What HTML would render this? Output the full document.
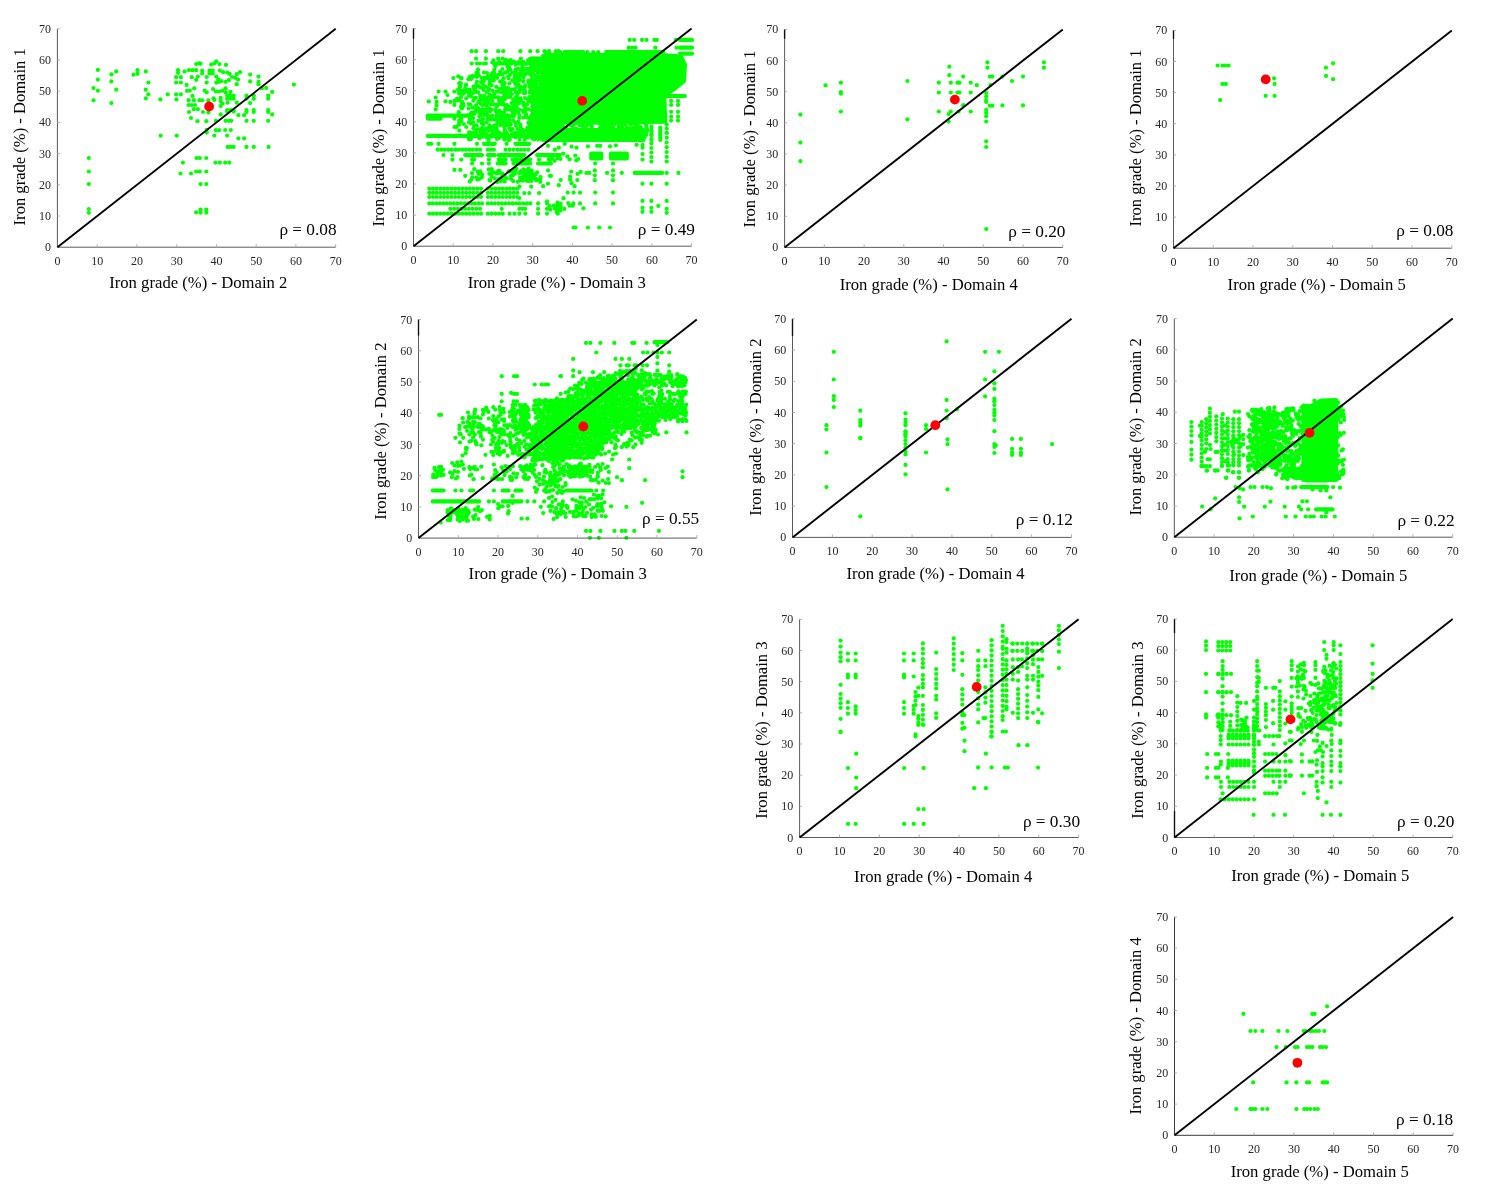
<!DOCTYPE html><html><head><meta charset="utf-8"><style>html,body{margin:0;padding:0;background:#fff;}svg{display:block;}text{font-family:"Liberation Serif","Times New Roman",serif;}</style></head><body>
<svg width="1492" height="1196" viewBox="0 0 1492 1196">
<rect width="1492" height="1196" fill="#fff"/>
<g fill="#00ff00"><circle cx="97.9" cy="69.9" r="2.1"/><circle cx="97.9" cy="79.6" r="2.1"/><circle cx="93.5" cy="88.1" r="2.1"/><circle cx="97.9" cy="90.7" r="2.1"/><circle cx="93.5" cy="100.3" r="2.1"/><circle cx="111.4" cy="74.4" r="2.1"/><circle cx="116.2" cy="71.4" r="2.1"/><circle cx="111.4" cy="81.4" r="2.1"/><circle cx="116.2" cy="89.7" r="2.1"/><circle cx="111.4" cy="103.1" r="2.1"/><circle cx="133.5" cy="74.7" r="2.1"/><circle cx="137.5" cy="70.2" r="2.1"/><circle cx="137.5" cy="73.8" r="2.1"/><circle cx="145.8" cy="71.4" r="2.1"/><circle cx="148.4" cy="82.5" r="2.1"/><circle cx="145.8" cy="89.7" r="2.1"/><circle cx="148.4" cy="94.3" r="2.1"/><circle cx="145.8" cy="98.3" r="2.1"/><circle cx="160.4" cy="99.4" r="2.1"/><circle cx="167.7" cy="94.3" r="2.1"/><circle cx="178" cy="70.2" r="2.1"/><circle cx="178" cy="73" r="2.1"/><circle cx="176.1" cy="77.2" r="2.1"/><circle cx="180.9" cy="77.2" r="2.1"/><circle cx="176.1" cy="82.5" r="2.1"/><circle cx="180.9" cy="82.5" r="2.1"/><circle cx="176.1" cy="94.3" r="2.1"/><circle cx="180.9" cy="94.3" r="2.1"/><circle cx="176.5" cy="99.4" r="2.1"/><circle cx="184.6" cy="71.4" r="2.1"/><circle cx="189" cy="70.2" r="2.1"/><circle cx="192.6" cy="70.2" r="2.1"/><circle cx="196.2" cy="70.2" r="2.1"/><circle cx="196.2" cy="64.1" r="2.1"/><circle cx="199" cy="63.3" r="2.1"/><circle cx="191.8" cy="77.2" r="2.1"/><circle cx="196.2" cy="79.8" r="2.1"/><circle cx="197.8" cy="76.6" r="2.1"/><circle cx="186.6" cy="84.9" r="2.1"/><circle cx="194.2" cy="88.3" r="2.1"/><circle cx="187" cy="90.8" r="2.1"/><circle cx="189.8" cy="90.7" r="2.1"/><circle cx="192.6" cy="95.9" r="2.1"/><circle cx="188.6" cy="100.2" r="2.1"/><circle cx="193.8" cy="100.2" r="2.1"/><circle cx="199.4" cy="100.2" r="2.1"/><circle cx="188.6" cy="105" r="2.1"/><circle cx="191.8" cy="105" r="2.1"/><circle cx="195" cy="105" r="2.1"/><circle cx="193.8" cy="109.2" r="2.1"/><circle cx="197.8" cy="109.2" r="2.1"/><circle cx="189" cy="112" r="2.1"/><circle cx="191" cy="118" r="2.1"/><circle cx="197.4" cy="121.2" r="2.1"/><circle cx="216.3" cy="61.3" r="2.1"/><circle cx="214.3" cy="63.3" r="2.1"/><circle cx="211.1" cy="64.5" r="2.1"/><circle cx="219.5" cy="64.1" r="2.1"/><circle cx="226" cy="64.9" r="2.1"/><circle cx="200.6" cy="63.7" r="2.1"/><circle cx="209.5" cy="70.6" r="2.1"/><circle cx="212.7" cy="70.6" r="2.1"/><circle cx="209.5" cy="73.4" r="2.1"/><circle cx="212.7" cy="73.4" r="2.1"/><circle cx="202.2" cy="70.6" r="2.1"/><circle cx="202.2" cy="73.4" r="2.1"/><circle cx="219.9" cy="70.6" r="2.1"/><circle cx="223.2" cy="72.2" r="2.1"/><circle cx="227.2" cy="72.6" r="2.1"/><circle cx="229.6" cy="73.8" r="2.1"/><circle cx="236.8" cy="74.2" r="2.1"/><circle cx="240" cy="72.2" r="2.1"/><circle cx="206.7" cy="77" r="2.1"/><circle cx="216.3" cy="76.6" r="2.1"/><circle cx="218.3" cy="79.4" r="2.1"/><circle cx="221.5" cy="81" r="2.1"/><circle cx="216.3" cy="82.6" r="2.1"/><circle cx="219.1" cy="81.8" r="2.1"/><circle cx="225.6" cy="81.8" r="2.1"/><circle cx="228.8" cy="80.2" r="2.1"/><circle cx="232" cy="77" r="2.1"/><circle cx="235.2" cy="77.8" r="2.1"/><circle cx="238" cy="79.4" r="2.1"/><circle cx="236.8" cy="84.2" r="2.1"/><circle cx="206.7" cy="82.6" r="2.1"/><circle cx="250.1" cy="74.6" r="2.1"/><circle cx="250.1" cy="81.4" r="2.1"/><circle cx="258.5" cy="76.6" r="2.1"/><circle cx="258.5" cy="81.8" r="2.1"/><circle cx="258.5" cy="84.2" r="2.1"/><circle cx="204.7" cy="90.7" r="2.1"/><circle cx="206.7" cy="92.3" r="2.1"/><circle cx="213.1" cy="89.1" r="2.1"/><circle cx="215.9" cy="91.5" r="2.1"/><circle cx="219.1" cy="91.5" r="2.1"/><circle cx="222.3" cy="90.7" r="2.1"/><circle cx="225.6" cy="88.3" r="2.1"/><circle cx="225.6" cy="92.3" r="2.1"/><circle cx="230.4" cy="91.9" r="2.1"/><circle cx="261.8" cy="88.3" r="2.1"/><circle cx="266.2" cy="87.9" r="2.1"/><circle cx="272.2" cy="91.9" r="2.1"/><circle cx="227.2" cy="95.5" r="2.1"/><circle cx="230.4" cy="95.5" r="2.1"/><circle cx="233.6" cy="95.5" r="2.1"/><circle cx="227.2" cy="98.7" r="2.1"/><circle cx="230.4" cy="98.7" r="2.1"/><circle cx="233.6" cy="98.7" r="2.1"/><circle cx="220.7" cy="97.9" r="2.1"/><circle cx="220.7" cy="101.1" r="2.1"/><circle cx="222.3" cy="103.5" r="2.1"/><circle cx="227.6" cy="102.7" r="2.1"/><circle cx="236.8" cy="102.7" r="2.1"/><circle cx="213.5" cy="98.3" r="2.1"/><circle cx="214.3" cy="99.9" r="2.1"/><circle cx="202.2" cy="100.3" r="2.1"/><circle cx="208.3" cy="100.3" r="2.1"/><circle cx="246.5" cy="95.5" r="2.1"/><circle cx="246.5" cy="98.7" r="2.1"/><circle cx="253.7" cy="95.5" r="2.1"/><circle cx="253.7" cy="98.7" r="2.1"/><circle cx="250.1" cy="103.1" r="2.1"/><circle cx="268.2" cy="95.5" r="2.1"/><circle cx="268.2" cy="98.7" r="2.1"/><circle cx="220.7" cy="106" r="2.1"/><circle cx="203" cy="112" r="2.1"/><circle cx="208.3" cy="112.4" r="2.1"/><circle cx="227.2" cy="110" r="2.1"/><circle cx="230.4" cy="110" r="2.1"/><circle cx="233.6" cy="110" r="2.1"/><circle cx="227.2" cy="111.6" r="2.1"/><circle cx="233.6" cy="111.6" r="2.1"/><circle cx="220.7" cy="114.4" r="2.1"/><circle cx="238.4" cy="115.2" r="2.1"/><circle cx="244.1" cy="115.2" r="2.1"/><circle cx="246.5" cy="110" r="2.1"/><circle cx="246.5" cy="112" r="2.1"/><circle cx="253.7" cy="110" r="2.1"/><circle cx="253.7" cy="112" r="2.1"/><circle cx="268.2" cy="110" r="2.1"/><circle cx="268.2" cy="112" r="2.1"/><circle cx="272.2" cy="114.4" r="2.1"/><circle cx="206.3" cy="121.2" r="2.1"/><circle cx="215.9" cy="120.8" r="2.1"/><circle cx="225.6" cy="120.8" r="2.1"/><circle cx="228.8" cy="120.8" r="2.1"/><circle cx="231.2" cy="120.8" r="2.1"/><circle cx="246.5" cy="120.8" r="2.1"/><circle cx="253.7" cy="120.8" r="2.1"/><circle cx="268.2" cy="120.8" r="2.1"/><circle cx="293.9" cy="84.6" r="2.1"/><circle cx="160.7" cy="135.6" r="2.1"/><circle cx="176.8" cy="135.6" r="2.1"/><circle cx="88.8" cy="158" r="2.1"/><circle cx="88.8" cy="171.5" r="2.1"/><circle cx="88.8" cy="184.1" r="2.1"/><circle cx="88.8" cy="209" r="2.1"/><circle cx="88.8" cy="212.8" r="2.1"/><circle cx="182.9" cy="162.6" r="2.1"/><circle cx="180.5" cy="173.5" r="2.1"/><circle cx="191" cy="173.5" r="2.1"/><circle cx="206.7" cy="129.8" r="2.1"/><circle cx="215.9" cy="130.2" r="2.1"/><circle cx="219.1" cy="130.2" r="2.1"/><circle cx="225.2" cy="130" r="2.1"/><circle cx="230.8" cy="130" r="2.1"/><circle cx="206.7" cy="132.6" r="2.1"/><circle cx="214.3" cy="135.5" r="2.1"/><circle cx="227.2" cy="135.5" r="2.1"/><circle cx="238.4" cy="138.3" r="2.1"/><circle cx="244.1" cy="138.3" r="2.1"/><circle cx="227.6" cy="146.9" r="2.1"/><circle cx="230.4" cy="146.9" r="2.1"/><circle cx="233.6" cy="146.9" r="2.1"/><circle cx="246.5" cy="146.9" r="2.1"/><circle cx="253.7" cy="146.9" r="2.1"/><circle cx="268.6" cy="146.9" r="2.1"/><circle cx="196.6" cy="158" r="2.1"/><circle cx="199.8" cy="158" r="2.1"/><circle cx="206.3" cy="158" r="2.1"/><circle cx="215.5" cy="162.6" r="2.1"/><circle cx="219.9" cy="162.6" r="2.1"/><circle cx="225.2" cy="162.6" r="2.1"/><circle cx="229.2" cy="162.6" r="2.1"/><circle cx="196.2" cy="171.5" r="2.1"/><circle cx="199.8" cy="171.5" r="2.1"/><circle cx="206.3" cy="171.5" r="2.1"/><circle cx="200.6" cy="184.1" r="2.1"/><circle cx="206.3" cy="184.1" r="2.1"/><circle cx="200.6" cy="209.5" r="2.1"/><circle cx="206.3" cy="209.5" r="2.1"/><circle cx="200.6" cy="212.7" r="2.1"/><circle cx="206.3" cy="212.7" r="2.1"/><circle cx="196.2" cy="212.3" r="2.1"/></g>
<path d="M57.4 28.8V247.2H335.7" fill="none" stroke="#5a5a5a" stroke-width="1"/>
<path d="M57.4 216h2.5M97.2 247.2v-3M57.4 184.8h2.5M136.9 247.2v-3M57.4 153.6h2.5M176.7 247.2v-3M57.4 122.4h2.5M216.4 247.2v-3M57.4 91.2h2.5M256.2 247.2v-3M57.4 60h2.5M295.9 247.2v-3M57.4 28.8h2.5M335.7 247.2v-3" stroke="#b0b0b0" stroke-width="1"/>
<line x1="57.4" y1="247.2" x2="335.7" y2="28.8" stroke="#000" stroke-width="1.9"/>
<circle cx="209.1" cy="106.5" r="4.9" fill="#ff0000"/>
<g font-size="12" fill="#262626"><text x="57.4" y="264.7" text-anchor="middle">0</text><text x="51.1" y="251.2" text-anchor="end">0</text><text x="97.2" y="264.7" text-anchor="middle">10</text><text x="51.1" y="220" text-anchor="end">10</text><text x="136.9" y="264.7" text-anchor="middle">20</text><text x="51.1" y="188.8" text-anchor="end">20</text><text x="176.7" y="264.7" text-anchor="middle">30</text><text x="51.1" y="157.6" text-anchor="end">30</text><text x="216.4" y="264.7" text-anchor="middle">40</text><text x="51.1" y="126.4" text-anchor="end">40</text><text x="256.2" y="264.7" text-anchor="middle">50</text><text x="51.1" y="95.2" text-anchor="end">50</text><text x="295.9" y="264.7" text-anchor="middle">60</text><text x="51.1" y="64" text-anchor="end">60</text><text x="335.7" y="264.7" text-anchor="middle">70</text><text x="51.1" y="32.8" text-anchor="end">70</text></g>
<text x="109.2" y="287.9" font-size="17" textLength="178.2" lengthAdjust="spacingAndGlyphs">Iron grade (%) - Domain 2</text>
<text transform="translate(24.7 225.4) rotate(-90)" font-size="17" textLength="177.2" lengthAdjust="spacingAndGlyphs">Iron grade (%) - Domain 1</text>
<text x="336.6" y="234.9" font-size="17" text-anchor="end" textLength="57.2" lengthAdjust="spacingAndGlyphs">ρ = 0.08</text>
<g fill="#00ff00"><circle cx="474.3" cy="169.2" r="2.1"/><circle cx="477.7" cy="171.5" r="2.1"/><circle cx="480.4" cy="171.3" r="2.1"/><circle cx="472" cy="173.2" r="2.1"/><circle cx="478.7" cy="173.8" r="2.1"/><circle cx="482.1" cy="174.6" r="2.1"/><circle cx="472.4" cy="177.3" r="2.1"/><circle cx="476.4" cy="177.3" r="2.1"/><circle cx="481.9" cy="177.3" r="2.1"/><circle cx="471.3" cy="179.8" r="2.1"/><circle cx="477.4" cy="179.6" r="2.1"/><circle cx="479.6" cy="178.8" r="2.1"/><circle cx="469.8" cy="181.6" r="2.1"/><circle cx="488.7" cy="169.4" r="2.1"/><circle cx="491.7" cy="169" r="2.1"/><circle cx="491.7" cy="170.8" r="2.1"/><circle cx="493.9" cy="172.3" r="2.1"/><circle cx="498" cy="171.2" r="2.1"/><circle cx="499.4" cy="170.9" r="2.1"/><circle cx="508.6" cy="171.4" r="2.1"/><circle cx="489.3" cy="173.8" r="2.1"/><circle cx="491.4" cy="173.8" r="2.1"/><circle cx="495.6" cy="173" r="2.1"/><circle cx="496.9" cy="173.3" r="2.1"/><circle cx="499.3" cy="172.9" r="2.1"/><circle cx="502.4" cy="173.6" r="2.1"/><circle cx="491.7" cy="176.7" r="2.1"/><circle cx="502" cy="176.6" r="2.1"/><circle cx="504.5" cy="175.6" r="2.1"/><circle cx="489.5" cy="179.8" r="2.1"/><circle cx="494.9" cy="178.4" r="2.1"/><circle cx="499" cy="178.8" r="2.1"/><circle cx="502.9" cy="179.4" r="2.1"/><circle cx="504.3" cy="177.9" r="2.1"/><circle cx="506.8" cy="178.2" r="2.1"/><circle cx="490.2" cy="180.7" r="2.1"/><circle cx="497.3" cy="182.1" r="2.1"/><circle cx="500.8" cy="181.3" r="2.1"/><circle cx="504.7" cy="181.4" r="2.1"/><circle cx="516.4" cy="168.5" r="2.1"/><circle cx="523.5" cy="169.3" r="2.1"/><circle cx="528.5" cy="168.6" r="2.1"/><circle cx="511.3" cy="171.2" r="2.1"/><circle cx="512.8" cy="170.3" r="2.1"/><circle cx="515.5" cy="170.5" r="2.1"/><circle cx="520.8" cy="171.2" r="2.1"/><circle cx="523.2" cy="171.4" r="2.1"/><circle cx="527.1" cy="170" r="2.1"/><circle cx="528.3" cy="171" r="2.1"/><circle cx="531.7" cy="170.5" r="2.1"/><circle cx="513.2" cy="172.8" r="2.1"/><circle cx="514.8" cy="173.7" r="2.1"/><circle cx="519.1" cy="173.4" r="2.1"/><circle cx="523.4" cy="173.9" r="2.1"/><circle cx="525.4" cy="173.6" r="2.1"/><circle cx="528.3" cy="174.1" r="2.1"/><circle cx="530.7" cy="173.8" r="2.1"/><circle cx="533.1" cy="173.7" r="2.1"/><circle cx="510.9" cy="175.9" r="2.1"/><circle cx="513.1" cy="175.2" r="2.1"/><circle cx="523.5" cy="175.6" r="2.1"/><circle cx="526.5" cy="176.9" r="2.1"/><circle cx="528.1" cy="176.9" r="2.1"/><circle cx="531.4" cy="175.9" r="2.1"/><circle cx="534.1" cy="175.2" r="2.1"/><circle cx="510.9" cy="178.8" r="2.1"/><circle cx="520.2" cy="177.5" r="2.1"/><circle cx="523.2" cy="178.4" r="2.1"/><circle cx="528.3" cy="178.2" r="2.1"/><circle cx="531.1" cy="179.4" r="2.1"/><circle cx="533.8" cy="177.7" r="2.1"/><circle cx="513.3" cy="181.2" r="2.1"/><circle cx="517.7" cy="181.8" r="2.1"/><circle cx="520.2" cy="180.2" r="2.1"/><circle cx="522.8" cy="180.7" r="2.1"/><circle cx="526.7" cy="180.7" r="2.1"/><circle cx="528.3" cy="181.1" r="2.1"/><circle cx="531.4" cy="180.9" r="2.1"/><circle cx="537.1" cy="172.3" r="2.1"/><circle cx="535.6" cy="174.3" r="2.1"/><circle cx="540.6" cy="177.1" r="2.1"/><circle cx="535.4" cy="178.5" r="2.1"/><circle cx="538.1" cy="179.6" r="2.1"/><circle cx="540.4" cy="179.1" r="2.1"/><circle cx="536.1" cy="180.5" r="2.1"/><circle cx="540.1" cy="181.8" r="2.1"/><circle cx="543" cy="56.8" r="2.1"/><circle cx="532.3" cy="58.4" r="2.1"/><circle cx="534.5" cy="58.3" r="2.1"/><circle cx="536.4" cy="59.2" r="2.1"/><circle cx="542.5" cy="59.5" r="2.1"/><circle cx="529.9" cy="60.5" r="2.1"/><circle cx="531.8" cy="61.9" r="2.1"/><circle cx="533.5" cy="61.5" r="2.1"/><circle cx="537.4" cy="61.6" r="2.1"/><circle cx="539.4" cy="62.1" r="2.1"/><circle cx="542.7" cy="62" r="2.1"/><circle cx="532.7" cy="63.5" r="2.1"/><circle cx="534.6" cy="64.4" r="2.1"/><circle cx="537.9" cy="62.8" r="2.1"/><circle cx="539.9" cy="62.7" r="2.1"/><circle cx="542" cy="63.6" r="2.1"/><circle cx="531.4" cy="66.1" r="2.1"/><circle cx="534.2" cy="66.4" r="2.1"/><circle cx="537.4" cy="65.5" r="2.1"/><circle cx="539.2" cy="65.4" r="2.1"/><circle cx="542.5" cy="65.9" r="2.1"/><circle cx="529.8" cy="68.8" r="2.1"/><circle cx="531.4" cy="69.6" r="2.1"/><circle cx="534.5" cy="68.1" r="2.1"/><circle cx="537.2" cy="69.3" r="2.1"/><circle cx="539" cy="67.8" r="2.1"/><circle cx="542.3" cy="68.6" r="2.1"/><circle cx="529.5" cy="71.5" r="2.1"/><circle cx="532.1" cy="70.5" r="2.1"/><circle cx="535" cy="70.5" r="2.1"/><circle cx="538" cy="71.3" r="2.1"/><circle cx="539.6" cy="71.9" r="2.1"/><circle cx="541.8" cy="71.1" r="2.1"/><circle cx="529.9" cy="74.2" r="2.1"/><circle cx="532.7" cy="73" r="2.1"/><circle cx="533.6" cy="74.4" r="2.1"/><circle cx="537.6" cy="72.9" r="2.1"/><circle cx="539.1" cy="72.6" r="2.1"/><circle cx="542.6" cy="73.1" r="2.1"/><circle cx="531.6" cy="75.2" r="2.1"/><circle cx="534.7" cy="75.6" r="2.1"/><circle cx="537.5" cy="76.9" r="2.1"/><circle cx="539.8" cy="76.9" r="2.1"/><circle cx="542.4" cy="76.1" r="2.1"/><circle cx="531.6" cy="78.9" r="2.1"/><circle cx="535.3" cy="79.4" r="2.1"/><circle cx="536.5" cy="78.4" r="2.1"/><circle cx="539.4" cy="78" r="2.1"/><circle cx="541.9" cy="78.1" r="2.1"/><circle cx="529.5" cy="81.9" r="2.1"/><circle cx="531.3" cy="80.2" r="2.1"/><circle cx="535.3" cy="80.6" r="2.1"/><circle cx="536.8" cy="80.9" r="2.1"/><circle cx="539.8" cy="80.8" r="2.1"/><circle cx="541.8" cy="80.9" r="2.1"/><circle cx="529.3" cy="83.2" r="2.1"/><circle cx="531.1" cy="83.1" r="2.1"/><circle cx="533.5" cy="83.3" r="2.1"/><circle cx="536.6" cy="84" r="2.1"/><circle cx="540.3" cy="83.4" r="2.1"/><circle cx="542.2" cy="83.5" r="2.1"/><circle cx="529.4" cy="86.7" r="2.1"/><circle cx="531.7" cy="86.7" r="2.1"/><circle cx="534.6" cy="86.2" r="2.1"/><circle cx="536.7" cy="86.7" r="2.1"/><circle cx="540.6" cy="86.3" r="2.1"/><circle cx="541.8" cy="85.5" r="2.1"/><circle cx="531.2" cy="88.1" r="2.1"/><circle cx="533.9" cy="88" r="2.1"/><circle cx="537.8" cy="88.3" r="2.1"/><circle cx="539.3" cy="87.8" r="2.1"/><circle cx="542.5" cy="89.4" r="2.1"/><circle cx="530.1" cy="91.1" r="2.1"/><circle cx="532.1" cy="91.7" r="2.1"/><circle cx="534.3" cy="91.5" r="2.1"/><circle cx="536.7" cy="90.3" r="2.1"/><circle cx="540.1" cy="90.9" r="2.1"/><circle cx="541.6" cy="91" r="2.1"/><circle cx="529.9" cy="92.7" r="2.1"/><circle cx="532.8" cy="93.5" r="2.1"/><circle cx="535.2" cy="92.6" r="2.1"/><circle cx="537" cy="93" r="2.1"/><circle cx="540.4" cy="93.5" r="2.1"/><circle cx="542.7" cy="93.8" r="2.1"/><circle cx="529.4" cy="97" r="2.1"/><circle cx="532.8" cy="95.5" r="2.1"/><circle cx="534.1" cy="97" r="2.1"/><circle cx="536.9" cy="95.9" r="2.1"/><circle cx="539.3" cy="96.9" r="2.1"/><circle cx="542.8" cy="96.1" r="2.1"/><circle cx="529.7" cy="98.3" r="2.1"/><circle cx="531.9" cy="98.2" r="2.1"/><circle cx="533.6" cy="98.6" r="2.1"/><circle cx="537" cy="98.4" r="2.1"/><circle cx="539.1" cy="98.6" r="2.1"/><circle cx="542.7" cy="99.3" r="2.1"/><circle cx="531" cy="101.7" r="2.1"/><circle cx="534.7" cy="101.5" r="2.1"/><circle cx="537.2" cy="100.3" r="2.1"/><circle cx="540.6" cy="101.7" r="2.1"/><circle cx="532.6" cy="103.8" r="2.1"/><circle cx="533.8" cy="103.3" r="2.1"/><circle cx="536.9" cy="103.6" r="2.1"/><circle cx="539.9" cy="103" r="2.1"/><circle cx="542.9" cy="104.6" r="2.1"/><circle cx="532.4" cy="106.3" r="2.1"/><circle cx="534" cy="106.9" r="2.1"/><circle cx="537.7" cy="106.6" r="2.1"/><circle cx="540.2" cy="106.7" r="2.1"/><circle cx="541.3" cy="106.2" r="2.1"/><circle cx="532.6" cy="108.3" r="2.1"/><circle cx="534.7" cy="107.9" r="2.1"/><circle cx="537.3" cy="109.1" r="2.1"/><circle cx="539.6" cy="107.9" r="2.1"/><circle cx="542.9" cy="108.6" r="2.1"/><circle cx="531.4" cy="110.3" r="2.1"/><circle cx="533.5" cy="111.2" r="2.1"/><circle cx="537.5" cy="111.1" r="2.1"/><circle cx="539.1" cy="111.5" r="2.1"/><circle cx="542" cy="111.7" r="2.1"/><circle cx="532.4" cy="113.6" r="2.1"/><circle cx="535.1" cy="112.8" r="2.1"/><circle cx="537.5" cy="113.9" r="2.1"/><circle cx="540.2" cy="113.8" r="2.1"/><circle cx="542.4" cy="112.8" r="2.1"/><circle cx="530.2" cy="116.8" r="2.1"/><circle cx="531.2" cy="116.2" r="2.1"/><circle cx="534.4" cy="115.5" r="2.1"/><circle cx="536.8" cy="115.9" r="2.1"/><circle cx="540" cy="116.4" r="2.1"/><circle cx="541.8" cy="116.2" r="2.1"/><circle cx="529.9" cy="118.4" r="2.1"/><circle cx="531.3" cy="118.6" r="2.1"/><circle cx="535.2" cy="118.3" r="2.1"/><circle cx="537.1" cy="119.6" r="2.1"/><circle cx="540.6" cy="119.4" r="2.1"/><circle cx="542.7" cy="118.9" r="2.1"/><circle cx="529.9" cy="121.8" r="2.1"/><circle cx="532.7" cy="120.6" r="2.1"/><circle cx="534" cy="121.2" r="2.1"/><circle cx="536.4" cy="121.6" r="2.1"/><circle cx="540.2" cy="120.5" r="2.1"/><circle cx="529.4" cy="124" r="2.1"/><circle cx="531.9" cy="124.2" r="2.1"/><circle cx="534" cy="124.6" r="2.1"/><circle cx="537.5" cy="123.9" r="2.1"/><circle cx="538.9" cy="122.6" r="2.1"/><circle cx="541.6" cy="123.1" r="2.1"/><circle cx="529.9" cy="125.9" r="2.1"/><circle cx="531.7" cy="125.8" r="2.1"/><circle cx="534.9" cy="126.4" r="2.1"/><circle cx="537.1" cy="125.6" r="2.1"/><circle cx="539.3" cy="125.7" r="2.1"/><circle cx="542.1" cy="127" r="2.1"/><circle cx="530.2" cy="128.6" r="2.1"/><circle cx="532" cy="129.2" r="2.1"/><circle cx="533.5" cy="129.2" r="2.1"/><circle cx="537.6" cy="128.4" r="2.1"/><circle cx="539.6" cy="127.7" r="2.1"/><circle cx="542.7" cy="128.5" r="2.1"/><circle cx="530.1" cy="131.6" r="2.1"/><circle cx="532.2" cy="131.1" r="2.1"/><circle cx="533.8" cy="131.1" r="2.1"/><circle cx="536.6" cy="130.2" r="2.1"/><circle cx="538.8" cy="131.1" r="2.1"/><circle cx="541.4" cy="130.7" r="2.1"/><circle cx="529.3" cy="134.1" r="2.1"/><circle cx="532.5" cy="132.9" r="2.1"/><circle cx="534.2" cy="132.9" r="2.1"/><circle cx="536.5" cy="133.5" r="2.1"/><circle cx="538.8" cy="133.4" r="2.1"/><circle cx="541.9" cy="133.7" r="2.1"/><circle cx="529.9" cy="135.5" r="2.1"/><circle cx="530.9" cy="136.8" r="2.1"/><circle cx="533.6" cy="136.2" r="2.1"/><circle cx="537.7" cy="135.9" r="2.1"/><circle cx="539.1" cy="136" r="2.1"/><circle cx="542.2" cy="136.7" r="2.1"/><circle cx="532" cy="138.1" r="2.1"/><circle cx="534.2" cy="139.5" r="2.1"/><circle cx="537.9" cy="139.3" r="2.1"/><circle cx="540.3" cy="138.1" r="2.1"/><circle cx="541.7" cy="139.2" r="2.1"/><polygon points="543.1,56.1 560,55.6 560,140 543.1,140" stroke="#00ff00" stroke-width="4.2" stroke-linejoin="round"/><circle cx="510.2" cy="69.5" r="2.1"/><circle cx="515.6" cy="69.4" r="2.1"/><circle cx="517.1" cy="69.2" r="2.1"/><circle cx="522.8" cy="69.7" r="2.1"/><circle cx="526" cy="69" r="2.1"/><circle cx="476.4" cy="72.8" r="2.1"/><circle cx="477.8" cy="72.5" r="2.1"/><circle cx="487" cy="73.1" r="2.1"/><circle cx="492.4" cy="73" r="2.1"/><circle cx="494" cy="72.5" r="2.1"/><circle cx="500.1" cy="71.9" r="2.1"/><circle cx="504.9" cy="72.7" r="2.1"/><circle cx="507" cy="72.1" r="2.1"/><circle cx="512.3" cy="72.5" r="2.1"/><circle cx="515.5" cy="72.6" r="2.1"/><circle cx="520.9" cy="72.4" r="2.1"/><circle cx="522.3" cy="72.5" r="2.1"/><circle cx="525.8" cy="73.3" r="2.1"/><circle cx="527.9" cy="73.3" r="2.1"/><circle cx="472.6" cy="75.9" r="2.1"/><circle cx="476.2" cy="75.5" r="2.1"/><circle cx="478.9" cy="75.5" r="2.1"/><circle cx="491.1" cy="74.4" r="2.1"/><circle cx="494.7" cy="75.9" r="2.1"/><circle cx="497.1" cy="75.2" r="2.1"/><circle cx="499.9" cy="74.4" r="2.1"/><circle cx="502.3" cy="74.4" r="2.1"/><circle cx="509.9" cy="74.8" r="2.1"/><circle cx="514.8" cy="75.9" r="2.1"/><circle cx="518.1" cy="74.2" r="2.1"/><circle cx="519.5" cy="75.5" r="2.1"/><circle cx="522" cy="75.2" r="2.1"/><circle cx="524.8" cy="75" r="2.1"/><circle cx="469.8" cy="76.9" r="2.1"/><circle cx="473.5" cy="76.6" r="2.1"/><circle cx="476.9" cy="77" r="2.1"/><circle cx="481.8" cy="78" r="2.1"/><circle cx="484.3" cy="77.6" r="2.1"/><circle cx="487.3" cy="78.4" r="2.1"/><circle cx="488" cy="76.6" r="2.1"/><circle cx="492.2" cy="77.3" r="2.1"/><circle cx="494.6" cy="77.4" r="2.1"/><circle cx="497.1" cy="78" r="2.1"/><circle cx="503.7" cy="78.2" r="2.1"/><circle cx="508.1" cy="76.5" r="2.1"/><circle cx="508.8" cy="78.4" r="2.1"/><circle cx="514.6" cy="78.2" r="2.1"/><circle cx="517.7" cy="76.5" r="2.1"/><circle cx="519.3" cy="78.3" r="2.1"/><circle cx="523.6" cy="78" r="2.1"/><circle cx="468.4" cy="79.2" r="2.1"/><circle cx="471.1" cy="79.1" r="2.1"/><circle cx="483.9" cy="80.9" r="2.1"/><circle cx="489.6" cy="79.9" r="2.1"/><circle cx="491.3" cy="79.9" r="2.1"/><circle cx="493.8" cy="80.7" r="2.1"/><circle cx="502.6" cy="80.6" r="2.1"/><circle cx="512.6" cy="80.5" r="2.1"/><circle cx="517.8" cy="80.3" r="2.1"/><circle cx="520" cy="80" r="2.1"/><circle cx="528.4" cy="80.7" r="2.1"/><circle cx="476.9" cy="81.9" r="2.1"/><circle cx="481.1" cy="82.2" r="2.1"/><circle cx="489.7" cy="82.4" r="2.1"/><circle cx="500" cy="81.5" r="2.1"/><circle cx="504.7" cy="83.1" r="2.1"/><circle cx="509.5" cy="83.3" r="2.1"/><circle cx="514.8" cy="82.2" r="2.1"/><circle cx="523.2" cy="81.5" r="2.1"/><circle cx="528.6" cy="82.5" r="2.1"/><circle cx="476.1" cy="85" r="2.1"/><circle cx="478.1" cy="85.8" r="2.1"/><circle cx="483" cy="84.5" r="2.1"/><circle cx="489.5" cy="84.5" r="2.1"/><circle cx="491.6" cy="85.3" r="2.1"/><circle cx="502.2" cy="84.1" r="2.1"/><circle cx="503.7" cy="84.4" r="2.1"/><circle cx="515.4" cy="84.1" r="2.1"/><circle cx="518.5" cy="84" r="2.1"/><circle cx="525.2" cy="85.4" r="2.1"/><circle cx="473.5" cy="86.6" r="2.1"/><circle cx="475.2" cy="88.1" r="2.1"/><circle cx="479.3" cy="87" r="2.1"/><circle cx="482.1" cy="87.9" r="2.1"/><circle cx="485.8" cy="86.6" r="2.1"/><circle cx="488.6" cy="88.3" r="2.1"/><circle cx="496.2" cy="86.8" r="2.1"/><circle cx="502.6" cy="87.3" r="2.1"/><circle cx="504.4" cy="87.5" r="2.1"/><circle cx="507.9" cy="87.9" r="2.1"/><circle cx="517.3" cy="87" r="2.1"/><circle cx="520.1" cy="86.6" r="2.1"/><circle cx="522.6" cy="87.8" r="2.1"/><circle cx="524.5" cy="87.3" r="2.1"/><circle cx="468.6" cy="90.8" r="2.1"/><circle cx="469.9" cy="89.9" r="2.1"/><circle cx="474.1" cy="89.1" r="2.1"/><circle cx="475.2" cy="89.9" r="2.1"/><circle cx="483.5" cy="89.9" r="2.1"/><circle cx="489" cy="89.9" r="2.1"/><circle cx="492.5" cy="90.8" r="2.1"/><circle cx="499.2" cy="88.9" r="2.1"/><circle cx="502.8" cy="89" r="2.1"/><circle cx="505.1" cy="89.4" r="2.1"/><circle cx="510.2" cy="90" r="2.1"/><circle cx="511.7" cy="89.4" r="2.1"/><circle cx="514.5" cy="89.2" r="2.1"/><circle cx="520" cy="89.7" r="2.1"/><circle cx="522.1" cy="89.4" r="2.1"/><circle cx="524.9" cy="90.6" r="2.1"/><circle cx="468.8" cy="92.2" r="2.1"/><circle cx="471.3" cy="92.9" r="2.1"/><circle cx="473.2" cy="93" r="2.1"/><circle cx="476.2" cy="92" r="2.1"/><circle cx="478.2" cy="92.3" r="2.1"/><circle cx="486.4" cy="92.1" r="2.1"/><circle cx="496.5" cy="91.7" r="2.1"/><circle cx="499.9" cy="92" r="2.1"/><circle cx="502.8" cy="92.6" r="2.1"/><circle cx="505.3" cy="91.8" r="2.1"/><circle cx="507.1" cy="92.1" r="2.1"/><circle cx="510.3" cy="92.8" r="2.1"/><circle cx="515.9" cy="92.2" r="2.1"/><circle cx="517" cy="92.6" r="2.1"/><circle cx="519.7" cy="91.9" r="2.1"/><circle cx="523.7" cy="93" r="2.1"/><circle cx="525.3" cy="93.1" r="2.1"/><circle cx="468.8" cy="95.8" r="2.1"/><circle cx="470.1" cy="94.5" r="2.1"/><circle cx="480.3" cy="95.7" r="2.1"/><circle cx="484.1" cy="95.7" r="2.1"/><circle cx="489.4" cy="94.6" r="2.1"/><circle cx="492" cy="95.9" r="2.1"/><circle cx="494.1" cy="94.2" r="2.1"/><circle cx="504.5" cy="94" r="2.1"/><circle cx="506.9" cy="95.2" r="2.1"/><circle cx="511.7" cy="94.1" r="2.1"/><circle cx="517.3" cy="94.3" r="2.1"/><circle cx="471" cy="96.5" r="2.1"/><circle cx="474.4" cy="98.1" r="2.1"/><circle cx="475.9" cy="97.8" r="2.1"/><circle cx="480.5" cy="98.1" r="2.1"/><circle cx="483.8" cy="98.1" r="2.1"/><circle cx="486.9" cy="98" r="2.1"/><circle cx="488.6" cy="97.4" r="2.1"/><circle cx="491.5" cy="98" r="2.1"/><circle cx="494.7" cy="97.2" r="2.1"/><circle cx="497.6" cy="97.3" r="2.1"/><circle cx="498.6" cy="97.4" r="2.1"/><circle cx="502.1" cy="97.9" r="2.1"/><circle cx="504" cy="97" r="2.1"/><circle cx="508.2" cy="96.9" r="2.1"/><circle cx="510.3" cy="96.9" r="2.1"/><circle cx="515.7" cy="97.4" r="2.1"/><circle cx="517.6" cy="97.7" r="2.1"/><circle cx="520.4" cy="98.4" r="2.1"/><circle cx="525" cy="98" r="2.1"/><circle cx="473.4" cy="100.7" r="2.1"/><circle cx="479.4" cy="100.5" r="2.1"/><circle cx="481.8" cy="99.9" r="2.1"/><circle cx="483.3" cy="100.1" r="2.1"/><circle cx="485.6" cy="100.1" r="2.1"/><circle cx="488" cy="100.6" r="2.1"/><circle cx="492.2" cy="100.9" r="2.1"/><circle cx="499.1" cy="100.5" r="2.1"/><circle cx="502.7" cy="100.3" r="2.1"/><circle cx="505.1" cy="99.1" r="2.1"/><circle cx="513.2" cy="99.3" r="2.1"/><circle cx="515" cy="100.8" r="2.1"/><circle cx="517.7" cy="100.6" r="2.1"/><circle cx="520.9" cy="100.2" r="2.1"/><circle cx="528" cy="99.8" r="2.1"/><circle cx="478.6" cy="102.2" r="2.1"/><circle cx="484.5" cy="103.3" r="2.1"/><circle cx="485.5" cy="103.3" r="2.1"/><circle cx="488" cy="102.7" r="2.1"/><circle cx="499.5" cy="101.8" r="2.1"/><circle cx="502.8" cy="103" r="2.1"/><circle cx="511.7" cy="103.2" r="2.1"/><circle cx="514" cy="102.1" r="2.1"/><circle cx="517.2" cy="103.2" r="2.1"/><circle cx="519.7" cy="102.9" r="2.1"/><circle cx="523.7" cy="102.8" r="2.1"/><circle cx="528.5" cy="101.6" r="2.1"/><circle cx="468.7" cy="104.1" r="2.1"/><circle cx="470.3" cy="104.5" r="2.1"/><circle cx="476.1" cy="105" r="2.1"/><circle cx="481.3" cy="104.3" r="2.1"/><circle cx="482.8" cy="105.4" r="2.1"/><circle cx="486.4" cy="105.3" r="2.1"/><circle cx="490.9" cy="104.2" r="2.1"/><circle cx="494.2" cy="104.4" r="2.1"/><circle cx="496.8" cy="104.5" r="2.1"/><circle cx="499.4" cy="104.2" r="2.1"/><circle cx="502.8" cy="104.3" r="2.1"/><circle cx="504.1" cy="104.6" r="2.1"/><circle cx="507" cy="105.2" r="2.1"/><circle cx="514.2" cy="105.6" r="2.1"/><circle cx="523.4" cy="105.1" r="2.1"/><circle cx="526" cy="104.6" r="2.1"/><circle cx="527" cy="104.5" r="2.1"/><circle cx="468.7" cy="108.3" r="2.1"/><circle cx="472.7" cy="107.4" r="2.1"/><circle cx="476.6" cy="107.8" r="2.1"/><circle cx="478.4" cy="108.3" r="2.1"/><circle cx="489.4" cy="108.1" r="2.1"/><circle cx="496.7" cy="106.5" r="2.1"/><circle cx="505.4" cy="107.9" r="2.1"/><circle cx="507.3" cy="106.9" r="2.1"/><circle cx="509" cy="106.8" r="2.1"/><circle cx="512.7" cy="107.1" r="2.1"/><circle cx="514.7" cy="107.9" r="2.1"/><circle cx="516.8" cy="106.8" r="2.1"/><circle cx="525.2" cy="107.6" r="2.1"/><circle cx="476.1" cy="109.6" r="2.1"/><circle cx="478.3" cy="110.1" r="2.1"/><circle cx="480.6" cy="109.7" r="2.1"/><circle cx="483.6" cy="109.7" r="2.1"/><circle cx="486.3" cy="109" r="2.1"/><circle cx="491.2" cy="109.7" r="2.1"/><circle cx="495.1" cy="109.6" r="2.1"/><circle cx="495.8" cy="110.6" r="2.1"/><circle cx="499.5" cy="110.6" r="2.1"/><circle cx="505.1" cy="110.1" r="2.1"/><circle cx="507.9" cy="109.5" r="2.1"/><circle cx="509.5" cy="109.3" r="2.1"/><circle cx="512.5" cy="110.1" r="2.1"/><circle cx="514.8" cy="110.3" r="2.1"/><circle cx="519.3" cy="109.5" r="2.1"/><circle cx="522.6" cy="110.5" r="2.1"/><circle cx="525.3" cy="110.7" r="2.1"/><circle cx="528.1" cy="109.1" r="2.1"/><circle cx="471.1" cy="112.9" r="2.1"/><circle cx="472.5" cy="112.7" r="2.1"/><circle cx="475.2" cy="112" r="2.1"/><circle cx="479.2" cy="113.1" r="2.1"/><circle cx="482.1" cy="112.3" r="2.1"/><circle cx="484.5" cy="113" r="2.1"/><circle cx="486.6" cy="112.7" r="2.1"/><circle cx="490" cy="111.5" r="2.1"/><circle cx="496.6" cy="112.2" r="2.1"/><circle cx="499.7" cy="111.9" r="2.1"/><circle cx="502.2" cy="112.8" r="2.1"/><circle cx="504" cy="112.4" r="2.1"/><circle cx="512.5" cy="111.6" r="2.1"/><circle cx="515.9" cy="112.5" r="2.1"/><circle cx="518.1" cy="112.3" r="2.1"/><circle cx="523.4" cy="111.9" r="2.1"/><circle cx="525.5" cy="113.3" r="2.1"/><circle cx="468.8" cy="115.4" r="2.1"/><circle cx="471.5" cy="115.9" r="2.1"/><circle cx="474" cy="113.9" r="2.1"/><circle cx="480.7" cy="115.8" r="2.1"/><circle cx="484.2" cy="115.2" r="2.1"/><circle cx="487.2" cy="115.5" r="2.1"/><circle cx="488.3" cy="115.8" r="2.1"/><circle cx="492.2" cy="115.6" r="2.1"/><circle cx="496.5" cy="115.6" r="2.1"/><circle cx="499.7" cy="115.9" r="2.1"/><circle cx="502.7" cy="114.5" r="2.1"/><circle cx="503.8" cy="115.6" r="2.1"/><circle cx="507.1" cy="115.1" r="2.1"/><circle cx="510.8" cy="115.7" r="2.1"/><circle cx="513.3" cy="114.3" r="2.1"/><circle cx="514.1" cy="115.2" r="2.1"/><circle cx="519.4" cy="115" r="2.1"/><circle cx="526.1" cy="114.9" r="2.1"/><circle cx="469.9" cy="118.3" r="2.1"/><circle cx="473.1" cy="118" r="2.1"/><circle cx="479.4" cy="116.5" r="2.1"/><circle cx="488.1" cy="118.3" r="2.1"/><circle cx="492" cy="116.6" r="2.1"/><circle cx="496.2" cy="118.3" r="2.1"/><circle cx="500.3" cy="116.8" r="2.1"/><circle cx="501.4" cy="118.1" r="2.1"/><circle cx="505.2" cy="118.4" r="2.1"/><circle cx="507.3" cy="118.4" r="2.1"/><circle cx="509.5" cy="118.1" r="2.1"/><circle cx="513.4" cy="117" r="2.1"/><circle cx="519.2" cy="117.9" r="2.1"/><circle cx="523.4" cy="117.6" r="2.1"/><circle cx="525.8" cy="116.5" r="2.1"/><circle cx="527" cy="117.5" r="2.1"/><circle cx="470" cy="119.3" r="2.1"/><circle cx="478.4" cy="120.9" r="2.1"/><circle cx="480.3" cy="120.3" r="2.1"/><circle cx="483" cy="119" r="2.1"/><circle cx="487.3" cy="119" r="2.1"/><circle cx="489" cy="119" r="2.1"/><circle cx="491.1" cy="119.7" r="2.1"/><circle cx="493.9" cy="119.6" r="2.1"/><circle cx="496.7" cy="119.8" r="2.1"/><circle cx="500.1" cy="119.1" r="2.1"/><circle cx="503.7" cy="120.6" r="2.1"/><circle cx="509.5" cy="119.8" r="2.1"/><circle cx="513.3" cy="120.9" r="2.1"/><circle cx="468.9" cy="122.3" r="2.1"/><circle cx="470.6" cy="123.3" r="2.1"/><circle cx="473.3" cy="122" r="2.1"/><circle cx="481.9" cy="123.4" r="2.1"/><circle cx="483" cy="122.7" r="2.1"/><circle cx="486.9" cy="122.5" r="2.1"/><circle cx="497.7" cy="122.4" r="2.1"/><circle cx="500" cy="122.2" r="2.1"/><circle cx="504.3" cy="123.3" r="2.1"/><circle cx="506.2" cy="122.4" r="2.1"/><circle cx="509.8" cy="123.2" r="2.1"/><circle cx="515.8" cy="122.9" r="2.1"/><circle cx="518.3" cy="121.8" r="2.1"/><circle cx="528.3" cy="122.8" r="2.1"/><circle cx="474" cy="125.4" r="2.1"/><circle cx="476.7" cy="125.3" r="2.1"/><circle cx="483.5" cy="124.7" r="2.1"/><circle cx="489.5" cy="125.4" r="2.1"/><circle cx="493.7" cy="125.8" r="2.1"/><circle cx="496.3" cy="124.6" r="2.1"/><circle cx="500.3" cy="125.1" r="2.1"/><circle cx="502" cy="124.5" r="2.1"/><circle cx="505.4" cy="125.3" r="2.1"/><circle cx="507.9" cy="125.5" r="2.1"/><circle cx="510.8" cy="124.5" r="2.1"/><circle cx="516" cy="125.8" r="2.1"/><circle cx="520.1" cy="124.4" r="2.1"/><circle cx="473.4" cy="128.3" r="2.1"/><circle cx="482.1" cy="127.5" r="2.1"/><circle cx="486.4" cy="128.3" r="2.1"/><circle cx="489" cy="128.2" r="2.1"/><circle cx="491.5" cy="127.9" r="2.1"/><circle cx="494.1" cy="126.5" r="2.1"/><circle cx="496.5" cy="127.4" r="2.1"/><circle cx="504.3" cy="127.1" r="2.1"/><circle cx="509.6" cy="128.2" r="2.1"/><circle cx="520.6" cy="126.5" r="2.1"/><circle cx="527.6" cy="127.6" r="2.1"/><circle cx="476.2" cy="130.1" r="2.1"/><circle cx="478.1" cy="129" r="2.1"/><circle cx="481.4" cy="129.4" r="2.1"/><circle cx="484.3" cy="129.3" r="2.1"/><circle cx="488.4" cy="130.8" r="2.1"/><circle cx="491.4" cy="129.8" r="2.1"/><circle cx="494.9" cy="129.7" r="2.1"/><circle cx="496.9" cy="129.9" r="2.1"/><circle cx="504.9" cy="129.9" r="2.1"/><circle cx="510.5" cy="130.3" r="2.1"/><circle cx="512.4" cy="129.2" r="2.1"/><circle cx="517.7" cy="129" r="2.1"/><circle cx="519.7" cy="130.8" r="2.1"/><circle cx="522.4" cy="129.5" r="2.1"/><circle cx="525.3" cy="130.4" r="2.1"/><circle cx="528.8" cy="130.6" r="2.1"/><circle cx="469.1" cy="132.3" r="2.1"/><circle cx="470.2" cy="132.7" r="2.1"/><circle cx="473.9" cy="132.7" r="2.1"/><circle cx="476.4" cy="133" r="2.1"/><circle cx="480.4" cy="132" r="2.1"/><circle cx="484" cy="132.6" r="2.1"/><circle cx="485.8" cy="133.4" r="2.1"/><circle cx="492.3" cy="132.8" r="2.1"/><circle cx="493.8" cy="133" r="2.1"/><circle cx="496.9" cy="131.8" r="2.1"/><circle cx="499.5" cy="132.5" r="2.1"/><circle cx="504.4" cy="132.5" r="2.1"/><circle cx="506.8" cy="132.9" r="2.1"/><circle cx="512.4" cy="133.4" r="2.1"/><circle cx="515.1" cy="132.9" r="2.1"/><circle cx="517" cy="133.4" r="2.1"/><circle cx="519.4" cy="132.2" r="2.1"/><circle cx="523.5" cy="132.2" r="2.1"/><circle cx="525.4" cy="131.6" r="2.1"/><circle cx="528.3" cy="132.4" r="2.1"/><circle cx="468.8" cy="135.1" r="2.1"/><circle cx="471.2" cy="134.1" r="2.1"/><circle cx="473.3" cy="134.6" r="2.1"/><circle cx="481.2" cy="134" r="2.1"/><circle cx="488.5" cy="135.5" r="2.1"/><circle cx="492.3" cy="134.4" r="2.1"/><circle cx="495.1" cy="134.4" r="2.1"/><circle cx="496.9" cy="135.4" r="2.1"/><circle cx="501.8" cy="134.7" r="2.1"/><circle cx="504.5" cy="135.4" r="2.1"/><circle cx="507.7" cy="135.4" r="2.1"/><circle cx="511.9" cy="135.4" r="2.1"/><circle cx="515.2" cy="134.4" r="2.1"/><circle cx="517.8" cy="134.4" r="2.1"/><circle cx="522.3" cy="134.7" r="2.1"/><circle cx="472.6" cy="136.5" r="2.1"/><circle cx="479.4" cy="138.3" r="2.1"/><circle cx="480.5" cy="136.9" r="2.1"/><circle cx="483.1" cy="136.7" r="2.1"/><circle cx="486.7" cy="137.5" r="2.1"/><circle cx="489.7" cy="137.4" r="2.1"/><circle cx="492.4" cy="136.6" r="2.1"/><circle cx="499.1" cy="137.9" r="2.1"/><circle cx="504.3" cy="137.8" r="2.1"/><circle cx="508" cy="137.2" r="2.1"/><circle cx="515.3" cy="137.3" r="2.1"/><circle cx="527.7" cy="137.6" r="2.1"/><circle cx="468.8" cy="139.1" r="2.1"/><circle cx="470.7" cy="139.2" r="2.1"/><circle cx="488.6" cy="139.9" r="2.1"/><circle cx="496.9" cy="139" r="2.1"/><circle cx="504.4" cy="139.5" r="2.1"/><circle cx="508.1" cy="139.8" r="2.1"/><circle cx="509.7" cy="139.7" r="2.1"/><circle cx="519.6" cy="139.6" r="2.1"/><circle cx="524.7" cy="139.6" r="2.1"/><circle cx="493.5" cy="60.4" r="2.1"/><circle cx="505.8" cy="59.9" r="2.1"/><circle cx="510.6" cy="60" r="2.1"/><circle cx="528.2" cy="60.2" r="2.1"/><circle cx="492.4" cy="62.3" r="2.1"/><circle cx="499.3" cy="61.9" r="2.1"/><circle cx="505.5" cy="61.3" r="2.1"/><circle cx="508.2" cy="61.1" r="2.1"/><circle cx="509.8" cy="61.1" r="2.1"/><circle cx="513.1" cy="61.7" r="2.1"/><circle cx="514.6" cy="62.2" r="2.1"/><circle cx="518.6" cy="62" r="2.1"/><circle cx="520.1" cy="62.9" r="2.1"/><circle cx="523.2" cy="61.9" r="2.1"/><circle cx="527.6" cy="62.7" r="2.1"/><circle cx="497.7" cy="63.7" r="2.1"/><circle cx="515.6" cy="64.7" r="2.1"/><circle cx="526.2" cy="64" r="2.1"/><circle cx="495.3" cy="66.2" r="2.1"/><circle cx="507.6" cy="66.4" r="2.1"/><circle cx="509.1" cy="66.9" r="2.1"/><circle cx="522.6" cy="66.8" r="2.1"/><circle cx="494.4" cy="69.5" r="2.1"/><circle cx="502.4" cy="69" r="2.1"/><circle cx="508.2" cy="69.9" r="2.1"/><circle cx="515.9" cy="70.1" r="2.1"/><circle cx="518.1" cy="68.8" r="2.1"/><circle cx="520.6" cy="69.3" r="2.1"/><circle cx="523.9" cy="70.4" r="2.1"/><circle cx="526.6" cy="68.9" r="2.1"/><circle cx="529.1" cy="68.7" r="2.1"/><circle cx="461.2" cy="77.9" r="2.1"/><circle cx="460.9" cy="83.3" r="2.1"/><circle cx="466" cy="84.5" r="2.1"/><circle cx="459.7" cy="86.9" r="2.1"/><circle cx="465.9" cy="85.6" r="2.1"/><circle cx="458.1" cy="89.6" r="2.1"/><circle cx="465.1" cy="88.5" r="2.1"/><circle cx="467.2" cy="89.7" r="2.1"/><circle cx="459.9" cy="92.3" r="2.1"/><circle cx="461.2" cy="90.5" r="2.1"/><circle cx="464.9" cy="90.6" r="2.1"/><circle cx="466.8" cy="91.4" r="2.1"/><circle cx="458.9" cy="93.3" r="2.1"/><circle cx="461.2" cy="93.1" r="2.1"/><circle cx="463.8" cy="93.4" r="2.1"/><circle cx="461" cy="97.2" r="2.1"/><circle cx="456.9" cy="98.9" r="2.1"/><circle cx="466.2" cy="98.4" r="2.1"/><circle cx="457.1" cy="100.4" r="2.1"/><circle cx="459.2" cy="100.5" r="2.1"/><circle cx="462.3" cy="102.2" r="2.1"/><circle cx="461.9" cy="104.6" r="2.1"/><circle cx="463.2" cy="104.2" r="2.1"/><circle cx="461" cy="106.8" r="2.1"/><circle cx="463.4" cy="105.7" r="2.1"/><circle cx="461.8" cy="108.3" r="2.1"/><circle cx="458.8" cy="112.2" r="2.1"/><circle cx="461.1" cy="118.3" r="2.1"/><circle cx="459.7" cy="121.2" r="2.1"/><circle cx="461.4" cy="120.8" r="2.1"/><circle cx="458.7" cy="124.2" r="2.1"/><circle cx="463.7" cy="124" r="2.1"/><circle cx="456.6" cy="126.9" r="2.1"/><circle cx="466.2" cy="127" r="2.1"/><polygon points="545,55.1 663.2,55.1 681,56.6 684.9,64.5 683.9,81.2 674.1,89.1 664.2,95 665.2,121.6 604.1,122.6 545,122.6" stroke="#00ff00" stroke-width="4.2" stroke-linejoin="round"/><circle cx="549.9" cy="123.5" r="2.1"/><circle cx="558.3" cy="122.7" r="2.1"/><circle cx="560" cy="122.8" r="2.1"/><circle cx="574.5" cy="123" r="2.1"/><circle cx="576.2" cy="123.1" r="2.1"/><circle cx="580.6" cy="122.7" r="2.1"/><circle cx="583.6" cy="122.8" r="2.1"/><circle cx="589.2" cy="123" r="2.1"/><circle cx="599.5" cy="123.5" r="2.1"/><circle cx="605.6" cy="123.2" r="2.1"/><circle cx="610.9" cy="123.5" r="2.1"/><circle cx="618.5" cy="123.5" r="2.1"/><circle cx="633" cy="123.4" r="2.1"/><circle cx="635" cy="122.8" r="2.1"/><circle cx="644.2" cy="122.9" r="2.1"/><circle cx="645.5" cy="123.2" r="2.1"/><circle cx="545.1" cy="126.1" r="2.1"/><circle cx="546.8" cy="124.8" r="2.1"/><circle cx="550.3" cy="125.7" r="2.1"/><circle cx="552.5" cy="124.9" r="2.1"/><circle cx="555.3" cy="125.2" r="2.1"/><circle cx="557.1" cy="124.6" r="2.1"/><circle cx="561.3" cy="125.9" r="2.1"/><circle cx="570.2" cy="124.9" r="2.1"/><circle cx="573.4" cy="124.9" r="2.1"/><circle cx="579.7" cy="125.4" r="2.1"/><circle cx="581.6" cy="125" r="2.1"/><circle cx="587.4" cy="124.9" r="2.1"/><circle cx="590.1" cy="124.5" r="2.1"/><circle cx="591.7" cy="126.1" r="2.1"/><circle cx="602.3" cy="125.5" r="2.1"/><circle cx="604.3" cy="126" r="2.1"/><circle cx="606.9" cy="124.5" r="2.1"/><circle cx="610.8" cy="124.5" r="2.1"/><circle cx="614.6" cy="124.3" r="2.1"/><circle cx="618.7" cy="126" r="2.1"/><circle cx="622.7" cy="124.5" r="2.1"/><circle cx="624.9" cy="124.2" r="2.1"/><circle cx="630.3" cy="124.6" r="2.1"/><circle cx="636.2" cy="125.3" r="2.1"/><circle cx="638.5" cy="126" r="2.1"/><circle cx="646.4" cy="125.8" r="2.1"/><circle cx="548" cy="128" r="2.1"/><circle cx="550.4" cy="128.4" r="2.1"/><circle cx="552.5" cy="128.4" r="2.1"/><circle cx="561.1" cy="128.1" r="2.1"/><circle cx="563.7" cy="127.1" r="2.1"/><circle cx="566" cy="127.9" r="2.1"/><circle cx="572.8" cy="126.8" r="2.1"/><circle cx="576.2" cy="128.6" r="2.1"/><circle cx="583.4" cy="126.7" r="2.1"/><circle cx="585.8" cy="127.7" r="2.1"/><circle cx="591.7" cy="127.9" r="2.1"/><circle cx="600" cy="127.7" r="2.1"/><circle cx="601.4" cy="127.4" r="2.1"/><circle cx="603.9" cy="126.7" r="2.1"/><circle cx="607" cy="128.2" r="2.1"/><circle cx="610.2" cy="126.7" r="2.1"/><circle cx="613.3" cy="127.1" r="2.1"/><circle cx="619.5" cy="127.8" r="2.1"/><circle cx="622.3" cy="126.7" r="2.1"/><circle cx="626.5" cy="127" r="2.1"/><circle cx="629.8" cy="128.5" r="2.1"/><circle cx="633.1" cy="127.6" r="2.1"/><circle cx="636.3" cy="128.5" r="2.1"/><circle cx="638.2" cy="127.5" r="2.1"/><circle cx="640.9" cy="127.1" r="2.1"/><circle cx="646.3" cy="127" r="2.1"/><circle cx="546" cy="130.6" r="2.1"/><circle cx="547.3" cy="129.7" r="2.1"/><circle cx="551.2" cy="129.7" r="2.1"/><circle cx="553.4" cy="129.5" r="2.1"/><circle cx="554.9" cy="130.1" r="2.1"/><circle cx="559.6" cy="129.2" r="2.1"/><circle cx="566.4" cy="130.1" r="2.1"/><circle cx="568.1" cy="130.8" r="2.1"/><circle cx="578" cy="130.1" r="2.1"/><circle cx="582.3" cy="129.9" r="2.1"/><circle cx="584.2" cy="130" r="2.1"/><circle cx="588.7" cy="130" r="2.1"/><circle cx="591.8" cy="129.3" r="2.1"/><circle cx="600.1" cy="129.7" r="2.1"/><circle cx="602.2" cy="129.7" r="2.1"/><circle cx="605.3" cy="129.6" r="2.1"/><circle cx="613.4" cy="131" r="2.1"/><circle cx="614.7" cy="130" r="2.1"/><circle cx="618.4" cy="129.4" r="2.1"/><circle cx="619.4" cy="130.5" r="2.1"/><circle cx="626.1" cy="130" r="2.1"/><circle cx="627.8" cy="129.7" r="2.1"/><circle cx="633" cy="129.5" r="2.1"/><circle cx="635.3" cy="129.7" r="2.1"/><circle cx="647" cy="129.6" r="2.1"/><circle cx="547.6" cy="132.3" r="2.1"/><circle cx="558.3" cy="132.2" r="2.1"/><circle cx="560.5" cy="132.5" r="2.1"/><circle cx="562.8" cy="133" r="2.1"/><circle cx="569" cy="132" r="2.1"/><circle cx="573.5" cy="132.8" r="2.1"/><circle cx="576.6" cy="132.3" r="2.1"/><circle cx="579.3" cy="133" r="2.1"/><circle cx="580.4" cy="131.9" r="2.1"/><circle cx="584.4" cy="132.4" r="2.1"/><circle cx="589.9" cy="133.4" r="2.1"/><circle cx="596" cy="132.4" r="2.1"/><circle cx="603.1" cy="132.7" r="2.1"/><circle cx="603.8" cy="133.5" r="2.1"/><circle cx="606.4" cy="133.3" r="2.1"/><circle cx="618.3" cy="133.5" r="2.1"/><circle cx="619.6" cy="132.6" r="2.1"/><circle cx="623.9" cy="132.7" r="2.1"/><circle cx="629.8" cy="133.1" r="2.1"/><circle cx="639.5" cy="133.6" r="2.1"/><circle cx="640.2" cy="131.9" r="2.1"/><circle cx="646.8" cy="131.6" r="2.1"/><circle cx="547.9" cy="134.8" r="2.1"/><circle cx="549.9" cy="135.9" r="2.1"/><circle cx="555.3" cy="135.8" r="2.1"/><circle cx="565.2" cy="134.9" r="2.1"/><circle cx="571.3" cy="135.9" r="2.1"/><circle cx="573.9" cy="134.3" r="2.1"/><circle cx="576.8" cy="135.2" r="2.1"/><circle cx="578.9" cy="134.3" r="2.1"/><circle cx="581.5" cy="135.9" r="2.1"/><circle cx="584.9" cy="135.9" r="2.1"/><circle cx="586.7" cy="135.5" r="2.1"/><circle cx="588.8" cy="134.2" r="2.1"/><circle cx="592.7" cy="135" r="2.1"/><circle cx="597.8" cy="134.9" r="2.1"/><circle cx="602.8" cy="134.4" r="2.1"/><circle cx="608.3" cy="135.5" r="2.1"/><circle cx="610" cy="134.9" r="2.1"/><circle cx="612.8" cy="135.5" r="2.1"/><circle cx="615.5" cy="135.7" r="2.1"/><circle cx="617.7" cy="134.2" r="2.1"/><circle cx="620" cy="134.3" r="2.1"/><circle cx="622.4" cy="135.9" r="2.1"/><circle cx="625" cy="135.7" r="2.1"/><circle cx="628.4" cy="134.6" r="2.1"/><circle cx="630.1" cy="134.7" r="2.1"/><circle cx="633.7" cy="134.9" r="2.1"/><circle cx="635.2" cy="135.9" r="2.1"/><circle cx="639" cy="134.1" r="2.1"/><circle cx="644.3" cy="135.2" r="2.1"/><circle cx="646.2" cy="134.9" r="2.1"/><circle cx="547.8" cy="137.1" r="2.1"/><circle cx="553.2" cy="137.8" r="2.1"/><circle cx="555.3" cy="136.9" r="2.1"/><circle cx="560.3" cy="137.4" r="2.1"/><circle cx="563.1" cy="138.1" r="2.1"/><circle cx="566.6" cy="138.5" r="2.1"/><circle cx="568.9" cy="137.4" r="2.1"/><circle cx="571.4" cy="138.2" r="2.1"/><circle cx="580.8" cy="137.5" r="2.1"/><circle cx="583.3" cy="137.4" r="2.1"/><circle cx="588.7" cy="137.9" r="2.1"/><circle cx="594" cy="138.6" r="2.1"/><circle cx="596.5" cy="137.2" r="2.1"/><circle cx="599.9" cy="138.6" r="2.1"/><circle cx="601.3" cy="137.6" r="2.1"/><circle cx="604.6" cy="136.7" r="2.1"/><circle cx="608.3" cy="136.7" r="2.1"/><circle cx="612.5" cy="138.1" r="2.1"/><circle cx="614.6" cy="137.3" r="2.1"/><circle cx="617.8" cy="137" r="2.1"/><circle cx="620.3" cy="138.4" r="2.1"/><circle cx="628.7" cy="137.8" r="2.1"/><circle cx="631.2" cy="138.3" r="2.1"/><circle cx="633.4" cy="138.6" r="2.1"/><circle cx="636.2" cy="138" r="2.1"/><circle cx="640.9" cy="137" r="2.1"/><circle cx="644.4" cy="137.8" r="2.1"/><polygon points="545,130 643.5,130 643.5,139.9 545,139.9" stroke="#00ff00" stroke-width="4.2" stroke-linejoin="round"/><circle cx="563.2" cy="153.6" r="2.1"/><circle cx="550.3" cy="155.8" r="2.1"/><circle cx="567.4" cy="156.4" r="2.1"/><circle cx="575.3" cy="155.6" r="2.1"/><circle cx="549.1" cy="158.8" r="2.1"/><circle cx="552.3" cy="158.5" r="2.1"/><circle cx="557.5" cy="158.5" r="2.1"/><circle cx="560.5" cy="159" r="2.1"/><circle cx="569.6" cy="159.3" r="2.1"/><circle cx="578.2" cy="159.1" r="2.1"/><circle cx="550" cy="160.4" r="2.1"/><circle cx="554.6" cy="160.8" r="2.1"/><circle cx="576.3" cy="160.3" r="2.1"/><circle cx="571.2" cy="171.6" r="2.1"/><circle cx="580.7" cy="171.9" r="2.1"/><circle cx="577.6" cy="173.9" r="2.1"/><circle cx="570.1" cy="176.7" r="2.1"/><circle cx="560.7" cy="180" r="2.1"/><circle cx="570.1" cy="179.6" r="2.1"/><circle cx="577.3" cy="180.1" r="2.1"/><circle cx="563.5" cy="198.2" r="2.1"/><circle cx="547" cy="201.4" r="2.1"/><circle cx="557.5" cy="202.7" r="2.1"/><circle cx="560.6" cy="203.7" r="2.1"/><circle cx="568.2" cy="203.1" r="2.1"/><circle cx="573.3" cy="203.4" r="2.1"/><circle cx="549.8" cy="206.2" r="2.1"/><circle cx="553.8" cy="205.7" r="2.1"/><circle cx="557.3" cy="205.8" r="2.1"/><circle cx="569.7" cy="205.7" r="2.1"/><circle cx="572.8" cy="205.7" r="2.1"/><circle cx="556.7" cy="207.2" r="2.1"/><circle cx="560.7" cy="207.1" r="2.1"/><circle cx="564.4" cy="208.9" r="2.1"/><circle cx="550.2" cy="209.7" r="2.1"/><circle cx="557.1" cy="210.5" r="2.1"/><circle cx="560.5" cy="210.4" r="2.1"/><circle cx="556.7" cy="212.6" r="2.1"/><rect x="589.2" y="151.5" width="14.1" height="9.1" rx="2.1"/><rect x="608.9" y="151.5" width="20" height="9.1" rx="2.1"/><path d="M427.8 135.9H442.6M444.5 135.9H451.4M454.4 135.9H559.8M483.9 143.8H494.8M515.5 143.8H529.3M465.2 155.1H482M487.9 155.1H494.8M498.7 155.1H511.5M513.5 155.1H524.3M537.1 155.1H559.8M472.1 159.6H474.1M498.7 159.6H505.6M512.5 159.6H530.2M497.7 163.5H505.6M513.5 163.5H530.2M538.1 163.5H550.9M536.2 58.6H559.8M493.8 63.5H511.5M515.5 63.5H525.3M529.3 63.5H559.8M427.8 115.7H468.2M427.8 118.7H440.6M680 39.9H692M680 47.7H692M680 53.6H692M564.7 52.2H583.4M606.1 52.2H663.2M656.3 96H684.9M634.7 172.9H662.2" stroke="#00ff00" stroke-width="4.2" stroke-linecap="round" fill="none"/><circle cx="428.3" cy="143.8" r="2.1"/><circle cx="431.2" cy="143.8" r="2.1"/><circle cx="438.6" cy="143.8" r="2.1"/><circle cx="454.4" cy="143.8" r="2.1"/><circle cx="477" cy="143.8" r="2.1"/><circle cx="506.6" cy="143.8" r="2.1"/><circle cx="443.5" cy="155.1" r="2.1"/><circle cx="452.4" cy="155.1" r="2.1"/><circle cx="452.4" cy="159.6" r="2.1"/><circle cx="461.3" cy="159.6" r="2.1"/><circle cx="488.9" cy="159.6" r="2.1"/><circle cx="539.1" cy="159.6" r="2.1"/><circle cx="549" cy="159.6" r="2.1"/><circle cx="472.1" cy="163.5" r="2.1"/><circle cx="482" cy="163.5" r="2.1"/><circle cx="488.9" cy="163.5" r="2.1"/><circle cx="429.3" cy="203.4" r="2.1"/><circle cx="432.8" cy="203.4" r="2.1"/><circle cx="436.3" cy="203.4" r="2.1"/><circle cx="439.8" cy="203.4" r="2.1"/><circle cx="443.3" cy="203.4" r="2.1"/><circle cx="446.8" cy="203.4" r="2.1"/><circle cx="450.3" cy="203.4" r="2.1"/><circle cx="453.9" cy="203.4" r="2.1"/><circle cx="457.4" cy="203.4" r="2.1"/><circle cx="460.9" cy="203.4" r="2.1"/><circle cx="464.4" cy="203.4" r="2.1"/><circle cx="467.9" cy="203.4" r="2.1"/><circle cx="471.4" cy="203.4" r="2.1"/><circle cx="474.9" cy="203.4" r="2.1"/><circle cx="478.5" cy="203.4" r="2.1"/><circle cx="482" cy="203.4" r="2.1"/><circle cx="487.9" cy="203.4" r="2.1"/><circle cx="491.4" cy="203.4" r="2.1"/><circle cx="494.9" cy="203.4" r="2.1"/><circle cx="498.5" cy="203.4" r="2.1"/><circle cx="502" cy="203.4" r="2.1"/><circle cx="505.5" cy="203.4" r="2.1"/><circle cx="509.1" cy="203.4" r="2.1"/><circle cx="512.6" cy="203.4" r="2.1"/><circle cx="516.1" cy="203.4" r="2.1"/><circle cx="519.7" cy="203.4" r="2.1"/><circle cx="523.2" cy="203.4" r="2.1"/><circle cx="526.7" cy="203.4" r="2.1"/><circle cx="530.2" cy="203.4" r="2.1"/><circle cx="538.1" cy="203.4" r="2.1"/><circle cx="547" cy="203.4" r="2.1"/><circle cx="557.8" cy="203.4" r="2.1"/><circle cx="450.4" cy="208.8" r="2.1"/><circle cx="454.1" cy="208.8" r="2.1"/><circle cx="457.8" cy="208.8" r="2.1"/><circle cx="461.5" cy="208.8" r="2.1"/><circle cx="465.2" cy="208.8" r="2.1"/><circle cx="468.9" cy="208.8" r="2.1"/><circle cx="472.6" cy="208.8" r="2.1"/><circle cx="476.3" cy="208.8" r="2.1"/><circle cx="480" cy="208.8" r="2.1"/><circle cx="501.7" cy="208.8" r="2.1"/><circle cx="519.4" cy="208.8" r="2.1"/><circle cx="522.4" cy="208.8" r="2.1"/><circle cx="525.3" cy="208.8" r="2.1"/><circle cx="538.1" cy="208.8" r="2.1"/><circle cx="547" cy="208.8" r="2.1"/><circle cx="554.9" cy="208.8" r="2.1"/><circle cx="559.8" cy="208.8" r="2.1"/><circle cx="429.3" cy="213.7" r="2.1"/><circle cx="433" cy="213.7" r="2.1"/><circle cx="436.6" cy="213.7" r="2.1"/><circle cx="440.3" cy="213.7" r="2.1"/><circle cx="444" cy="213.7" r="2.1"/><circle cx="447.7" cy="213.7" r="2.1"/><circle cx="451.4" cy="213.7" r="2.1"/><circle cx="455.1" cy="213.7" r="2.1"/><circle cx="458.8" cy="213.7" r="2.1"/><circle cx="462.5" cy="213.7" r="2.1"/><circle cx="466.2" cy="213.7" r="2.1"/><circle cx="469.9" cy="213.7" r="2.1"/><circle cx="473.6" cy="213.7" r="2.1"/><circle cx="477.3" cy="213.7" r="2.1"/><circle cx="481" cy="213.7" r="2.1"/><circle cx="487.9" cy="213.7" r="2.1"/><circle cx="491.6" cy="213.7" r="2.1"/><circle cx="495.3" cy="213.7" r="2.1"/><circle cx="499" cy="213.7" r="2.1"/><circle cx="502.7" cy="213.7" r="2.1"/><circle cx="509.6" cy="213.7" r="2.1"/><circle cx="514.5" cy="213.7" r="2.1"/><circle cx="519.4" cy="213.7" r="2.1"/><circle cx="525.3" cy="213.7" r="2.1"/><circle cx="538.1" cy="213.7" r="2.1"/><circle cx="547" cy="213.7" r="2.1"/><circle cx="557.8" cy="213.7" r="2.1"/><circle cx="437.6" cy="149.7" r="2.1"/><circle cx="441.2" cy="149.7" r="2.1"/><circle cx="444.7" cy="149.7" r="2.1"/><circle cx="448.2" cy="149.7" r="2.1"/><circle cx="451.8" cy="149.7" r="2.1"/><circle cx="455.3" cy="149.7" r="2.1"/><circle cx="458.8" cy="149.7" r="2.1"/><circle cx="462.3" cy="149.7" r="2.1"/><circle cx="465.9" cy="149.7" r="2.1"/><circle cx="469.4" cy="149.7" r="2.1"/><circle cx="472.9" cy="149.7" r="2.1"/><circle cx="476.5" cy="149.7" r="2.1"/><circle cx="480" cy="149.7" r="2.1"/><circle cx="487.9" cy="149.7" r="2.1"/><circle cx="490.8" cy="149.7" r="2.1"/><circle cx="493.8" cy="149.7" r="2.1"/><circle cx="505.6" cy="149.7" r="2.1"/><circle cx="509.6" cy="149.7" r="2.1"/><circle cx="513.5" cy="149.7" r="2.1"/><circle cx="517.4" cy="149.7" r="2.1"/><circle cx="521" cy="149.7" r="2.1"/><circle cx="524.7" cy="149.7" r="2.1"/><circle cx="528.3" cy="149.7" r="2.1"/><circle cx="429.3" cy="188.6" r="2.1"/><circle cx="433" cy="188.6" r="2.1"/><circle cx="436.6" cy="188.6" r="2.1"/><circle cx="440.3" cy="188.6" r="2.1"/><circle cx="444" cy="188.6" r="2.1"/><circle cx="447.7" cy="188.6" r="2.1"/><circle cx="451.4" cy="188.6" r="2.1"/><circle cx="455.1" cy="188.6" r="2.1"/><circle cx="458.8" cy="188.6" r="2.1"/><circle cx="462.5" cy="188.6" r="2.1"/><circle cx="466.2" cy="188.6" r="2.1"/><circle cx="469.9" cy="188.6" r="2.1"/><circle cx="473.6" cy="188.6" r="2.1"/><circle cx="477.3" cy="188.6" r="2.1"/><circle cx="481" cy="188.6" r="2.1"/><circle cx="487.9" cy="188.6" r="2.1"/><circle cx="491.6" cy="188.6" r="2.1"/><circle cx="495.3" cy="188.6" r="2.1"/><circle cx="499" cy="188.6" r="2.1"/><circle cx="502.7" cy="188.6" r="2.1"/><circle cx="506.4" cy="188.6" r="2.1"/><circle cx="510" cy="188.6" r="2.1"/><circle cx="513.7" cy="188.6" r="2.1"/><circle cx="517.4" cy="188.6" r="2.1"/><circle cx="429.3" cy="192.8" r="2.1"/><circle cx="433" cy="192.8" r="2.1"/><circle cx="436.6" cy="192.8" r="2.1"/><circle cx="440.3" cy="192.8" r="2.1"/><circle cx="444" cy="192.8" r="2.1"/><circle cx="447.7" cy="192.8" r="2.1"/><circle cx="451.4" cy="192.8" r="2.1"/><circle cx="455.1" cy="192.8" r="2.1"/><circle cx="458.8" cy="192.8" r="2.1"/><circle cx="462.5" cy="192.8" r="2.1"/><circle cx="466.2" cy="192.8" r="2.1"/><circle cx="469.9" cy="192.8" r="2.1"/><circle cx="473.6" cy="192.8" r="2.1"/><circle cx="477.3" cy="192.8" r="2.1"/><circle cx="481" cy="192.8" r="2.1"/><circle cx="487.9" cy="192.8" r="2.1"/><circle cx="491.6" cy="192.8" r="2.1"/><circle cx="495.3" cy="192.8" r="2.1"/><circle cx="499" cy="192.8" r="2.1"/><circle cx="502.7" cy="192.8" r="2.1"/><circle cx="506.4" cy="192.8" r="2.1"/><circle cx="510" cy="192.8" r="2.1"/><circle cx="513.7" cy="192.8" r="2.1"/><circle cx="517.4" cy="192.8" r="2.1"/><circle cx="429.3" cy="197" r="2.1"/><circle cx="433" cy="197" r="2.1"/><circle cx="436.6" cy="197" r="2.1"/><circle cx="440.3" cy="197" r="2.1"/><circle cx="444" cy="197" r="2.1"/><circle cx="447.7" cy="197" r="2.1"/><circle cx="451.4" cy="197" r="2.1"/><circle cx="455.1" cy="197" r="2.1"/><circle cx="458.8" cy="197" r="2.1"/><circle cx="462.5" cy="197" r="2.1"/><circle cx="466.2" cy="197" r="2.1"/><circle cx="469.9" cy="197" r="2.1"/><circle cx="473.6" cy="197" r="2.1"/><circle cx="477.3" cy="197" r="2.1"/><circle cx="481" cy="197" r="2.1"/><circle cx="487.9" cy="197" r="2.1"/><circle cx="491.6" cy="197" r="2.1"/><circle cx="495.3" cy="197" r="2.1"/><circle cx="499" cy="197" r="2.1"/><circle cx="502.7" cy="197" r="2.1"/><circle cx="506.4" cy="197" r="2.1"/><circle cx="510" cy="197" r="2.1"/><circle cx="513.7" cy="197" r="2.1"/><circle cx="517.4" cy="197" r="2.1"/><circle cx="454.4" cy="169.9" r="2.1"/><circle cx="460.3" cy="169.9" r="2.1"/><circle cx="465.2" cy="175.8" r="2.1"/><circle cx="550.9" cy="175.8" r="2.1"/><circle cx="519.4" cy="186.7" r="2.1"/><circle cx="524.3" cy="193.1" r="2.1"/><circle cx="529.3" cy="193.1" r="2.1"/><circle cx="531.2" cy="186.7" r="2.1"/><circle cx="539.1" cy="193.1" r="2.1"/><circle cx="543.1" cy="186.2" r="2.1"/><circle cx="519.4" cy="198" r="2.1"/><circle cx="471.6" cy="51.2" r="2.1"/><circle cx="476.1" cy="51.2" r="2.1"/><circle cx="485.9" cy="51.2" r="2.1"/><circle cx="498.2" cy="51.2" r="2.1"/><circle cx="503.2" cy="51.2" r="2.1"/><circle cx="520.4" cy="51.2" r="2.1"/><circle cx="530.2" cy="51.2" r="2.1"/><circle cx="537.6" cy="51.2" r="2.1"/><circle cx="544.5" cy="51.2" r="2.1"/><circle cx="549" cy="51.2" r="2.1"/><circle cx="555.9" cy="51.2" r="2.1"/><circle cx="558.8" cy="51.2" r="2.1"/><circle cx="476.1" cy="58.6" r="2.1"/><circle cx="485.9" cy="58.6" r="2.1"/><circle cx="498.2" cy="58.6" r="2.1"/><circle cx="502.7" cy="58.6" r="2.1"/><circle cx="520.9" cy="58.6" r="2.1"/><circle cx="530.2" cy="58.6" r="2.1"/><circle cx="471.6" cy="63.5" r="2.1"/><circle cx="477" cy="63.5" r="2.1"/><circle cx="480" cy="63.5" r="2.1"/><circle cx="483.9" cy="63.5" r="2.1"/><circle cx="485.9" cy="63.5" r="2.1"/><circle cx="478" cy="69.4" r="2.1"/><circle cx="483.9" cy="72.4" r="2.1"/><circle cx="453.4" cy="78.1" r="2.1"/><circle cx="458.3" cy="76.3" r="2.1"/><circle cx="461.3" cy="78.3" r="2.1"/><circle cx="459.3" cy="83.2" r="2.1"/><circle cx="460.3" cy="86.2" r="2.1"/><circle cx="438.6" cy="91.6" r="2.1"/><circle cx="445.5" cy="91.6" r="2.1"/><circle cx="454.4" cy="91.6" r="2.1"/><circle cx="447.5" cy="95" r="2.1"/><circle cx="435.7" cy="97.5" r="2.1"/><circle cx="436.6" cy="101.9" r="2.1"/><circle cx="428.8" cy="101.4" r="2.1"/><circle cx="436.6" cy="105.4" r="2.1"/><circle cx="435.7" cy="109.3" r="2.1"/><circle cx="445.5" cy="101.4" r="2.1"/><circle cx="450.4" cy="101.9" r="2.1"/><circle cx="454.4" cy="100.9" r="2.1"/><circle cx="454.4" cy="104.9" r="2.1"/><circle cx="461.3" cy="91.1" r="2.1"/><circle cx="462.3" cy="94" r="2.1"/><circle cx="459.3" cy="99" r="2.1"/><circle cx="462.3" cy="104.9" r="2.1"/><circle cx="462.3" cy="107.8" r="2.1"/><circle cx="454.4" cy="118.7" r="2.1"/><circle cx="459.3" cy="120.6" r="2.1"/><circle cx="459.3" cy="124.6" r="2.1"/><circle cx="454.4" cy="127" r="2.1"/><circle cx="459.3" cy="130.5" r="2.1"/><circle cx="629.7" cy="39.9" r="2.1"/><circle cx="634.2" cy="39.9" r="2.1"/><circle cx="642" cy="39.9" r="2.1"/><circle cx="646.5" cy="39.9" r="2.1"/><circle cx="654.4" cy="39.9" r="2.1"/><circle cx="656.8" cy="39.9" r="2.1"/><circle cx="676" cy="39.9" r="2.1"/><circle cx="628.7" cy="47.7" r="2.1"/><circle cx="632.2" cy="47.7" r="2.1"/><circle cx="635.6" cy="47.7" r="2.1"/><circle cx="655.3" cy="47.7" r="2.1"/><circle cx="676.5" cy="47.7" r="2.1"/><circle cx="546.5" cy="52.2" r="2.1"/><circle cx="549.4" cy="52.2" r="2.1"/><circle cx="555.8" cy="52.2" r="2.1"/><circle cx="560.3" cy="52.2" r="2.1"/><circle cx="587.4" cy="52.2" r="2.1"/><circle cx="593.3" cy="52.2" r="2.1"/><circle cx="598.2" cy="52.2" r="2.1"/><circle cx="651.4" cy="122.6" r="2.1"/><circle cx="651.4" cy="126.9" r="2.1"/><circle cx="651.4" cy="131.3" r="2.1"/><circle cx="651.4" cy="135.6" r="2.1"/><circle cx="651.4" cy="140" r="2.1"/><circle cx="660.3" cy="127.5" r="2.1"/><circle cx="660.3" cy="131.7" r="2.1"/><circle cx="660.3" cy="135.8" r="2.1"/><circle cx="660.3" cy="140" r="2.1"/><circle cx="666.7" cy="124.6" r="2.1"/><circle cx="666.7" cy="128.5" r="2.1"/><circle cx="666.7" cy="132.5" r="2.1"/><circle cx="671.1" cy="100.9" r="2.1"/><circle cx="671.1" cy="104.9" r="2.1"/><circle cx="671.1" cy="111.8" r="2.1"/><circle cx="671.1" cy="116.7" r="2.1"/><circle cx="671.1" cy="120.6" r="2.1"/><circle cx="678" cy="100.9" r="2.1"/><circle cx="678" cy="104.9" r="2.1"/><circle cx="678" cy="111.8" r="2.1"/><circle cx="678" cy="116.7" r="2.1"/><circle cx="678" cy="120.6" r="2.1"/><circle cx="642.5" cy="130" r="2.1"/><circle cx="642.5" cy="133.9" r="2.1"/><circle cx="642.5" cy="137.9" r="2.1"/><circle cx="642.5" cy="144.8" r="2.1"/><circle cx="642.5" cy="147.7" r="2.1"/><circle cx="642.5" cy="154.1" r="2.1"/><circle cx="642.5" cy="159.6" r="2.1"/><circle cx="651.4" cy="130" r="2.1"/><circle cx="651.4" cy="134.5" r="2.1"/><circle cx="651.4" cy="139" r="2.1"/><circle cx="651.4" cy="143.5" r="2.1"/><circle cx="651.4" cy="148" r="2.1"/><circle cx="651.4" cy="152.5" r="2.1"/><circle cx="651.4" cy="157" r="2.1"/><circle cx="651.4" cy="161.5" r="2.1"/><circle cx="660.3" cy="130" r="2.1"/><circle cx="660.3" cy="133.9" r="2.1"/><circle cx="660.3" cy="137.9" r="2.1"/><circle cx="666.7" cy="133" r="2.1"/><circle cx="666.7" cy="137.7" r="2.1"/><circle cx="666.7" cy="142.5" r="2.1"/><circle cx="666.7" cy="147.2" r="2.1"/><circle cx="666.7" cy="152" r="2.1"/><circle cx="666.7" cy="156.8" r="2.1"/><circle cx="666.7" cy="161.5" r="2.1"/><circle cx="594.8" cy="170.4" r="2.1"/><circle cx="594.8" cy="175.3" r="2.1"/><circle cx="594.8" cy="180.2" r="2.1"/><circle cx="613" cy="170.4" r="2.1"/><circle cx="613" cy="175.3" r="2.1"/><circle cx="613" cy="180.2" r="2.1"/><circle cx="642.5" cy="200.9" r="2.1"/><circle cx="642.5" cy="207.8" r="2.1"/><circle cx="642.5" cy="211.8" r="2.1"/><circle cx="651.4" cy="200.9" r="2.1"/><circle cx="651.4" cy="207.8" r="2.1"/><circle cx="651.4" cy="211.8" r="2.1"/><circle cx="658.3" cy="205.9" r="2.1"/><circle cx="666.7" cy="200.9" r="2.1"/><circle cx="666.7" cy="208.8" r="2.1"/><circle cx="666.7" cy="212.8" r="2.1"/><circle cx="548" cy="145.8" r="2.1"/><circle cx="554.9" cy="149.7" r="2.1"/><circle cx="558.8" cy="147.7" r="2.1"/><circle cx="564.7" cy="143.8" r="2.1"/><circle cx="571.6" cy="146.7" r="2.1"/><circle cx="576.5" cy="147.7" r="2.1"/><circle cx="587.9" cy="146.3" r="2.1"/><circle cx="597.2" cy="145.8" r="2.1"/><circle cx="600.2" cy="145.8" r="2.1"/><circle cx="610" cy="146.3" r="2.1"/><circle cx="615.9" cy="145.3" r="2.1"/><circle cx="636.6" cy="144.8" r="2.1"/><circle cx="595.2" cy="163.5" r="2.1"/><circle cx="613" cy="163.5" r="2.1"/><circle cx="548" cy="170.4" r="2.1"/><circle cx="549.9" cy="175.8" r="2.1"/><circle cx="586.4" cy="172.9" r="2.1"/><circle cx="589.3" cy="172.9" r="2.1"/><circle cx="607.1" cy="172.9" r="2.1"/><circle cx="621.8" cy="172.9" r="2.1"/><circle cx="666.7" cy="172.9" r="2.1"/><circle cx="678.5" cy="172.9" r="2.1"/><circle cx="548" cy="183.7" r="2.1"/><circle cx="558.8" cy="185.2" r="2.1"/><circle cx="571.6" cy="183.2" r="2.1"/><circle cx="574.6" cy="186.2" r="2.1"/><circle cx="642.5" cy="183.7" r="2.1"/><circle cx="651.4" cy="183.7" r="2.1"/><circle cx="666.7" cy="183.7" r="2.1"/><circle cx="567.7" cy="192.6" r="2.1"/><circle cx="573.6" cy="192.6" r="2.1"/><circle cx="580" cy="192.6" r="2.1"/><circle cx="595.2" cy="192.6" r="2.1"/><circle cx="613" cy="192.6" r="2.1"/><circle cx="580" cy="203.4" r="2.1"/><circle cx="583.4" cy="208.3" r="2.1"/><circle cx="595.2" cy="203.4" r="2.1"/><circle cx="613" cy="203.4" r="2.1"/><circle cx="573.6" cy="227.5" r="2.1"/><circle cx="575.5" cy="227.5" r="2.1"/><circle cx="587.9" cy="227.5" r="2.1"/><circle cx="599.2" cy="227.5" r="2.1"/><circle cx="610" cy="227.5" r="2.1"/></g>
<path d="M413.5 28.5V246.2H691.6" fill="none" stroke="#5a5a5a" stroke-width="1"/>
<line x1="413.5" y1="28.4" x2="413.5" y2="38.6" stroke="#111" stroke-width="1.4"/>
<path d="M413.5 215.1h2.5M453.2 246.2v-3M413.5 184h2.5M493 246.2v-3M413.5 152.9h2.5M532.7 246.2v-3M413.5 121.8h2.5M572.4 246.2v-3M413.5 90.7h2.5M612.1 246.2v-3M413.5 59.6h2.5M651.9 246.2v-3M413.5 28.5h2.5M691.6 246.2v-3" stroke="#b0b0b0" stroke-width="1"/>
<line x1="413.5" y1="246.2" x2="691.6" y2="28.5" stroke="#000" stroke-width="1.9"/>
<circle cx="582.2" cy="100.9" r="4.9" fill="#ff0000"/>
<g font-size="12" fill="#262626"><text x="413.5" y="263.7" text-anchor="middle">0</text><text x="407.2" y="250.2" text-anchor="end">0</text><text x="453.2" y="263.7" text-anchor="middle">10</text><text x="407.2" y="219.1" text-anchor="end">10</text><text x="493" y="263.7" text-anchor="middle">20</text><text x="407.2" y="188" text-anchor="end">20</text><text x="532.7" y="263.7" text-anchor="middle">30</text><text x="407.2" y="156.9" text-anchor="end">30</text><text x="572.4" y="263.7" text-anchor="middle">40</text><text x="407.2" y="125.8" text-anchor="end">40</text><text x="612.1" y="263.7" text-anchor="middle">50</text><text x="407.2" y="94.7" text-anchor="end">50</text><text x="651.9" y="263.7" text-anchor="middle">60</text><text x="407.2" y="63.6" text-anchor="end">60</text><text x="691.6" y="263.7" text-anchor="middle">70</text><text x="407.2" y="32.5" text-anchor="end">70</text></g>
<text x="467.7" y="288.1" font-size="17" textLength="178.2" lengthAdjust="spacingAndGlyphs">Iron grade (%) - Domain 3</text>
<text transform="translate(383.6 226.4) rotate(-90)" font-size="17" textLength="177.2" lengthAdjust="spacingAndGlyphs">Iron grade (%) - Domain 1</text>
<text x="695" y="234.9" font-size="17" text-anchor="end" textLength="57.2" lengthAdjust="spacingAndGlyphs">ρ = 0.49</text>
<g fill="#00ff00"><circle cx="825.5" cy="85.3" r="2.1"/><circle cx="840.9" cy="82.7" r="2.1"/><circle cx="840.9" cy="92.1" r="2.1"/><circle cx="840.9" cy="93.7" r="2.1"/><circle cx="840.9" cy="111.5" r="2.1"/><circle cx="800.4" cy="114.6" r="2.1"/><circle cx="800.4" cy="142.6" r="2.1"/><circle cx="907.4" cy="81" r="2.1"/><circle cx="907.4" cy="119.3" r="2.1"/><circle cx="800.4" cy="161.1" r="2.1"/><circle cx="949.3" cy="66.7" r="2.1"/><circle cx="949.3" cy="75.2" r="2.1"/><circle cx="963.2" cy="76.6" r="2.1"/><circle cx="938.8" cy="82.7" r="2.1"/><circle cx="950.8" cy="82.7" r="2.1"/><circle cx="957.5" cy="82.7" r="2.1"/><circle cx="959.4" cy="82.7" r="2.1"/><circle cx="970.7" cy="82.7" r="2.1"/><circle cx="976.8" cy="85.2" r="2.1"/><circle cx="938.8" cy="92.5" r="2.1"/><circle cx="950.8" cy="92.5" r="2.1"/><circle cx="957.5" cy="92.5" r="2.1"/><circle cx="959.4" cy="92.5" r="2.1"/><circle cx="970.7" cy="92.5" r="2.1"/><circle cx="938.8" cy="111.5" r="2.1"/><circle cx="950.8" cy="111.5" r="2.1"/><circle cx="948.6" cy="114.1" r="2.1"/><circle cx="958.5" cy="111.5" r="2.1"/><circle cx="970.7" cy="111.5" r="2.1"/><circle cx="963.2" cy="105.2" r="2.1"/><circle cx="948.6" cy="121.6" r="2.1"/><circle cx="987.4" cy="62.3" r="2.1"/><circle cx="987.4" cy="67.7" r="2.1"/><circle cx="989.9" cy="76.6" r="2.1"/><circle cx="992.3" cy="76.6" r="2.1"/><circle cx="1002.4" cy="76.6" r="2.1"/><circle cx="1012" cy="81" r="2.1"/><circle cx="1023" cy="76.6" r="2.1"/><circle cx="990.4" cy="85" r="2.1"/><circle cx="986.2" cy="93" r="2.1"/><circle cx="986.2" cy="96.3" r="2.1"/><circle cx="986.2" cy="100.1" r="2.1"/><circle cx="986.2" cy="101.9" r="2.1"/><circle cx="989.9" cy="105.7" r="2.1"/><circle cx="992.3" cy="105.7" r="2.1"/><circle cx="1002.4" cy="105.4" r="2.1"/><circle cx="1023" cy="105.4" r="2.1"/><circle cx="986.2" cy="109.9" r="2.1"/><circle cx="986.2" cy="112.7" r="2.1"/><circle cx="986.2" cy="116.2" r="2.1"/><circle cx="986.2" cy="121.6" r="2.1"/><circle cx="986.2" cy="141.3" r="2.1"/><circle cx="986.2" cy="147" r="2.1"/><circle cx="1043.9" cy="62.3" r="2.1"/><circle cx="1043.9" cy="67.7" r="2.1"/><circle cx="986.2" cy="229.1" r="2.1"/></g>
<path d="M784.6 29.4V247.4H1062.8" fill="none" stroke="#5a5a5a" stroke-width="1"/>
<line x1="784.6" y1="29.3" x2="784.6" y2="38.8" stroke="#111" stroke-width="1.4"/>
<path d="M784.6 216.3h2.5M824.3 247.4v-3M784.6 185.1h2.5M864.1 247.4v-3M784.6 154h2.5M903.8 247.4v-3M784.6 122.8h2.5M943.6 247.4v-3M784.6 91.7h2.5M983.3 247.4v-3M784.6 60.5h2.5M1023.1 247.4v-3M784.6 29.4h2.5M1062.8 247.4v-3" stroke="#b0b0b0" stroke-width="1"/>
<line x1="784.6" y1="247.4" x2="1062.8" y2="29.4" stroke="#000" stroke-width="1.9"/>
<circle cx="954.9" cy="99.6" r="4.9" fill="#ff0000"/>
<g font-size="12" fill="#262626"><text x="784.6" y="264.9" text-anchor="middle">0</text><text x="778.3" y="251.4" text-anchor="end">0</text><text x="824.3" y="264.9" text-anchor="middle">10</text><text x="778.3" y="220.3" text-anchor="end">10</text><text x="864.1" y="264.9" text-anchor="middle">20</text><text x="778.3" y="189.1" text-anchor="end">20</text><text x="903.8" y="264.9" text-anchor="middle">30</text><text x="778.3" y="158" text-anchor="end">30</text><text x="943.6" y="264.9" text-anchor="middle">40</text><text x="778.3" y="126.8" text-anchor="end">40</text><text x="983.3" y="264.9" text-anchor="middle">50</text><text x="778.3" y="95.7" text-anchor="end">50</text><text x="1023.1" y="264.9" text-anchor="middle">60</text><text x="778.3" y="64.5" text-anchor="end">60</text><text x="1062.8" y="264.9" text-anchor="middle">70</text><text x="778.3" y="33.4" text-anchor="end">70</text></g>
<text x="839.7" y="289.7" font-size="17" textLength="178.2" lengthAdjust="spacingAndGlyphs">Iron grade (%) - Domain 4</text>
<text transform="translate(754.7 227.6) rotate(-90)" font-size="17" textLength="177.2" lengthAdjust="spacingAndGlyphs">Iron grade (%) - Domain 1</text>
<text x="1065.5" y="236.5" font-size="17" text-anchor="end" textLength="57.2" lengthAdjust="spacingAndGlyphs">ρ = 0.20</text>
<g fill="#00ff00"><circle cx="1217.6" cy="65.5" r="2.1"/><circle cx="1222.5" cy="65.5" r="2.1"/><circle cx="1225.3" cy="65.5" r="2.1"/><circle cx="1228.6" cy="65.5" r="2.1"/><circle cx="1222.5" cy="83.9" r="2.1"/><circle cx="1225.8" cy="83.9" r="2.1"/><circle cx="1220.2" cy="100.1" r="2.1"/><circle cx="1274.1" cy="78.3" r="2.1"/><circle cx="1274.6" cy="83.9" r="2.1"/><circle cx="1265.7" cy="95.8" r="2.1"/><circle cx="1274.6" cy="95.8" r="2.1"/><circle cx="1333.1" cy="63.3" r="2.1"/><circle cx="1326" cy="67.7" r="2.1"/><circle cx="1326" cy="75.9" r="2.1"/><circle cx="1333.1" cy="79.2" r="2.1"/></g>
<path d="M1173.5 30.4V248.2H1451.8" fill="none" stroke="#5a5a5a" stroke-width="1"/>
<line x1="1173.5" y1="30.3" x2="1173.5" y2="38.8" stroke="#111" stroke-width="1.4"/>
<path d="M1173.5 217.1h2.5M1213.3 248.2v-3M1173.5 186h2.5M1253 248.2v-3M1173.5 154.9h2.5M1292.8 248.2v-3M1173.5 123.7h2.5M1332.5 248.2v-3M1173.5 92.6h2.5M1372.3 248.2v-3M1173.5 61.5h2.5M1412 248.2v-3M1173.5 30.4h2.5M1451.8 248.2v-3" stroke="#b0b0b0" stroke-width="1"/>
<line x1="1173.5" y1="248.2" x2="1451.8" y2="30.4" stroke="#000" stroke-width="1.9"/>
<circle cx="1265.7" cy="79.4" r="4.9" fill="#ff0000"/>
<g font-size="12" fill="#262626"><text x="1173.5" y="265.7" text-anchor="middle">0</text><text x="1167.2" y="252.2" text-anchor="end">0</text><text x="1213.3" y="265.7" text-anchor="middle">10</text><text x="1167.2" y="221.1" text-anchor="end">10</text><text x="1253" y="265.7" text-anchor="middle">20</text><text x="1167.2" y="190" text-anchor="end">20</text><text x="1292.8" y="265.7" text-anchor="middle">30</text><text x="1167.2" y="158.9" text-anchor="end">30</text><text x="1332.5" y="265.7" text-anchor="middle">40</text><text x="1167.2" y="127.7" text-anchor="end">40</text><text x="1372.3" y="265.7" text-anchor="middle">50</text><text x="1167.2" y="96.6" text-anchor="end">50</text><text x="1412" y="265.7" text-anchor="middle">60</text><text x="1167.2" y="65.5" text-anchor="end">60</text><text x="1451.8" y="265.7" text-anchor="middle">70</text><text x="1167.2" y="34.4" text-anchor="end">70</text></g>
<text x="1227.6" y="289.8" font-size="17" textLength="178.2" lengthAdjust="spacingAndGlyphs">Iron grade (%) - Domain 5</text>
<text transform="translate(1140.7 226.6) rotate(-90)" font-size="17" textLength="177.2" lengthAdjust="spacingAndGlyphs">Iron grade (%) - Domain 1</text>
<text x="1453.5" y="236.4" font-size="17" text-anchor="end" textLength="57.2" lengthAdjust="spacingAndGlyphs">ρ = 0.08</text>
<g fill="#00ff00"><circle cx="597.2" cy="383.6" r="2.1"/><circle cx="602.8" cy="382.8" r="2.1"/><circle cx="604.9" cy="382.2" r="2.1"/><circle cx="606.4" cy="383.2" r="2.1"/><circle cx="610.1" cy="383" r="2.1"/><circle cx="611.9" cy="383" r="2.1"/><circle cx="614.9" cy="382.4" r="2.1"/><circle cx="618.3" cy="381.7" r="2.1"/><circle cx="620" cy="382.9" r="2.1"/><circle cx="622.9" cy="382.4" r="2.1"/><circle cx="624.5" cy="382.3" r="2.1"/><circle cx="594.4" cy="385.5" r="2.1"/><circle cx="597.7" cy="384.9" r="2.1"/><circle cx="598.8" cy="385.6" r="2.1"/><circle cx="601.4" cy="385.1" r="2.1"/><circle cx="603.8" cy="385.3" r="2.1"/><circle cx="607.4" cy="385.2" r="2.1"/><circle cx="608.8" cy="385.2" r="2.1"/><circle cx="613.1" cy="384.6" r="2.1"/><circle cx="615.4" cy="384.1" r="2.1"/><circle cx="616.9" cy="385.5" r="2.1"/><circle cx="620.1" cy="384.2" r="2.1"/><circle cx="622.1" cy="385.1" r="2.1"/><circle cx="625.6" cy="386.1" r="2.1"/><circle cx="628.9" cy="385.3" r="2.1"/><circle cx="630.7" cy="385.6" r="2.1"/><circle cx="586.7" cy="388.2" r="2.1"/><circle cx="588.2" cy="387.1" r="2.1"/><circle cx="591.1" cy="387" r="2.1"/><circle cx="593.6" cy="386.7" r="2.1"/><circle cx="596.3" cy="388.5" r="2.1"/><circle cx="600.4" cy="387.9" r="2.1"/><circle cx="601.1" cy="387.3" r="2.1"/><circle cx="604" cy="386.8" r="2.1"/><circle cx="608" cy="388.3" r="2.1"/><circle cx="610.4" cy="388.6" r="2.1"/><circle cx="612.6" cy="387" r="2.1"/><circle cx="614.9" cy="386.9" r="2.1"/><circle cx="617.3" cy="386.7" r="2.1"/><circle cx="621.2" cy="388.3" r="2.1"/><circle cx="623.4" cy="387.8" r="2.1"/><circle cx="624.6" cy="387" r="2.1"/><circle cx="628" cy="387.6" r="2.1"/><circle cx="631.1" cy="387.6" r="2.1"/><circle cx="633.7" cy="386.7" r="2.1"/><circle cx="636.3" cy="387.9" r="2.1"/><circle cx="581.3" cy="389.9" r="2.1"/><circle cx="583.8" cy="390.8" r="2.1"/><circle cx="587.2" cy="389.1" r="2.1"/><circle cx="589.8" cy="389.2" r="2.1"/><circle cx="591.7" cy="391.1" r="2.1"/><circle cx="595.2" cy="389.9" r="2.1"/><circle cx="597.5" cy="389.2" r="2.1"/><circle cx="600.4" cy="391" r="2.1"/><circle cx="602.9" cy="390.2" r="2.1"/><circle cx="604.7" cy="390.9" r="2.1"/><circle cx="608" cy="389.4" r="2.1"/><circle cx="608.9" cy="389.7" r="2.1"/><circle cx="612.8" cy="390.7" r="2.1"/><circle cx="615.4" cy="389.7" r="2.1"/><circle cx="618.4" cy="391.1" r="2.1"/><circle cx="620.6" cy="390.3" r="2.1"/><circle cx="621.9" cy="389.6" r="2.1"/><circle cx="625.3" cy="391" r="2.1"/><circle cx="627.7" cy="390.5" r="2.1"/><circle cx="631.2" cy="390.2" r="2.1"/><circle cx="633" cy="389.4" r="2.1"/><circle cx="636.4" cy="389.2" r="2.1"/><circle cx="575.8" cy="393.3" r="2.1"/><circle cx="577.6" cy="392" r="2.1"/><circle cx="581.3" cy="393.1" r="2.1"/><circle cx="583" cy="392.6" r="2.1"/><circle cx="586.6" cy="392" r="2.1"/><circle cx="589.5" cy="391.9" r="2.1"/><circle cx="591.5" cy="393.6" r="2.1"/><circle cx="594.7" cy="392.6" r="2.1"/><circle cx="597" cy="391.8" r="2.1"/><circle cx="599.8" cy="392.3" r="2.1"/><circle cx="601.4" cy="392.4" r="2.1"/><circle cx="605.5" cy="392.6" r="2.1"/><circle cx="607.2" cy="393.2" r="2.1"/><circle cx="610.5" cy="393.4" r="2.1"/><circle cx="612.4" cy="393.4" r="2.1"/><circle cx="614.4" cy="391.8" r="2.1"/><circle cx="618" cy="391.6" r="2.1"/><circle cx="620.2" cy="393.1" r="2.1"/><circle cx="622.1" cy="392.6" r="2.1"/><circle cx="624.5" cy="392.8" r="2.1"/><circle cx="628.2" cy="393.6" r="2.1"/><circle cx="631" cy="392.9" r="2.1"/><circle cx="634.1" cy="393" r="2.1"/><circle cx="635.1" cy="391.7" r="2.1"/><circle cx="568.9" cy="395.4" r="2.1"/><circle cx="570.6" cy="395.9" r="2.1"/><circle cx="574.3" cy="395.9" r="2.1"/><circle cx="577" cy="394.5" r="2.1"/><circle cx="578.6" cy="394.6" r="2.1"/><circle cx="581.2" cy="394.6" r="2.1"/><circle cx="583.2" cy="394.1" r="2.1"/><circle cx="587.3" cy="394.6" r="2.1"/><circle cx="588.7" cy="395.9" r="2.1"/><circle cx="591.4" cy="394.1" r="2.1"/><circle cx="594.6" cy="394.4" r="2.1"/><circle cx="597.1" cy="395.7" r="2.1"/><circle cx="599.3" cy="395.4" r="2.1"/><circle cx="601.6" cy="395" r="2.1"/><circle cx="605.3" cy="395.2" r="2.1"/><circle cx="607.8" cy="394.4" r="2.1"/><circle cx="610.3" cy="395.5" r="2.1"/><circle cx="612.8" cy="395.1" r="2.1"/><circle cx="615.9" cy="395.8" r="2.1"/><circle cx="616.7" cy="394.9" r="2.1"/><circle cx="620.9" cy="394.5" r="2.1"/><circle cx="623.3" cy="395" r="2.1"/><circle cx="625.1" cy="394.5" r="2.1"/><circle cx="627.9" cy="394.2" r="2.1"/><circle cx="631.2" cy="394.4" r="2.1"/><circle cx="633.9" cy="395.4" r="2.1"/><circle cx="635.1" cy="395.2" r="2.1"/><circle cx="637.5" cy="394.7" r="2.1"/><circle cx="568.1" cy="397.6" r="2.1"/><circle cx="570.7" cy="397.8" r="2.1"/><circle cx="574.2" cy="396.9" r="2.1"/><circle cx="576.5" cy="396.8" r="2.1"/><circle cx="577.8" cy="397.7" r="2.1"/><circle cx="582.2" cy="397.8" r="2.1"/><circle cx="583.1" cy="398.2" r="2.1"/><circle cx="587.2" cy="397.5" r="2.1"/><circle cx="589" cy="397.5" r="2.1"/><circle cx="592.5" cy="398.5" r="2.1"/><circle cx="594.8" cy="397.8" r="2.1"/><circle cx="597.2" cy="398.5" r="2.1"/><circle cx="599.5" cy="396.7" r="2.1"/><circle cx="602.4" cy="397.6" r="2.1"/><circle cx="605" cy="397.8" r="2.1"/><circle cx="608" cy="396.7" r="2.1"/><circle cx="610" cy="397.8" r="2.1"/><circle cx="612" cy="397.9" r="2.1"/><circle cx="614.4" cy="397.8" r="2.1"/><circle cx="616.8" cy="397.9" r="2.1"/><circle cx="621.1" cy="397.3" r="2.1"/><circle cx="623.7" cy="397" r="2.1"/><circle cx="626.2" cy="398.2" r="2.1"/><circle cx="628.2" cy="397.8" r="2.1"/><circle cx="629.8" cy="398.5" r="2.1"/><circle cx="633.8" cy="398.3" r="2.1"/><circle cx="635.1" cy="398.3" r="2.1"/><circle cx="638.2" cy="398.1" r="2.1"/><circle cx="562.7" cy="399.6" r="2.1"/><circle cx="566.2" cy="399.9" r="2.1"/><circle cx="567.4" cy="399.8" r="2.1"/><circle cx="569.8" cy="400.1" r="2.1"/><circle cx="572.9" cy="400.2" r="2.1"/><circle cx="576.9" cy="400.4" r="2.1"/><circle cx="578.1" cy="399.4" r="2.1"/><circle cx="581.3" cy="400.9" r="2.1"/><circle cx="583.2" cy="399.7" r="2.1"/><circle cx="585.9" cy="400" r="2.1"/><circle cx="589.9" cy="401" r="2.1"/><circle cx="591.4" cy="400.8" r="2.1"/><circle cx="593.8" cy="400.8" r="2.1"/><circle cx="596.8" cy="399.1" r="2.1"/><circle cx="600.1" cy="400.9" r="2.1"/><circle cx="602.9" cy="399.3" r="2.1"/><circle cx="604.5" cy="399.8" r="2.1"/><circle cx="606.7" cy="400.5" r="2.1"/><circle cx="610" cy="400.8" r="2.1"/><circle cx="613" cy="399.5" r="2.1"/><circle cx="615.6" cy="400.9" r="2.1"/><circle cx="617" cy="399.6" r="2.1"/><circle cx="619.6" cy="399.8" r="2.1"/><circle cx="623.5" cy="400.2" r="2.1"/><circle cx="625.4" cy="400" r="2.1"/><circle cx="627.5" cy="400.1" r="2.1"/><circle cx="630.6" cy="400.7" r="2.1"/><circle cx="632.3" cy="400.8" r="2.1"/><circle cx="635" cy="399.1" r="2.1"/><circle cx="637.7" cy="400.9" r="2.1"/><circle cx="558.3" cy="401.7" r="2.1"/><circle cx="559.9" cy="402.3" r="2.1"/><circle cx="562" cy="402.2" r="2.1"/><circle cx="565.9" cy="402.9" r="2.1"/><circle cx="568.3" cy="402.9" r="2.1"/><circle cx="571.6" cy="401.7" r="2.1"/><circle cx="572.7" cy="402.2" r="2.1"/><circle cx="576" cy="402.9" r="2.1"/><circle cx="577.9" cy="402.1" r="2.1"/><circle cx="581.8" cy="402.8" r="2.1"/><circle cx="583.9" cy="402.7" r="2.1"/><circle cx="587.1" cy="403.2" r="2.1"/><circle cx="589.4" cy="402.7" r="2.1"/><circle cx="591.8" cy="403" r="2.1"/><circle cx="593.4" cy="403.4" r="2.1"/><circle cx="596.1" cy="401.8" r="2.1"/><circle cx="598.8" cy="403.1" r="2.1"/><circle cx="601.5" cy="401.8" r="2.1"/><circle cx="605.3" cy="402.7" r="2.1"/><circle cx="606.6" cy="402.1" r="2.1"/><circle cx="610.2" cy="402.8" r="2.1"/><circle cx="611.7" cy="402.8" r="2.1"/><circle cx="614.9" cy="402.8" r="2.1"/><circle cx="618.5" cy="402" r="2.1"/><circle cx="619.8" cy="402" r="2.1"/><circle cx="623.8" cy="402.2" r="2.1"/><circle cx="625.5" cy="403.4" r="2.1"/><circle cx="628" cy="403.3" r="2.1"/><circle cx="630.1" cy="402.4" r="2.1"/><circle cx="633.8" cy="402.1" r="2.1"/><circle cx="636.7" cy="403.3" r="2.1"/><circle cx="637.9" cy="403" r="2.1"/><circle cx="551.7" cy="406" r="2.1"/><circle cx="555.1" cy="405.5" r="2.1"/><circle cx="558.7" cy="405" r="2.1"/><circle cx="561.3" cy="404.5" r="2.1"/><circle cx="562.3" cy="405.9" r="2.1"/><circle cx="565.6" cy="405.3" r="2.1"/><circle cx="568.7" cy="405.7" r="2.1"/><circle cx="571.2" cy="405.9" r="2.1"/><circle cx="573.1" cy="405.5" r="2.1"/><circle cx="576.2" cy="404.1" r="2.1"/><circle cx="578.7" cy="405.2" r="2.1"/><circle cx="581" cy="404.7" r="2.1"/><circle cx="584.8" cy="405.4" r="2.1"/><circle cx="585.5" cy="405.9" r="2.1"/><circle cx="588.8" cy="405.1" r="2.1"/><circle cx="591.8" cy="406" r="2.1"/><circle cx="594" cy="405.1" r="2.1"/><circle cx="596.7" cy="405.3" r="2.1"/><circle cx="598.4" cy="404.6" r="2.1"/><circle cx="602.3" cy="405.8" r="2.1"/><circle cx="605.5" cy="405.3" r="2.1"/><circle cx="607" cy="405.6" r="2.1"/><circle cx="610.3" cy="405.2" r="2.1"/><circle cx="613.4" cy="404.3" r="2.1"/><circle cx="615.6" cy="404.4" r="2.1"/><circle cx="617.8" cy="404.2" r="2.1"/><circle cx="620.3" cy="404.6" r="2.1"/><circle cx="623.6" cy="405.7" r="2.1"/><circle cx="625.1" cy="405.1" r="2.1"/><circle cx="628.4" cy="404.5" r="2.1"/><circle cx="630.9" cy="405.2" r="2.1"/><circle cx="633.5" cy="404.9" r="2.1"/><circle cx="635.4" cy="404.9" r="2.1"/><circle cx="637.4" cy="404.1" r="2.1"/><circle cx="550.2" cy="407.4" r="2.1"/><circle cx="552.9" cy="407.9" r="2.1"/><circle cx="555.9" cy="408" r="2.1"/><circle cx="556.9" cy="407.5" r="2.1"/><circle cx="560.4" cy="407.5" r="2.1"/><circle cx="563.9" cy="407.7" r="2.1"/><circle cx="564.7" cy="408" r="2.1"/><circle cx="568.1" cy="408.4" r="2.1"/><circle cx="571.4" cy="406.7" r="2.1"/><circle cx="573.3" cy="407.5" r="2.1"/><circle cx="576.4" cy="407.6" r="2.1"/><circle cx="578" cy="407.6" r="2.1"/><circle cx="581.4" cy="408.1" r="2.1"/><circle cx="584" cy="407.7" r="2.1"/><circle cx="586.7" cy="406.8" r="2.1"/><circle cx="589.4" cy="407.9" r="2.1"/><circle cx="591.6" cy="407.2" r="2.1"/><circle cx="594.1" cy="406.8" r="2.1"/><circle cx="596.2" cy="407.4" r="2.1"/><circle cx="599.2" cy="407.9" r="2.1"/><circle cx="603" cy="406.6" r="2.1"/><circle cx="605.5" cy="407.5" r="2.1"/><circle cx="608.1" cy="408.5" r="2.1"/><circle cx="610.1" cy="407.1" r="2.1"/><circle cx="613" cy="407.2" r="2.1"/><circle cx="615.3" cy="408" r="2.1"/><circle cx="618" cy="408.3" r="2.1"/><circle cx="620.6" cy="408.4" r="2.1"/><circle cx="621.9" cy="407" r="2.1"/><circle cx="625.1" cy="408.6" r="2.1"/><circle cx="628.1" cy="408.4" r="2.1"/><circle cx="629.7" cy="407.6" r="2.1"/><circle cx="632.3" cy="408.3" r="2.1"/><circle cx="635.6" cy="406.8" r="2.1"/><circle cx="638.1" cy="407.5" r="2.1"/><circle cx="552.9" cy="410.6" r="2.1"/><circle cx="554.5" cy="410.8" r="2.1"/><circle cx="557.7" cy="409.4" r="2.1"/><circle cx="561.1" cy="410.8" r="2.1"/><circle cx="563.1" cy="410.3" r="2.1"/><circle cx="565.4" cy="409.8" r="2.1"/><circle cx="567.7" cy="409.2" r="2.1"/><circle cx="569.9" cy="409.8" r="2.1"/><circle cx="573" cy="410.4" r="2.1"/><circle cx="575.8" cy="409.2" r="2.1"/><circle cx="578.9" cy="409.6" r="2.1"/><circle cx="580.4" cy="409.3" r="2.1"/><circle cx="584" cy="409.9" r="2.1"/><circle cx="586.7" cy="410.1" r="2.1"/><circle cx="588.5" cy="410.7" r="2.1"/><circle cx="590.7" cy="410" r="2.1"/><circle cx="593.4" cy="410.2" r="2.1"/><circle cx="596" cy="409.6" r="2.1"/><circle cx="599.6" cy="410.2" r="2.1"/><circle cx="601.4" cy="409.4" r="2.1"/><circle cx="604.6" cy="410.1" r="2.1"/><circle cx="607.7" cy="410.8" r="2.1"/><circle cx="609.2" cy="409.9" r="2.1"/><circle cx="612.3" cy="410.4" r="2.1"/><circle cx="614.1" cy="410.7" r="2.1"/><circle cx="617.1" cy="410.5" r="2.1"/><circle cx="620.8" cy="410" r="2.1"/><circle cx="622.1" cy="410.8" r="2.1"/><circle cx="625" cy="409.3" r="2.1"/><circle cx="627.5" cy="410.4" r="2.1"/><circle cx="631.1" cy="410.7" r="2.1"/><circle cx="633.8" cy="409.3" r="2.1"/><circle cx="636.3" cy="409.8" r="2.1"/><circle cx="638.6" cy="410.2" r="2.1"/><circle cx="552.3" cy="411.7" r="2.1"/><circle cx="555.6" cy="412.4" r="2.1"/><circle cx="556.9" cy="413.4" r="2.1"/><circle cx="560.3" cy="412.2" r="2.1"/><circle cx="562.5" cy="413.6" r="2.1"/><circle cx="565.1" cy="411.8" r="2.1"/><circle cx="569" cy="412" r="2.1"/><circle cx="570.9" cy="412.9" r="2.1"/><circle cx="572.4" cy="413.2" r="2.1"/><circle cx="576.8" cy="412.5" r="2.1"/><circle cx="578" cy="413.5" r="2.1"/><circle cx="580.2" cy="411.9" r="2.1"/><circle cx="583.4" cy="413.2" r="2.1"/><circle cx="586" cy="412" r="2.1"/><circle cx="590" cy="413.1" r="2.1"/><circle cx="591.9" cy="412.9" r="2.1"/><circle cx="594.3" cy="411.8" r="2.1"/><circle cx="596.3" cy="413.1" r="2.1"/><circle cx="598.9" cy="413.3" r="2.1"/><circle cx="602.2" cy="412.7" r="2.1"/><circle cx="603.7" cy="413.3" r="2.1"/><circle cx="607" cy="412.2" r="2.1"/><circle cx="609.8" cy="411.9" r="2.1"/><circle cx="612.5" cy="413.2" r="2.1"/><circle cx="615" cy="412" r="2.1"/><circle cx="618.5" cy="412" r="2.1"/><circle cx="620.6" cy="412.6" r="2.1"/><circle cx="623.4" cy="413" r="2.1"/><circle cx="624.5" cy="411.7" r="2.1"/><circle cx="627.5" cy="412.3" r="2.1"/><circle cx="631.2" cy="413.3" r="2.1"/><circle cx="632.6" cy="412.9" r="2.1"/><circle cx="636.1" cy="412.9" r="2.1"/><circle cx="552.3" cy="415.6" r="2.1"/><circle cx="555.1" cy="415.6" r="2.1"/><circle cx="558.2" cy="416" r="2.1"/><circle cx="560" cy="414.8" r="2.1"/><circle cx="562.8" cy="414.8" r="2.1"/><circle cx="566.2" cy="415.4" r="2.1"/><circle cx="567.7" cy="415.1" r="2.1"/><circle cx="571.4" cy="415.9" r="2.1"/><circle cx="573.9" cy="415" r="2.1"/><circle cx="576.9" cy="414.4" r="2.1"/><circle cx="578.3" cy="414.9" r="2.1"/><circle cx="580.4" cy="414.9" r="2.1"/><circle cx="584.3" cy="415.8" r="2.1"/><circle cx="586" cy="414.9" r="2.1"/><circle cx="589.6" cy="414.4" r="2.1"/><circle cx="591.6" cy="414.3" r="2.1"/><circle cx="594.8" cy="415.7" r="2.1"/><circle cx="596.9" cy="415.3" r="2.1"/><circle cx="598.8" cy="414.2" r="2.1"/><circle cx="602.8" cy="414.2" r="2.1"/><circle cx="605" cy="415.1" r="2.1"/><circle cx="606.7" cy="415" r="2.1"/><circle cx="609.8" cy="415.2" r="2.1"/><circle cx="612.7" cy="415.8" r="2.1"/><circle cx="615.5" cy="414.3" r="2.1"/><circle cx="618.5" cy="415.8" r="2.1"/><circle cx="619.6" cy="415.2" r="2.1"/><circle cx="623" cy="414.3" r="2.1"/><circle cx="626.4" cy="416.1" r="2.1"/><circle cx="627.8" cy="415.3" r="2.1"/><circle cx="630" cy="414.4" r="2.1"/><circle cx="633" cy="415.8" r="2.1"/><circle cx="636.8" cy="414.5" r="2.1"/><circle cx="552.8" cy="417.8" r="2.1"/><circle cx="554.5" cy="417" r="2.1"/><circle cx="557.3" cy="417.9" r="2.1"/><circle cx="559.5" cy="417.8" r="2.1"/><circle cx="563.3" cy="418.3" r="2.1"/><circle cx="566.5" cy="418.1" r="2.1"/><circle cx="567.3" cy="418.2" r="2.1"/><circle cx="571.7" cy="417.5" r="2.1"/><circle cx="572.9" cy="418" r="2.1"/><circle cx="576.2" cy="418.5" r="2.1"/><circle cx="577.7" cy="416.7" r="2.1"/><circle cx="581.6" cy="417.5" r="2.1"/><circle cx="583.4" cy="417.5" r="2.1"/><circle cx="586.1" cy="416.7" r="2.1"/><circle cx="588.5" cy="417.4" r="2.1"/><circle cx="591.6" cy="417.1" r="2.1"/><circle cx="594.5" cy="418.4" r="2.1"/><circle cx="597" cy="418.1" r="2.1"/><circle cx="599.2" cy="416.6" r="2.1"/><circle cx="601.8" cy="418.6" r="2.1"/><circle cx="603.8" cy="417.6" r="2.1"/><circle cx="606.4" cy="418.5" r="2.1"/><circle cx="610.8" cy="417.8" r="2.1"/><circle cx="611.7" cy="418.2" r="2.1"/><circle cx="614.2" cy="417.6" r="2.1"/><circle cx="617.2" cy="417.2" r="2.1"/><circle cx="620.1" cy="417.8" r="2.1"/><circle cx="623.1" cy="416.9" r="2.1"/><circle cx="625.8" cy="417.4" r="2.1"/><circle cx="628.1" cy="417.3" r="2.1"/><circle cx="630.4" cy="418.3" r="2.1"/><circle cx="633.1" cy="417.9" r="2.1"/><circle cx="636" cy="417.2" r="2.1"/><circle cx="550.5" cy="419.6" r="2.1"/><circle cx="553.4" cy="420.9" r="2.1"/><circle cx="554.2" cy="420.5" r="2.1"/><circle cx="558" cy="421" r="2.1"/><circle cx="560.7" cy="420.5" r="2.1"/><circle cx="562.7" cy="421" r="2.1"/><circle cx="565" cy="420.3" r="2.1"/><circle cx="568.8" cy="420" r="2.1"/><circle cx="570.2" cy="421.1" r="2.1"/><circle cx="574" cy="419.9" r="2.1"/><circle cx="576.6" cy="420" r="2.1"/><circle cx="578.1" cy="419.4" r="2.1"/><circle cx="581" cy="421" r="2.1"/><circle cx="583.1" cy="421.1" r="2.1"/><circle cx="586.3" cy="419.6" r="2.1"/><circle cx="589.9" cy="420.7" r="2.1"/><circle cx="592.5" cy="419.7" r="2.1"/><circle cx="593.6" cy="420.8" r="2.1"/><circle cx="596.9" cy="419.4" r="2.1"/><circle cx="599.9" cy="420.7" r="2.1"/><circle cx="601.4" cy="420.6" r="2.1"/><circle cx="605.1" cy="420.9" r="2.1"/><circle cx="608.1" cy="420.4" r="2.1"/><circle cx="610.2" cy="419.5" r="2.1"/><circle cx="612.6" cy="420.8" r="2.1"/><circle cx="615.6" cy="420.7" r="2.1"/><circle cx="617.1" cy="419.3" r="2.1"/><circle cx="620.5" cy="420.3" r="2.1"/><circle cx="621.8" cy="419.4" r="2.1"/><circle cx="624.7" cy="419.3" r="2.1"/><circle cx="627.7" cy="421.1" r="2.1"/><circle cx="629.8" cy="420.3" r="2.1"/><circle cx="632.2" cy="420.2" r="2.1"/><circle cx="636.1" cy="419.2" r="2.1"/><circle cx="637.6" cy="420.9" r="2.1"/><circle cx="553.4" cy="422.9" r="2.1"/><circle cx="554.6" cy="423" r="2.1"/><circle cx="557.3" cy="421.7" r="2.1"/><circle cx="561.1" cy="422.9" r="2.1"/><circle cx="562.6" cy="422.6" r="2.1"/><circle cx="565.5" cy="421.8" r="2.1"/><circle cx="567.6" cy="422.3" r="2.1"/><circle cx="570" cy="421.7" r="2.1"/><circle cx="574.2" cy="423.5" r="2.1"/><circle cx="575.3" cy="423.6" r="2.1"/><circle cx="578.6" cy="421.9" r="2.1"/><circle cx="580.5" cy="422.1" r="2.1"/><circle cx="583.9" cy="422.6" r="2.1"/><circle cx="585.9" cy="421.7" r="2.1"/><circle cx="588.9" cy="423" r="2.1"/><circle cx="591.1" cy="422.9" r="2.1"/><circle cx="593.6" cy="422.6" r="2.1"/><circle cx="596.8" cy="422.9" r="2.1"/><circle cx="599.9" cy="421.6" r="2.1"/><circle cx="601.5" cy="423.2" r="2.1"/><circle cx="604.4" cy="422.1" r="2.1"/><circle cx="606.8" cy="422.9" r="2.1"/><circle cx="609.9" cy="422" r="2.1"/><circle cx="613" cy="422.1" r="2.1"/><circle cx="614.3" cy="423" r="2.1"/><circle cx="616.8" cy="422.4" r="2.1"/><circle cx="619.3" cy="422" r="2.1"/><circle cx="623.8" cy="423.5" r="2.1"/><circle cx="625" cy="422" r="2.1"/><circle cx="628.5" cy="422.6" r="2.1"/><circle cx="631.6" cy="422.9" r="2.1"/><circle cx="633.1" cy="423.3" r="2.1"/><circle cx="635" cy="422.8" r="2.1"/><circle cx="638.6" cy="423.1" r="2.1"/><circle cx="552.4" cy="425.2" r="2.1"/><circle cx="555.9" cy="424.8" r="2.1"/><circle cx="558.3" cy="424.3" r="2.1"/><circle cx="560.1" cy="424.8" r="2.1"/><circle cx="562.4" cy="425.1" r="2.1"/><circle cx="565.3" cy="424.2" r="2.1"/><circle cx="568.8" cy="425.4" r="2.1"/><circle cx="571" cy="425.9" r="2.1"/><circle cx="572.6" cy="424.1" r="2.1"/><circle cx="575.4" cy="425.8" r="2.1"/><circle cx="578.8" cy="425.4" r="2.1"/><circle cx="581" cy="425.3" r="2.1"/><circle cx="583.6" cy="424.4" r="2.1"/><circle cx="586.8" cy="424.9" r="2.1"/><circle cx="589.2" cy="425.9" r="2.1"/><circle cx="591.9" cy="424.7" r="2.1"/><circle cx="594.6" cy="425.8" r="2.1"/><circle cx="597" cy="424.6" r="2.1"/><circle cx="599.1" cy="424.9" r="2.1"/><circle cx="602.5" cy="424.2" r="2.1"/><circle cx="603.9" cy="425.3" r="2.1"/><circle cx="607.3" cy="425.6" r="2.1"/><circle cx="609.4" cy="425.2" r="2.1"/><circle cx="612.9" cy="425.2" r="2.1"/><circle cx="614.9" cy="425.5" r="2.1"/><circle cx="616.9" cy="424.7" r="2.1"/><circle cx="621.1" cy="425.4" r="2.1"/><circle cx="622.2" cy="425.6" r="2.1"/><circle cx="625.7" cy="425" r="2.1"/><circle cx="628" cy="425.4" r="2.1"/><circle cx="631.4" cy="425.6" r="2.1"/><circle cx="634.2" cy="424.4" r="2.1"/><circle cx="636.3" cy="424.7" r="2.1"/><circle cx="637.9" cy="424.5" r="2.1"/><circle cx="553.5" cy="426.7" r="2.1"/><circle cx="555.5" cy="428.2" r="2.1"/><circle cx="557.6" cy="427.7" r="2.1"/><circle cx="560.9" cy="427.4" r="2.1"/><circle cx="563" cy="428.4" r="2.1"/><circle cx="566.2" cy="427" r="2.1"/><circle cx="568.4" cy="428" r="2.1"/><circle cx="571.6" cy="427" r="2.1"/><circle cx="573.1" cy="428" r="2.1"/><circle cx="576.1" cy="427.3" r="2.1"/><circle cx="578.8" cy="427.6" r="2.1"/><circle cx="580.7" cy="427.8" r="2.1"/><circle cx="583.9" cy="427.2" r="2.1"/><circle cx="586.5" cy="427.3" r="2.1"/><circle cx="589" cy="427" r="2.1"/><circle cx="590.7" cy="427.7" r="2.1"/><circle cx="594.1" cy="427.2" r="2.1"/><circle cx="596.9" cy="426.8" r="2.1"/><circle cx="599.1" cy="427.6" r="2.1"/><circle cx="602.1" cy="428.5" r="2.1"/><circle cx="605.6" cy="427.1" r="2.1"/><circle cx="607.3" cy="428.3" r="2.1"/><circle cx="610.2" cy="427.1" r="2.1"/><circle cx="611.7" cy="427.7" r="2.1"/><circle cx="615.7" cy="427.7" r="2.1"/><circle cx="617.7" cy="427.5" r="2.1"/><circle cx="619.9" cy="427.9" r="2.1"/><circle cx="623" cy="428.1" r="2.1"/><circle cx="625.9" cy="427" r="2.1"/><circle cx="627.9" cy="427.1" r="2.1"/><circle cx="630.1" cy="428.5" r="2.1"/><circle cx="632.4" cy="426.7" r="2.1"/><circle cx="635.4" cy="427" r="2.1"/><circle cx="656.7" cy="405.7" r="2.1"/><circle cx="659.2" cy="405.3" r="2.1"/><circle cx="666.9" cy="405.4" r="2.1"/><circle cx="638.9" cy="407.5" r="2.1"/><circle cx="640.8" cy="407.6" r="2.1"/><circle cx="644.7" cy="408.1" r="2.1"/><circle cx="647.1" cy="407.2" r="2.1"/><circle cx="649.1" cy="408.2" r="2.1"/><circle cx="652.2" cy="407.9" r="2.1"/><circle cx="655.2" cy="407.6" r="2.1"/><circle cx="656.2" cy="406.8" r="2.1"/><circle cx="660.5" cy="407" r="2.1"/><circle cx="662.9" cy="407.9" r="2.1"/><circle cx="664.7" cy="406.9" r="2.1"/><circle cx="668.1" cy="406.9" r="2.1"/><circle cx="669.7" cy="408.2" r="2.1"/><circle cx="671.9" cy="407" r="2.1"/><circle cx="675" cy="407.5" r="2.1"/><circle cx="641.9" cy="410.2" r="2.1"/><circle cx="643.7" cy="409.4" r="2.1"/><circle cx="646.9" cy="410.1" r="2.1"/><circle cx="649.2" cy="409.1" r="2.1"/><circle cx="651" cy="409.4" r="2.1"/><circle cx="655.2" cy="408.8" r="2.1"/><circle cx="656.3" cy="410.5" r="2.1"/><circle cx="659.7" cy="409" r="2.1"/><circle cx="661.9" cy="410.3" r="2.1"/><circle cx="663.8" cy="409.6" r="2.1"/><circle cx="667.8" cy="410.3" r="2.1"/><circle cx="669.7" cy="408.9" r="2.1"/><circle cx="672.5" cy="409.7" r="2.1"/><circle cx="674.8" cy="409.8" r="2.1"/><circle cx="642.1" cy="411.4" r="2.1"/><circle cx="643" cy="412.6" r="2.1"/><circle cx="647" cy="413" r="2.1"/><circle cx="648.1" cy="412.9" r="2.1"/><circle cx="652.3" cy="412" r="2.1"/><circle cx="654.7" cy="413.2" r="2.1"/><circle cx="656.8" cy="412.2" r="2.1"/><circle cx="658.9" cy="412.9" r="2.1"/><circle cx="662.5" cy="411.9" r="2.1"/><circle cx="664.5" cy="412.8" r="2.1"/><circle cx="666.8" cy="412.2" r="2.1"/><circle cx="670.8" cy="411.2" r="2.1"/><circle cx="673" cy="411.7" r="2.1"/><circle cx="674.8" cy="411.5" r="2.1"/><circle cx="641.1" cy="414.7" r="2.1"/><circle cx="643.3" cy="414.3" r="2.1"/><circle cx="645.6" cy="415.2" r="2.1"/><circle cx="650" cy="414.5" r="2.1"/><circle cx="651.2" cy="414.8" r="2.1"/><circle cx="654.1" cy="413.8" r="2.1"/><circle cx="657.8" cy="414.1" r="2.1"/><circle cx="658.6" cy="414" r="2.1"/><circle cx="662.7" cy="414.4" r="2.1"/><circle cx="665" cy="415.5" r="2.1"/><circle cx="666.6" cy="415.7" r="2.1"/><circle cx="670.4" cy="414.4" r="2.1"/><circle cx="672" cy="413.7" r="2.1"/><circle cx="674.2" cy="414.3" r="2.1"/><circle cx="639.6" cy="416.3" r="2.1"/><circle cx="641.5" cy="416.4" r="2.1"/><circle cx="644.7" cy="416.5" r="2.1"/><circle cx="646.1" cy="417.7" r="2.1"/><circle cx="649.4" cy="416.9" r="2.1"/><circle cx="650.9" cy="417.3" r="2.1"/><circle cx="654.3" cy="417.3" r="2.1"/><circle cx="656.4" cy="417.4" r="2.1"/><circle cx="659.1" cy="416.3" r="2.1"/><circle cx="662.4" cy="417.2" r="2.1"/><circle cx="663.8" cy="416.8" r="2.1"/><circle cx="668.2" cy="416.4" r="2.1"/><circle cx="669" cy="416.3" r="2.1"/><circle cx="672.2" cy="417.4" r="2.1"/><circle cx="674.8" cy="417.1" r="2.1"/><circle cx="641.1" cy="419.6" r="2.1"/><circle cx="644.7" cy="420.1" r="2.1"/><circle cx="645.8" cy="419.4" r="2.1"/><circle cx="649.4" cy="419.4" r="2.1"/><circle cx="652.3" cy="419.2" r="2.1"/><circle cx="653.5" cy="420.2" r="2.1"/><circle cx="656.8" cy="420.4" r="2.1"/><circle cx="659" cy="420.7" r="2.1"/><circle cx="665.6" cy="419.9" r="2.1"/><circle cx="670.1" cy="419.1" r="2.1"/><circle cx="642" cy="421.3" r="2.1"/><circle cx="644.7" cy="422.9" r="2.1"/><circle cx="647.5" cy="423.2" r="2.1"/><circle cx="649" cy="421.5" r="2.1"/><circle cx="642.3" cy="423.7" r="2.1"/><circle cx="644" cy="425.5" r="2.1"/><circle cx="641.2" cy="427.8" r="2.1"/><circle cx="635.8" cy="368.7" r="2.1"/><circle cx="620.1" cy="370.9" r="2.1"/><circle cx="623.2" cy="371.7" r="2.1"/><circle cx="626.4" cy="371.2" r="2.1"/><circle cx="627.2" cy="371.1" r="2.1"/><circle cx="630.4" cy="370.9" r="2.1"/><circle cx="634.1" cy="370.2" r="2.1"/><circle cx="641.7" cy="370.3" r="2.1"/><circle cx="615.7" cy="373" r="2.1"/><circle cx="617.5" cy="374" r="2.1"/><circle cx="619.7" cy="373.4" r="2.1"/><circle cx="621.8" cy="374" r="2.1"/><circle cx="625.4" cy="372.3" r="2.1"/><circle cx="627" cy="372.7" r="2.1"/><circle cx="630.9" cy="372.4" r="2.1"/><circle cx="633" cy="373.5" r="2.1"/><circle cx="635.5" cy="373" r="2.1"/><circle cx="641.7" cy="374.3" r="2.1"/><circle cx="644.6" cy="373" r="2.1"/><circle cx="646.9" cy="374.2" r="2.1"/><circle cx="649.7" cy="374" r="2.1"/><circle cx="677.5" cy="374" r="2.1"/><circle cx="599" cy="376.6" r="2.1"/><circle cx="607.7" cy="376.1" r="2.1"/><circle cx="608.8" cy="375.6" r="2.1"/><circle cx="612.8" cy="375.8" r="2.1"/><circle cx="614.3" cy="375.9" r="2.1"/><circle cx="620.5" cy="376.7" r="2.1"/><circle cx="628.1" cy="375.5" r="2.1"/><circle cx="632.8" cy="376" r="2.1"/><circle cx="638.1" cy="375.2" r="2.1"/><circle cx="640.8" cy="375.1" r="2.1"/><circle cx="642.8" cy="376.2" r="2.1"/><circle cx="645.6" cy="375.4" r="2.1"/><circle cx="650.4" cy="376.1" r="2.1"/><circle cx="654.7" cy="374.8" r="2.1"/><circle cx="656.9" cy="375.2" r="2.1"/><circle cx="658.7" cy="375.2" r="2.1"/><circle cx="660.8" cy="375.1" r="2.1"/><circle cx="664.4" cy="376.7" r="2.1"/><circle cx="667.8" cy="375.1" r="2.1"/><circle cx="669.2" cy="376.2" r="2.1"/><circle cx="671.3" cy="375.2" r="2.1"/><circle cx="677.2" cy="374.9" r="2.1"/><circle cx="680.7" cy="376.1" r="2.1"/><circle cx="683" cy="376.7" r="2.1"/><circle cx="583.4" cy="378.5" r="2.1"/><circle cx="589.5" cy="379.2" r="2.1"/><circle cx="591.4" cy="379.2" r="2.1"/><circle cx="593.8" cy="378.7" r="2.1"/><circle cx="597.6" cy="377.6" r="2.1"/><circle cx="598.8" cy="377.7" r="2.1"/><circle cx="603.8" cy="378.1" r="2.1"/><circle cx="607.5" cy="378.7" r="2.1"/><circle cx="609.9" cy="379.1" r="2.1"/><circle cx="612.1" cy="378.1" r="2.1"/><circle cx="615.4" cy="378.9" r="2.1"/><circle cx="620.6" cy="379.1" r="2.1"/><circle cx="622.1" cy="377.9" r="2.1"/><circle cx="631.4" cy="378.7" r="2.1"/><circle cx="633" cy="378.9" r="2.1"/><circle cx="638.8" cy="379.2" r="2.1"/><circle cx="640.6" cy="378.7" r="2.1"/><circle cx="644.3" cy="377.6" r="2.1"/><circle cx="649.7" cy="378.5" r="2.1"/><circle cx="656.4" cy="379" r="2.1"/><circle cx="662" cy="378.4" r="2.1"/><circle cx="664.8" cy="379.2" r="2.1"/><circle cx="667.4" cy="378.2" r="2.1"/><circle cx="670.6" cy="378.6" r="2.1"/><circle cx="671.3" cy="377.7" r="2.1"/><circle cx="676.9" cy="379" r="2.1"/><circle cx="679.7" cy="377.4" r="2.1"/><circle cx="681.6" cy="378.9" r="2.1"/><circle cx="685" cy="377.9" r="2.1"/><circle cx="582.2" cy="379.9" r="2.1"/><circle cx="589.9" cy="380.4" r="2.1"/><circle cx="592.4" cy="381.6" r="2.1"/><circle cx="594.5" cy="379.8" r="2.1"/><circle cx="602.2" cy="380.9" r="2.1"/><circle cx="604.5" cy="380.3" r="2.1"/><circle cx="610.4" cy="381.3" r="2.1"/><circle cx="612" cy="381.4" r="2.1"/><circle cx="614.7" cy="381.5" r="2.1"/><circle cx="620.9" cy="380.5" r="2.1"/><circle cx="622" cy="381.1" r="2.1"/><circle cx="628.1" cy="379.9" r="2.1"/><circle cx="629.8" cy="380.8" r="2.1"/><circle cx="633.7" cy="381.7" r="2.1"/><circle cx="636" cy="380.4" r="2.1"/><circle cx="638" cy="381.1" r="2.1"/><circle cx="641.3" cy="380.9" r="2.1"/><circle cx="644.5" cy="380.5" r="2.1"/><circle cx="646.6" cy="381" r="2.1"/><circle cx="648.4" cy="381.3" r="2.1"/><circle cx="651.9" cy="380.2" r="2.1"/><circle cx="654" cy="381.6" r="2.1"/><circle cx="655.7" cy="380.8" r="2.1"/><circle cx="659.7" cy="381" r="2.1"/><circle cx="662.4" cy="380.2" r="2.1"/><circle cx="670.1" cy="380.6" r="2.1"/><circle cx="673" cy="381.6" r="2.1"/><circle cx="675.2" cy="380.5" r="2.1"/><circle cx="676.9" cy="380.3" r="2.1"/><circle cx="680.6" cy="381.4" r="2.1"/><circle cx="682.4" cy="380.5" r="2.1"/><circle cx="684.9" cy="381" r="2.1"/><circle cx="579.2" cy="382.9" r="2.1"/><circle cx="581.5" cy="383.9" r="2.1"/><circle cx="585.8" cy="382.3" r="2.1"/><circle cx="588.7" cy="384.1" r="2.1"/><circle cx="592.1" cy="384.2" r="2.1"/><circle cx="593.6" cy="383.5" r="2.1"/><circle cx="596.1" cy="382.6" r="2.1"/><circle cx="599.2" cy="382.7" r="2.1"/><circle cx="601.6" cy="382.7" r="2.1"/><circle cx="607.2" cy="382.3" r="2.1"/><circle cx="610.4" cy="383" r="2.1"/><circle cx="612.7" cy="383" r="2.1"/><circle cx="621" cy="383.4" r="2.1"/><circle cx="625.1" cy="382.9" r="2.1"/><circle cx="628.3" cy="382.4" r="2.1"/><circle cx="631.3" cy="383.2" r="2.1"/><circle cx="633.2" cy="383.5" r="2.1"/><circle cx="635.1" cy="383.9" r="2.1"/><circle cx="638" cy="383.1" r="2.1"/><circle cx="640.9" cy="383.2" r="2.1"/><circle cx="646.6" cy="382.3" r="2.1"/><circle cx="649.6" cy="384.2" r="2.1"/><circle cx="651.2" cy="383.3" r="2.1"/><circle cx="654.2" cy="383.5" r="2.1"/><circle cx="656.2" cy="383.7" r="2.1"/><circle cx="658.2" cy="382.5" r="2.1"/><circle cx="661" cy="382.9" r="2.1"/><circle cx="664.3" cy="383.6" r="2.1"/><circle cx="670.4" cy="382.4" r="2.1"/><circle cx="672.7" cy="383.5" r="2.1"/><circle cx="675.5" cy="382.8" r="2.1"/><circle cx="677.7" cy="382.4" r="2.1"/><circle cx="680.6" cy="383.3" r="2.1"/><circle cx="682" cy="383.4" r="2.1"/><circle cx="685.4" cy="382.4" r="2.1"/><circle cx="575" cy="385.5" r="2.1"/><circle cx="577.7" cy="385.8" r="2.1"/><circle cx="587.3" cy="385.3" r="2.1"/><circle cx="588.7" cy="385" r="2.1"/><circle cx="596.3" cy="385.8" r="2.1"/><circle cx="599" cy="385.6" r="2.1"/><circle cx="602.2" cy="386.3" r="2.1"/><circle cx="603.9" cy="385.6" r="2.1"/><circle cx="608.1" cy="385.5" r="2.1"/><circle cx="609" cy="385.4" r="2.1"/><circle cx="611.8" cy="386" r="2.1"/><circle cx="615.6" cy="385.4" r="2.1"/><circle cx="618.1" cy="385.5" r="2.1"/><circle cx="620.7" cy="386.2" r="2.1"/><circle cx="621.9" cy="386.4" r="2.1"/><circle cx="625.3" cy="385.4" r="2.1"/><circle cx="627.1" cy="386.3" r="2.1"/><circle cx="630.8" cy="385.8" r="2.1"/><circle cx="632.5" cy="385.1" r="2.1"/><circle cx="636.7" cy="385.8" r="2.1"/><circle cx="638" cy="385.3" r="2.1"/><circle cx="641.6" cy="385.8" r="2.1"/><circle cx="644.1" cy="385.6" r="2.1"/><circle cx="647.1" cy="385.8" r="2.1"/><circle cx="648.4" cy="385.1" r="2.1"/><circle cx="654.4" cy="385.4" r="2.1"/><circle cx="662.3" cy="385.3" r="2.1"/><circle cx="666.1" cy="385.4" r="2.1"/><circle cx="672.6" cy="386.2" r="2.1"/><circle cx="678.2" cy="386.3" r="2.1"/><circle cx="682" cy="386.2" r="2.1"/><circle cx="684.5" cy="385.2" r="2.1"/><circle cx="570.3" cy="388.6" r="2.1"/><circle cx="573.4" cy="389.2" r="2.1"/><circle cx="576.5" cy="388.5" r="2.1"/><circle cx="578.7" cy="388.4" r="2.1"/><circle cx="614.7" cy="387.9" r="2.1"/><circle cx="617.3" cy="388" r="2.1"/><circle cx="633.5" cy="388.4" r="2.1"/><circle cx="638" cy="387.3" r="2.1"/><circle cx="640" cy="387.6" r="2.1"/><circle cx="643.5" cy="387.7" r="2.1"/><circle cx="659.3" cy="387.3" r="2.1"/><circle cx="568.4" cy="391.4" r="2.1"/><circle cx="565.7" cy="392.5" r="2.1"/><circle cx="556.9" cy="398.3" r="2.1"/><circle cx="642" cy="389.6" r="2.1"/><circle cx="646.5" cy="391.3" r="2.1"/><circle cx="648.4" cy="391.5" r="2.1"/><circle cx="652" cy="391.2" r="2.1"/><circle cx="659.5" cy="391.8" r="2.1"/><circle cx="661.4" cy="390.5" r="2.1"/><circle cx="667.8" cy="391.8" r="2.1"/><circle cx="669.7" cy="391.8" r="2.1"/><circle cx="678.5" cy="391.3" r="2.1"/><circle cx="682.9" cy="391.4" r="2.1"/><circle cx="685.8" cy="391.7" r="2.1"/><circle cx="644.8" cy="393.7" r="2.1"/><circle cx="645.9" cy="394.5" r="2.1"/><circle cx="652.2" cy="393.7" r="2.1"/><circle cx="653.6" cy="393.6" r="2.1"/><circle cx="659.7" cy="394.7" r="2.1"/><circle cx="662.3" cy="394.1" r="2.1"/><circle cx="670.2" cy="393.4" r="2.1"/><circle cx="674.1" cy="394.2" r="2.1"/><circle cx="677.1" cy="393.7" r="2.1"/><circle cx="680" cy="394.2" r="2.1"/><circle cx="682.6" cy="393.6" r="2.1"/><circle cx="685.5" cy="394" r="2.1"/><circle cx="641.5" cy="396.5" r="2.1"/><circle cx="649.3" cy="397" r="2.1"/><circle cx="659.4" cy="396.4" r="2.1"/><circle cx="661.5" cy="395.8" r="2.1"/><circle cx="669.6" cy="396.9" r="2.1"/><circle cx="680.2" cy="396.4" r="2.1"/><circle cx="682.7" cy="396.5" r="2.1"/><circle cx="642.3" cy="398.7" r="2.1"/><circle cx="643.1" cy="399.8" r="2.1"/><circle cx="646.5" cy="398.6" r="2.1"/><circle cx="649" cy="398.3" r="2.1"/><circle cx="651.3" cy="398.9" r="2.1"/><circle cx="657.8" cy="399.3" r="2.1"/><circle cx="658.6" cy="398.6" r="2.1"/><circle cx="662.1" cy="398.7" r="2.1"/><circle cx="665" cy="398.8" r="2.1"/><circle cx="670.1" cy="399.5" r="2.1"/><circle cx="674.7" cy="399.3" r="2.1"/><circle cx="681.1" cy="399.7" r="2.1"/><circle cx="681.9" cy="399.9" r="2.1"/><circle cx="639.3" cy="401.6" r="2.1"/><circle cx="647.2" cy="400.7" r="2.1"/><circle cx="652.5" cy="400.8" r="2.1"/><circle cx="657.6" cy="400.8" r="2.1"/><circle cx="659.6" cy="402.5" r="2.1"/><circle cx="661.2" cy="401.6" r="2.1"/><circle cx="667.8" cy="401.8" r="2.1"/><circle cx="673.4" cy="401.3" r="2.1"/><circle cx="678.1" cy="401" r="2.1"/><circle cx="681.9" cy="401.5" r="2.1"/><circle cx="641.8" cy="404.4" r="2.1"/><circle cx="643.6" cy="404.4" r="2.1"/><circle cx="649.7" cy="403.5" r="2.1"/><circle cx="652.5" cy="403.2" r="2.1"/><circle cx="654.5" cy="403.8" r="2.1"/><circle cx="659.1" cy="404.3" r="2.1"/><circle cx="661.3" cy="403.3" r="2.1"/><circle cx="664.9" cy="404.1" r="2.1"/><circle cx="669.4" cy="403.4" r="2.1"/><circle cx="671.7" cy="404.4" r="2.1"/><circle cx="677.2" cy="404.7" r="2.1"/><circle cx="680.4" cy="404.7" r="2.1"/><circle cx="682.1" cy="403.8" r="2.1"/><circle cx="686.2" cy="404.6" r="2.1"/><circle cx="664.9" cy="406.1" r="2.1"/><circle cx="677.7" cy="405.9" r="2.1"/><circle cx="681" cy="406.2" r="2.1"/><circle cx="685.4" cy="406.2" r="2.1"/><circle cx="680.1" cy="409" r="2.1"/><circle cx="683.5" cy="408.8" r="2.1"/><circle cx="685.5" cy="409.8" r="2.1"/><circle cx="677.8" cy="410.7" r="2.1"/><circle cx="683" cy="411.4" r="2.1"/><circle cx="686.1" cy="412.5" r="2.1"/><circle cx="677.6" cy="413.7" r="2.1"/><circle cx="680.4" cy="413.3" r="2.1"/><circle cx="683.4" cy="414.7" r="2.1"/><circle cx="684.7" cy="413.3" r="2.1"/><circle cx="677.1" cy="416" r="2.1"/><circle cx="685.7" cy="415.5" r="2.1"/><circle cx="678" cy="419.6" r="2.1"/><circle cx="679.6" cy="419.7" r="2.1"/><circle cx="682.9" cy="419.2" r="2.1"/><circle cx="685.5" cy="419.5" r="2.1"/><circle cx="678.1" cy="421.4" r="2.1"/><circle cx="682.6" cy="421.2" r="2.1"/><circle cx="652.4" cy="421.9" r="2.1"/><circle cx="644.3" cy="424.7" r="2.1"/><circle cx="648.4" cy="424.5" r="2.1"/><circle cx="651.8" cy="424.3" r="2.1"/><circle cx="654.8" cy="423.5" r="2.1"/><circle cx="647" cy="427.4" r="2.1"/><circle cx="651.7" cy="427.4" r="2.1"/><circle cx="654.1" cy="426.1" r="2.1"/><circle cx="644.2" cy="428.8" r="2.1"/><circle cx="653.2" cy="429" r="2.1"/><circle cx="486.2" cy="407.7" r="2.1"/><circle cx="475.2" cy="409.7" r="2.1"/><circle cx="483" cy="409.8" r="2.1"/><circle cx="487.1" cy="410.2" r="2.1"/><circle cx="468" cy="412.5" r="2.1"/><circle cx="474.7" cy="411.6" r="2.1"/><circle cx="483.6" cy="411.5" r="2.1"/><circle cx="488.3" cy="411.9" r="2.1"/><circle cx="474.5" cy="413.4" r="2.1"/><circle cx="483" cy="414.4" r="2.1"/><circle cx="469" cy="416.7" r="2.1"/><circle cx="472.6" cy="417.2" r="2.1"/><circle cx="475.7" cy="417.5" r="2.1"/><circle cx="477.7" cy="417.2" r="2.1"/><circle cx="469" cy="418.3" r="2.1"/><circle cx="480.4" cy="418.4" r="2.1"/><circle cx="488.8" cy="418.5" r="2.1"/><circle cx="467.5" cy="421.8" r="2.1"/><circle cx="473.1" cy="421.7" r="2.1"/><circle cx="474.8" cy="422.2" r="2.1"/><circle cx="469.6" cy="423.7" r="2.1"/><circle cx="473.1" cy="425" r="2.1"/><circle cx="478.6" cy="424" r="2.1"/><circle cx="479.9" cy="423.9" r="2.1"/><circle cx="470.5" cy="426.9" r="2.1"/><circle cx="478.4" cy="427" r="2.1"/><circle cx="481.2" cy="426.7" r="2.1"/><circle cx="482.6" cy="426.2" r="2.1"/><circle cx="482.3" cy="428.4" r="2.1"/><circle cx="486" cy="429.6" r="2.1"/><circle cx="488.8" cy="428.8" r="2.1"/><circle cx="493.3" cy="407.2" r="2.1"/><circle cx="499.7" cy="407" r="2.1"/><circle cx="495.3" cy="409.6" r="2.1"/><circle cx="499.9" cy="409.6" r="2.1"/><circle cx="503.5" cy="408.9" r="2.1"/><circle cx="500.5" cy="412.3" r="2.1"/><circle cx="503.7" cy="412.3" r="2.1"/><circle cx="500.6" cy="414.6" r="2.1"/><circle cx="493.3" cy="416.1" r="2.1"/><circle cx="498.6" cy="416.3" r="2.1"/><circle cx="492.9" cy="420.1" r="2.1"/><circle cx="496.3" cy="419.1" r="2.1"/><circle cx="501.6" cy="419.5" r="2.1"/><circle cx="504.1" cy="419.4" r="2.1"/><circle cx="494.8" cy="422.2" r="2.1"/><circle cx="498.3" cy="422.3" r="2.1"/><circle cx="504.1" cy="421.1" r="2.1"/><circle cx="496.1" cy="423.5" r="2.1"/><circle cx="495.6" cy="426.5" r="2.1"/><circle cx="495.8" cy="429.8" r="2.1"/><circle cx="500.3" cy="429.2" r="2.1"/><circle cx="512.8" cy="404.8" r="2.1"/><circle cx="515.6" cy="404.9" r="2.1"/><circle cx="519.6" cy="405.1" r="2.1"/><circle cx="522.5" cy="405.3" r="2.1"/><circle cx="525.3" cy="404.9" r="2.1"/><circle cx="512.9" cy="407.3" r="2.1"/><circle cx="521" cy="407.8" r="2.1"/><circle cx="522.4" cy="407.2" r="2.1"/><circle cx="524.3" cy="408" r="2.1"/><circle cx="527.2" cy="407" r="2.1"/><circle cx="511.9" cy="410.4" r="2.1"/><circle cx="514" cy="409" r="2.1"/><circle cx="518" cy="410.6" r="2.1"/><circle cx="520.2" cy="410.5" r="2.1"/><circle cx="522.9" cy="409.4" r="2.1"/><circle cx="528.6" cy="409.9" r="2.1"/><circle cx="509.8" cy="412" r="2.1"/><circle cx="512.7" cy="412.8" r="2.1"/><circle cx="515.7" cy="412.6" r="2.1"/><circle cx="518.1" cy="411.8" r="2.1"/><circle cx="520.8" cy="412.9" r="2.1"/><circle cx="512.6" cy="415.5" r="2.1"/><circle cx="515.7" cy="414.3" r="2.1"/><circle cx="521" cy="415.3" r="2.1"/><circle cx="522.3" cy="414.2" r="2.1"/><circle cx="525.7" cy="413.8" r="2.1"/><circle cx="528.4" cy="415.2" r="2.1"/><circle cx="509.9" cy="416.4" r="2.1"/><circle cx="513.1" cy="416.9" r="2.1"/><circle cx="515.1" cy="418.2" r="2.1"/><circle cx="527.2" cy="416.8" r="2.1"/><circle cx="513.1" cy="420.2" r="2.1"/><circle cx="520.7" cy="419.2" r="2.1"/><circle cx="513.2" cy="422" r="2.1"/><circle cx="515.5" cy="421.3" r="2.1"/><circle cx="516.5" cy="421.7" r="2.1"/><circle cx="520.7" cy="422.8" r="2.1"/><circle cx="522.3" cy="422.3" r="2.1"/><circle cx="526.1" cy="422.5" r="2.1"/><circle cx="528.1" cy="423.2" r="2.1"/><circle cx="510" cy="425.1" r="2.1"/><circle cx="519.6" cy="423.9" r="2.1"/><circle cx="522.2" cy="424.9" r="2.1"/><circle cx="525.1" cy="424.8" r="2.1"/><circle cx="515" cy="427.5" r="2.1"/><circle cx="518.4" cy="426.7" r="2.1"/><circle cx="519.3" cy="427.8" r="2.1"/><circle cx="521.8" cy="426.6" r="2.1"/><circle cx="524.7" cy="426.3" r="2.1"/><circle cx="527.9" cy="428" r="2.1"/><circle cx="516.8" cy="428.9" r="2.1"/><circle cx="522.5" cy="429.6" r="2.1"/><circle cx="527" cy="429.3" r="2.1"/><circle cx="527.5" cy="407.9" r="2.1"/><circle cx="523.1" cy="409.8" r="2.1"/><circle cx="526.9" cy="411" r="2.1"/><circle cx="524" cy="413.7" r="2.1"/><circle cx="526.5" cy="411.9" r="2.1"/><circle cx="522.4" cy="414.5" r="2.1"/><circle cx="525" cy="416" r="2.1"/><circle cx="526.9" cy="416.1" r="2.1"/><circle cx="528.4" cy="414.8" r="2.1"/><circle cx="523.8" cy="417.3" r="2.1"/><circle cx="525.8" cy="416.9" r="2.1"/><circle cx="528.6" cy="417.3" r="2.1"/><circle cx="522.1" cy="419.6" r="2.1"/><circle cx="525.9" cy="420.2" r="2.1"/><circle cx="535.6" cy="400.6" r="2.1"/><circle cx="539.1" cy="399.8" r="2.1"/><circle cx="540.3" cy="400.8" r="2.1"/><circle cx="545.6" cy="399.8" r="2.1"/><circle cx="550.7" cy="400.5" r="2.1"/><circle cx="554.1" cy="400.7" r="2.1"/><circle cx="560.3" cy="400.1" r="2.1"/><circle cx="538.9" cy="402.9" r="2.1"/><circle cx="541.5" cy="401.6" r="2.1"/><circle cx="544" cy="402.2" r="2.1"/><circle cx="548.2" cy="402" r="2.1"/><circle cx="551.6" cy="402.9" r="2.1"/><circle cx="556.9" cy="402.9" r="2.1"/><circle cx="559.4" cy="403.2" r="2.1"/><circle cx="561.4" cy="402.2" r="2.1"/><circle cx="564.7" cy="401.5" r="2.1"/><circle cx="534.1" cy="405.8" r="2.1"/><circle cx="535.5" cy="404.3" r="2.1"/><circle cx="538" cy="405.6" r="2.1"/><circle cx="540.8" cy="404.4" r="2.1"/><circle cx="544.7" cy="404.3" r="2.1"/><circle cx="548.6" cy="405.7" r="2.1"/><circle cx="551.4" cy="405.1" r="2.1"/><circle cx="554.5" cy="403.8" r="2.1"/><circle cx="557.2" cy="404.6" r="2.1"/><circle cx="559.8" cy="404.5" r="2.1"/><circle cx="562.1" cy="405.5" r="2.1"/><circle cx="538" cy="408.3" r="2.1"/><circle cx="544.6" cy="407.3" r="2.1"/><circle cx="547.2" cy="406.6" r="2.1"/><circle cx="548.7" cy="407.2" r="2.1"/><circle cx="551.5" cy="407.1" r="2.1"/><circle cx="553.8" cy="406.9" r="2.1"/><circle cx="556.7" cy="408" r="2.1"/><circle cx="559.7" cy="407" r="2.1"/><circle cx="562.1" cy="406.7" r="2.1"/><circle cx="533.8" cy="409.5" r="2.1"/><circle cx="535.1" cy="409.9" r="2.1"/><circle cx="537.5" cy="409.3" r="2.1"/><circle cx="540.4" cy="410" r="2.1"/><circle cx="544.1" cy="409.3" r="2.1"/><circle cx="547.2" cy="409.3" r="2.1"/><circle cx="548.5" cy="409.2" r="2.1"/><circle cx="551.4" cy="409.9" r="2.1"/><circle cx="553.7" cy="410.6" r="2.1"/><circle cx="557.5" cy="408.9" r="2.1"/><circle cx="558.4" cy="409.5" r="2.1"/><circle cx="562.5" cy="409" r="2.1"/><circle cx="564" cy="409" r="2.1"/><circle cx="535.6" cy="412.7" r="2.1"/><circle cx="539.5" cy="412.6" r="2.1"/><circle cx="541.6" cy="412.9" r="2.1"/><circle cx="543.6" cy="413" r="2.1"/><circle cx="547.1" cy="411.5" r="2.1"/><circle cx="549.7" cy="412" r="2.1"/><circle cx="554.7" cy="412.5" r="2.1"/><circle cx="555.8" cy="413" r="2.1"/><circle cx="560" cy="413" r="2.1"/><circle cx="564.9" cy="411.5" r="2.1"/><circle cx="538" cy="415.6" r="2.1"/><circle cx="542" cy="414.7" r="2.1"/><circle cx="544.2" cy="415.8" r="2.1"/><circle cx="548.3" cy="414.9" r="2.1"/><circle cx="553.5" cy="414.4" r="2.1"/><circle cx="556" cy="413.9" r="2.1"/><circle cx="560.1" cy="414.8" r="2.1"/><circle cx="562.6" cy="415.8" r="2.1"/><circle cx="564.3" cy="415.8" r="2.1"/><circle cx="535.6" cy="418.1" r="2.1"/><circle cx="538" cy="417.6" r="2.1"/><circle cx="541.8" cy="417.6" r="2.1"/><circle cx="543.3" cy="417.8" r="2.1"/><circle cx="546.8" cy="417.5" r="2.1"/><circle cx="549.8" cy="417.9" r="2.1"/><circle cx="552.3" cy="417.6" r="2.1"/><circle cx="553.5" cy="417.5" r="2.1"/><circle cx="556.3" cy="418" r="2.1"/><circle cx="541.8" cy="420.7" r="2.1"/><circle cx="543.4" cy="420.1" r="2.1"/><circle cx="546.9" cy="419.7" r="2.1"/><circle cx="548.6" cy="419.6" r="2.1"/><circle cx="554.3" cy="418.9" r="2.1"/><circle cx="556.6" cy="419.7" r="2.1"/><circle cx="559.8" cy="420.7" r="2.1"/><circle cx="562.6" cy="419.7" r="2.1"/><circle cx="538.7" cy="421.9" r="2.1"/><circle cx="542.8" cy="422.4" r="2.1"/><circle cx="546.8" cy="422.8" r="2.1"/><circle cx="548.6" cy="423.1" r="2.1"/><circle cx="551.9" cy="422.4" r="2.1"/><circle cx="554.9" cy="423.2" r="2.1"/><circle cx="556.2" cy="422.3" r="2.1"/><circle cx="559.3" cy="421.8" r="2.1"/><circle cx="563.9" cy="421.4" r="2.1"/><circle cx="536.7" cy="424.5" r="2.1"/><circle cx="538.6" cy="425.6" r="2.1"/><circle cx="541" cy="424.5" r="2.1"/><circle cx="546.3" cy="423.9" r="2.1"/><circle cx="549.8" cy="425.7" r="2.1"/><circle cx="550.9" cy="424.4" r="2.1"/><circle cx="554.7" cy="424.3" r="2.1"/><circle cx="562.2" cy="424.8" r="2.1"/><circle cx="535.8" cy="426.6" r="2.1"/><circle cx="541.4" cy="426.9" r="2.1"/><circle cx="544.3" cy="427.7" r="2.1"/><circle cx="546.1" cy="427.5" r="2.1"/><circle cx="549.5" cy="428.3" r="2.1"/><circle cx="552" cy="426.8" r="2.1"/><circle cx="553.3" cy="427.1" r="2.1"/><circle cx="556.6" cy="427.9" r="2.1"/><circle cx="559.6" cy="427.8" r="2.1"/><circle cx="564" cy="427.5" r="2.1"/><circle cx="539" cy="429.7" r="2.1"/><circle cx="542" cy="429.3" r="2.1"/><circle cx="547.2" cy="429.6" r="2.1"/><circle cx="549.5" cy="429.7" r="2.1"/><circle cx="550.8" cy="428.9" r="2.1"/><circle cx="554.1" cy="429.9" r="2.1"/><circle cx="558.5" cy="429.3" r="2.1"/><circle cx="564.4" cy="429.1" r="2.1"/><circle cx="462.6" cy="418.2" r="2.1"/><circle cx="463.1" cy="422.6" r="2.1"/><circle cx="459.5" cy="425.7" r="2.1"/><circle cx="465.1" cy="427" r="2.1"/><circle cx="480.6" cy="426" r="2.1"/><circle cx="467.1" cy="426.7" r="2.1"/><circle cx="473.9" cy="426.7" r="2.1"/><circle cx="478" cy="426.8" r="2.1"/><circle cx="459.4" cy="429" r="2.1"/><circle cx="467" cy="430.8" r="2.1"/><circle cx="472.4" cy="429.8" r="2.1"/><circle cx="481.7" cy="429.8" r="2.1"/><circle cx="484" cy="429.2" r="2.1"/><circle cx="459.6" cy="433.3" r="2.1"/><circle cx="471.3" cy="432.5" r="2.1"/><circle cx="473.1" cy="432.5" r="2.1"/><circle cx="478.9" cy="432.1" r="2.1"/><circle cx="480.6" cy="433.3" r="2.1"/><circle cx="460.7" cy="434.4" r="2.1"/><circle cx="469.5" cy="434.5" r="2.1"/><circle cx="474.9" cy="434.6" r="2.1"/><circle cx="473.1" cy="437.4" r="2.1"/><circle cx="481" cy="436.6" r="2.1"/><circle cx="471.3" cy="440.8" r="2.1"/><circle cx="475.4" cy="441" r="2.1"/><circle cx="482.9" cy="439.6" r="2.1"/><circle cx="460" cy="442.4" r="2.1"/><circle cx="469.5" cy="441.6" r="2.1"/><circle cx="475.9" cy="442.7" r="2.1"/><circle cx="476.5" cy="444.4" r="2.1"/><circle cx="481.3" cy="445.3" r="2.1"/><circle cx="466" cy="447.8" r="2.1"/><circle cx="466.9" cy="448.1" r="2.1"/><circle cx="466.2" cy="449.5" r="2.1"/><circle cx="465.7" cy="453.2" r="2.1"/><circle cx="462.5" cy="455.5" r="2.1"/><circle cx="485.5" cy="454.8" r="2.1"/><circle cx="494.5" cy="425.6" r="2.1"/><circle cx="504.5" cy="425.3" r="2.1"/><circle cx="507.2" cy="425.2" r="2.1"/><circle cx="514.9" cy="425.5" r="2.1"/><circle cx="507.3" cy="428" r="2.1"/><circle cx="512.4" cy="427" r="2.1"/><circle cx="492.2" cy="431" r="2.1"/><circle cx="493.5" cy="430.2" r="2.1"/><circle cx="496.8" cy="430.5" r="2.1"/><circle cx="498.6" cy="429.9" r="2.1"/><circle cx="502.1" cy="429.4" r="2.1"/><circle cx="503.8" cy="430.8" r="2.1"/><circle cx="515.3" cy="429.7" r="2.1"/><circle cx="489.8" cy="432.2" r="2.1"/><circle cx="490.8" cy="432.7" r="2.1"/><circle cx="496.8" cy="431.7" r="2.1"/><circle cx="499.2" cy="432.4" r="2.1"/><circle cx="501.7" cy="432.8" r="2.1"/><circle cx="504.1" cy="433.3" r="2.1"/><circle cx="510.4" cy="433.2" r="2.1"/><circle cx="492.5" cy="435.8" r="2.1"/><circle cx="501.6" cy="434.2" r="2.1"/><circle cx="504.1" cy="434.4" r="2.1"/><circle cx="507.7" cy="435" r="2.1"/><circle cx="508.9" cy="435.3" r="2.1"/><circle cx="513.3" cy="435.8" r="2.1"/><circle cx="515.9" cy="434.1" r="2.1"/><circle cx="494.7" cy="437.9" r="2.1"/><circle cx="499.4" cy="437" r="2.1"/><circle cx="510" cy="437.3" r="2.1"/><circle cx="492.3" cy="439.9" r="2.1"/><circle cx="498.7" cy="440.8" r="2.1"/><circle cx="502.6" cy="441" r="2.1"/><circle cx="510.3" cy="440.6" r="2.1"/><circle cx="493.2" cy="441.7" r="2.1"/><circle cx="498.3" cy="442.4" r="2.1"/><circle cx="502" cy="442.8" r="2.1"/><circle cx="504.4" cy="441.8" r="2.1"/><circle cx="510.7" cy="442.7" r="2.1"/><circle cx="491" cy="444.5" r="2.1"/><circle cx="496.3" cy="444.2" r="2.1"/><circle cx="498.4" cy="444.3" r="2.1"/><circle cx="506.5" cy="445.1" r="2.1"/><circle cx="510.4" cy="444.8" r="2.1"/><circle cx="514.7" cy="445.9" r="2.1"/><circle cx="495.8" cy="447.5" r="2.1"/><circle cx="499.3" cy="448" r="2.1"/><circle cx="510.7" cy="447.1" r="2.1"/><circle cx="513.1" cy="447.2" r="2.1"/><circle cx="515.3" cy="447.9" r="2.1"/><circle cx="496.4" cy="449.5" r="2.1"/><circle cx="498.7" cy="449.9" r="2.1"/><circle cx="504" cy="450.7" r="2.1"/><circle cx="512.5" cy="450" r="2.1"/><circle cx="514.7" cy="449.4" r="2.1"/><circle cx="491.4" cy="451.8" r="2.1"/><circle cx="493.6" cy="451.8" r="2.1"/><circle cx="497.6" cy="453.3" r="2.1"/><circle cx="498.7" cy="452.6" r="2.1"/><circle cx="501.2" cy="452.4" r="2.1"/><circle cx="503.9" cy="451.6" r="2.1"/><circle cx="512.9" cy="453.3" r="2.1"/><circle cx="515.6" cy="452.4" r="2.1"/><circle cx="493.2" cy="455.1" r="2.1"/><circle cx="499.6" cy="454.6" r="2.1"/><circle cx="507.6" cy="455.9" r="2.1"/><circle cx="529.1" cy="425.1" r="2.1"/><circle cx="517.2" cy="427.5" r="2.1"/><circle cx="519.7" cy="427.5" r="2.1"/><circle cx="521.3" cy="426.6" r="2.1"/><circle cx="524.9" cy="427.1" r="2.1"/><circle cx="527.1" cy="428.1" r="2.1"/><circle cx="529.6" cy="427.6" r="2.1"/><circle cx="521.6" cy="430.5" r="2.1"/><circle cx="525.3" cy="430.3" r="2.1"/><circle cx="526.5" cy="429.3" r="2.1"/><circle cx="532" cy="429.8" r="2.1"/><circle cx="518.6" cy="432.9" r="2.1"/><circle cx="521.6" cy="431.8" r="2.1"/><circle cx="524.7" cy="433" r="2.1"/><circle cx="530.3" cy="433.5" r="2.1"/><circle cx="523.5" cy="434.9" r="2.1"/><circle cx="527.3" cy="434.7" r="2.1"/><circle cx="529.2" cy="434.3" r="2.1"/><circle cx="531.4" cy="434.1" r="2.1"/><circle cx="526.9" cy="437.5" r="2.1"/><circle cx="528.6" cy="436.8" r="2.1"/><circle cx="532.1" cy="438.4" r="2.1"/><circle cx="516.6" cy="439.1" r="2.1"/><circle cx="519.6" cy="440.5" r="2.1"/><circle cx="524.4" cy="440.8" r="2.1"/><circle cx="531.5" cy="439.9" r="2.1"/><circle cx="521.4" cy="443.1" r="2.1"/><circle cx="517.3" cy="444" r="2.1"/><circle cx="518.2" cy="444.3" r="2.1"/><circle cx="526.4" cy="444.4" r="2.1"/><circle cx="529.4" cy="445" r="2.1"/><circle cx="531.8" cy="446" r="2.1"/><circle cx="519.2" cy="447.6" r="2.1"/><circle cx="524.5" cy="446.6" r="2.1"/><circle cx="529.1" cy="448" r="2.1"/><circle cx="519.3" cy="450.7" r="2.1"/><circle cx="526.3" cy="449.7" r="2.1"/><circle cx="529.5" cy="450.6" r="2.1"/><circle cx="530.1" cy="453.2" r="2.1"/><circle cx="518.3" cy="454.8" r="2.1"/><circle cx="521.8" cy="454.2" r="2.1"/><circle cx="523.9" cy="454.2" r="2.1"/><circle cx="526.2" cy="454.7" r="2.1"/><circle cx="529.6" cy="454.5" r="2.1"/><circle cx="531.3" cy="454" r="2.1"/><circle cx="522.1" cy="457" r="2.1"/><circle cx="524.5" cy="457.2" r="2.1"/><circle cx="535.7" cy="425.2" r="2.1"/><circle cx="539.7" cy="425.2" r="2.1"/><circle cx="547.4" cy="425.1" r="2.1"/><circle cx="555.4" cy="425.8" r="2.1"/><circle cx="558.7" cy="425.7" r="2.1"/><circle cx="561.7" cy="425.9" r="2.1"/><circle cx="533.3" cy="427" r="2.1"/><circle cx="537.1" cy="426.6" r="2.1"/><circle cx="539.2" cy="427.2" r="2.1"/><circle cx="543.5" cy="426.5" r="2.1"/><circle cx="546" cy="426.9" r="2.1"/><circle cx="548.1" cy="427.2" r="2.1"/><circle cx="549.9" cy="426.8" r="2.1"/><circle cx="552.6" cy="427.9" r="2.1"/><circle cx="555.2" cy="428.2" r="2.1"/><circle cx="559" cy="427.7" r="2.1"/><circle cx="560.4" cy="426.8" r="2.1"/><circle cx="564.4" cy="428.1" r="2.1"/><circle cx="533" cy="430.9" r="2.1"/><circle cx="534.8" cy="429.9" r="2.1"/><circle cx="537.2" cy="429.1" r="2.1"/><circle cx="540.3" cy="430.7" r="2.1"/><circle cx="544.4" cy="429.9" r="2.1"/><circle cx="547.4" cy="429.8" r="2.1"/><circle cx="549.9" cy="430.5" r="2.1"/><circle cx="553.2" cy="430" r="2.1"/><circle cx="556.6" cy="430.6" r="2.1"/><circle cx="557.6" cy="429" r="2.1"/><circle cx="561" cy="430.9" r="2.1"/><circle cx="564" cy="431" r="2.1"/><circle cx="535.6" cy="432.4" r="2.1"/><circle cx="536.9" cy="432" r="2.1"/><circle cx="540.3" cy="431.7" r="2.1"/><circle cx="542" cy="432.7" r="2.1"/><circle cx="545.3" cy="433.5" r="2.1"/><circle cx="548.7" cy="431.9" r="2.1"/><circle cx="551.4" cy="431.6" r="2.1"/><circle cx="552.7" cy="432.1" r="2.1"/><circle cx="556.1" cy="433.1" r="2.1"/><circle cx="558.2" cy="433" r="2.1"/><circle cx="561.2" cy="432.9" r="2.1"/><circle cx="563.1" cy="432.4" r="2.1"/><circle cx="532.6" cy="435.2" r="2.1"/><circle cx="535.8" cy="434" r="2.1"/><circle cx="536.7" cy="434.3" r="2.1"/><circle cx="540.7" cy="435.8" r="2.1"/><circle cx="543.2" cy="434.2" r="2.1"/><circle cx="547.2" cy="435.5" r="2.1"/><circle cx="550.3" cy="435.9" r="2.1"/><circle cx="552.5" cy="434.2" r="2.1"/><circle cx="555" cy="435.2" r="2.1"/><circle cx="559.1" cy="434.1" r="2.1"/><circle cx="561" cy="435.3" r="2.1"/><circle cx="562.7" cy="434.4" r="2.1"/><circle cx="534.9" cy="436.5" r="2.1"/><circle cx="536.8" cy="437.5" r="2.1"/><circle cx="539.5" cy="438.1" r="2.1"/><circle cx="542.9" cy="437" r="2.1"/><circle cx="546.2" cy="436.9" r="2.1"/><circle cx="548.4" cy="437.7" r="2.1"/><circle cx="549.9" cy="437.4" r="2.1"/><circle cx="552.5" cy="436.9" r="2.1"/><circle cx="554.8" cy="436.9" r="2.1"/><circle cx="559.2" cy="437.8" r="2.1"/><circle cx="560.5" cy="437.7" r="2.1"/><circle cx="563.1" cy="437.9" r="2.1"/><circle cx="534.7" cy="439.6" r="2.1"/><circle cx="537" cy="440.1" r="2.1"/><circle cx="540.3" cy="440.4" r="2.1"/><circle cx="542.8" cy="439.2" r="2.1"/><circle cx="544.4" cy="439.2" r="2.1"/><circle cx="547.7" cy="440.5" r="2.1"/><circle cx="550.7" cy="439.4" r="2.1"/><circle cx="553.1" cy="440.3" r="2.1"/><circle cx="555.1" cy="440.7" r="2.1"/><circle cx="558.6" cy="440.5" r="2.1"/><circle cx="561.1" cy="440.2" r="2.1"/><circle cx="562.5" cy="439.5" r="2.1"/><circle cx="532.6" cy="442.8" r="2.1"/><circle cx="535.8" cy="442.7" r="2.1"/><circle cx="537.5" cy="441.8" r="2.1"/><circle cx="540.6" cy="443.3" r="2.1"/><circle cx="541.8" cy="442.1" r="2.1"/><circle cx="545.9" cy="442.8" r="2.1"/><circle cx="548.8" cy="442.7" r="2.1"/><circle cx="550.4" cy="442.8" r="2.1"/><circle cx="553.7" cy="443.2" r="2.1"/><circle cx="556.4" cy="441.6" r="2.1"/><circle cx="559.2" cy="442.2" r="2.1"/><circle cx="561" cy="443.3" r="2.1"/><circle cx="563.5" cy="441.9" r="2.1"/><circle cx="532.3" cy="445" r="2.1"/><circle cx="535.8" cy="444.4" r="2.1"/><circle cx="537.7" cy="444.3" r="2.1"/><circle cx="539.1" cy="444.9" r="2.1"/><circle cx="541.9" cy="445" r="2.1"/><circle cx="545.9" cy="444.7" r="2.1"/><circle cx="550.3" cy="445.6" r="2.1"/><circle cx="552.9" cy="444.4" r="2.1"/><circle cx="556.5" cy="445.9" r="2.1"/><circle cx="558.9" cy="444.8" r="2.1"/><circle cx="561.8" cy="444.6" r="2.1"/><circle cx="564.1" cy="444.1" r="2.1"/><circle cx="535.4" cy="448.5" r="2.1"/><circle cx="537.5" cy="447.9" r="2.1"/><circle cx="539.4" cy="447.4" r="2.1"/><circle cx="543.3" cy="448.1" r="2.1"/><circle cx="547.8" cy="447.6" r="2.1"/><circle cx="549.7" cy="447.1" r="2.1"/><circle cx="553.1" cy="447.6" r="2.1"/><circle cx="555.3" cy="448" r="2.1"/><circle cx="558.3" cy="446.6" r="2.1"/><circle cx="560.3" cy="447.9" r="2.1"/><circle cx="562.7" cy="447.6" r="2.1"/><circle cx="534.4" cy="450.9" r="2.1"/><circle cx="537.1" cy="451" r="2.1"/><circle cx="542" cy="449" r="2.1"/><circle cx="545.7" cy="449.5" r="2.1"/><circle cx="551.3" cy="449.7" r="2.1"/><circle cx="552.3" cy="450.5" r="2.1"/><circle cx="556.5" cy="449.1" r="2.1"/><circle cx="557.8" cy="450.5" r="2.1"/><circle cx="561.2" cy="450.4" r="2.1"/><circle cx="563.3" cy="449.3" r="2.1"/><circle cx="534.1" cy="453.4" r="2.1"/><circle cx="537.3" cy="452.3" r="2.1"/><circle cx="539.7" cy="452.9" r="2.1"/><circle cx="543.4" cy="453.3" r="2.1"/><circle cx="545.9" cy="453.1" r="2.1"/><circle cx="547" cy="451.6" r="2.1"/><circle cx="549.7" cy="452.5" r="2.1"/><circle cx="552.5" cy="453" r="2.1"/><circle cx="555.3" cy="452.3" r="2.1"/><circle cx="558.8" cy="452.3" r="2.1"/><circle cx="561.1" cy="453.1" r="2.1"/><circle cx="533.3" cy="454.6" r="2.1"/><circle cx="534.7" cy="455.2" r="2.1"/><circle cx="537.6" cy="455.4" r="2.1"/><circle cx="540.4" cy="454" r="2.1"/><circle cx="543.5" cy="454.8" r="2.1"/><circle cx="544.8" cy="455.8" r="2.1"/><circle cx="548.7" cy="455.1" r="2.1"/><circle cx="550.6" cy="455.2" r="2.1"/><circle cx="553" cy="455.5" r="2.1"/><circle cx="555.6" cy="454.8" r="2.1"/><circle cx="558.9" cy="455.7" r="2.1"/><circle cx="560.3" cy="455.6" r="2.1"/><circle cx="533.2" cy="458.4" r="2.1"/><circle cx="534.5" cy="457.7" r="2.1"/><circle cx="537.8" cy="457.4" r="2.1"/><circle cx="539.6" cy="457.8" r="2.1"/><circle cx="542.9" cy="458.4" r="2.1"/><circle cx="544.6" cy="457.7" r="2.1"/><circle cx="548.3" cy="458.3" r="2.1"/><circle cx="550.5" cy="456.7" r="2.1"/><circle cx="552.2" cy="456.7" r="2.1"/><circle cx="555.2" cy="457.8" r="2.1"/><circle cx="559.2" cy="456.9" r="2.1"/><circle cx="559.9" cy="457.8" r="2.1"/><circle cx="562.9" cy="458.4" r="2.1"/><circle cx="532.4" cy="460.3" r="2.1"/><circle cx="534.9" cy="460.9" r="2.1"/><circle cx="537.2" cy="460.1" r="2.1"/><circle cx="540" cy="459.2" r="2.1"/><circle cx="542.1" cy="459.5" r="2.1"/><circle cx="546.2" cy="459.2" r="2.1"/><circle cx="548.8" cy="460.9" r="2.1"/><circle cx="550.2" cy="459.1" r="2.1"/><circle cx="553.7" cy="460.8" r="2.1"/><circle cx="555.6" cy="459.7" r="2.1"/><circle cx="557.6" cy="460.9" r="2.1"/><circle cx="561.9" cy="460.7" r="2.1"/><circle cx="563.2" cy="460.3" r="2.1"/><circle cx="457.3" cy="462.3" r="2.1"/><circle cx="461.3" cy="461.6" r="2.1"/><circle cx="452.2" cy="463" r="2.1"/><circle cx="462.8" cy="464.5" r="2.1"/><circle cx="454.5" cy="465.5" r="2.1"/><circle cx="458.1" cy="465.9" r="2.1"/><circle cx="460" cy="465.5" r="2.1"/><circle cx="463.9" cy="468.8" r="2.1"/><circle cx="450.1" cy="472.4" r="2.1"/><circle cx="454.6" cy="471.2" r="2.1"/><circle cx="458" cy="471.9" r="2.1"/><circle cx="452.6" cy="474" r="2.1"/><circle cx="451.9" cy="477.3" r="2.1"/><circle cx="457.6" cy="477.1" r="2.1"/><circle cx="455.9" cy="478.5" r="2.1"/><circle cx="469.3" cy="467.2" r="2.1"/><circle cx="474.7" cy="466.9" r="2.1"/><circle cx="481.3" cy="466.7" r="2.1"/><circle cx="470.1" cy="469.1" r="2.1"/><circle cx="472.6" cy="467.9" r="2.1"/><circle cx="474.8" cy="469.1" r="2.1"/><circle cx="477.1" cy="469.5" r="2.1"/><circle cx="471.3" cy="474.5" r="2.1"/><circle cx="469.8" cy="475.6" r="2.1"/><circle cx="473.6" cy="479.2" r="2.1"/><circle cx="482.8" cy="478.2" r="2.1"/><circle cx="493.9" cy="464.5" r="2.1"/><circle cx="530.9" cy="464.7" r="2.1"/><circle cx="533.8" cy="465" r="2.1"/><circle cx="535.3" cy="464.5" r="2.1"/><circle cx="501.7" cy="467.3" r="2.1"/><circle cx="505.4" cy="466" r="2.1"/><circle cx="508.3" cy="467" r="2.1"/><circle cx="512.9" cy="466.2" r="2.1"/><circle cx="520.3" cy="466.2" r="2.1"/><circle cx="530.9" cy="466" r="2.1"/><circle cx="495.2" cy="470.2" r="2.1"/><circle cx="503.2" cy="470.1" r="2.1"/><circle cx="510" cy="469.2" r="2.1"/><circle cx="521.4" cy="469.3" r="2.1"/><circle cx="522.4" cy="468.9" r="2.1"/><circle cx="527.8" cy="469.7" r="2.1"/><circle cx="530.1" cy="470.2" r="2.1"/><circle cx="534" cy="470.1" r="2.1"/><circle cx="496.7" cy="472.4" r="2.1"/><circle cx="504.9" cy="471.4" r="2.1"/><circle cx="506.6" cy="471.3" r="2.1"/><circle cx="523.5" cy="471.2" r="2.1"/><circle cx="532.7" cy="472.5" r="2.1"/><circle cx="495" cy="474.3" r="2.1"/><circle cx="504.6" cy="475.1" r="2.1"/><circle cx="513.5" cy="473.4" r="2.1"/><circle cx="517.2" cy="473.8" r="2.1"/><circle cx="525.1" cy="474.5" r="2.1"/><circle cx="494.9" cy="476.4" r="2.1"/><circle cx="510" cy="476.9" r="2.1"/><circle cx="511.8" cy="477.5" r="2.1"/><circle cx="516.1" cy="477.3" r="2.1"/><circle cx="523.5" cy="477.2" r="2.1"/><circle cx="524.9" cy="476" r="2.1"/><circle cx="528.9" cy="477.6" r="2.1"/><circle cx="492.2" cy="478.7" r="2.1"/><circle cx="495.3" cy="478.5" r="2.1"/><circle cx="497.9" cy="479.2" r="2.1"/><circle cx="498.8" cy="479" r="2.1"/><circle cx="502.1" cy="479.1" r="2.1"/><circle cx="510.7" cy="479.8" r="2.1"/><circle cx="512" cy="480.1" r="2.1"/><circle cx="525.1" cy="478.9" r="2.1"/><circle cx="527.8" cy="479.1" r="2.1"/><circle cx="542.4" cy="465.2" r="2.1"/><circle cx="553.1" cy="467.3" r="2.1"/><circle cx="545.3" cy="469.9" r="2.1"/><circle cx="563.3" cy="468.6" r="2.1"/><circle cx="544.5" cy="472" r="2.1"/><circle cx="546.4" cy="472.7" r="2.1"/><circle cx="550.4" cy="472.6" r="2.1"/><circle cx="559.8" cy="472.4" r="2.1"/><circle cx="534.5" cy="474.8" r="2.1"/><circle cx="539.2" cy="473.9" r="2.1"/><circle cx="550" cy="475.1" r="2.1"/><circle cx="554.4" cy="474.5" r="2.1"/><circle cx="557.9" cy="475" r="2.1"/><circle cx="536.1" cy="477.1" r="2.1"/><circle cx="544" cy="476.7" r="2.1"/><circle cx="555.4" cy="477" r="2.1"/><circle cx="539.7" cy="478.9" r="2.1"/><circle cx="542.9" cy="480" r="2.1"/><circle cx="550" cy="480.3" r="2.1"/><circle cx="552.9" cy="478.9" r="2.1"/><circle cx="556.8" cy="480.2" r="2.1"/><circle cx="559.8" cy="479.4" r="2.1"/><circle cx="537" cy="481.3" r="2.1"/><circle cx="544.9" cy="481.6" r="2.1"/><circle cx="546.9" cy="482.8" r="2.1"/><circle cx="550" cy="482.1" r="2.1"/><circle cx="552.6" cy="482.2" r="2.1"/><circle cx="539.5" cy="484.6" r="2.1"/><circle cx="543" cy="484" r="2.1"/><circle cx="553.2" cy="484.1" r="2.1"/><circle cx="555" cy="485.1" r="2.1"/><circle cx="546.6" cy="486.7" r="2.1"/><circle cx="555.7" cy="486.5" r="2.1"/><circle cx="557.5" cy="486.8" r="2.1"/><circle cx="562.8" cy="487" r="2.1"/><circle cx="537" cy="489.3" r="2.1"/><circle cx="545.4" cy="489.2" r="2.1"/><circle cx="553.1" cy="490" r="2.1"/><circle cx="536" cy="491.8" r="2.1"/><circle cx="545.1" cy="490.9" r="2.1"/><circle cx="546.4" cy="491.9" r="2.1"/><circle cx="549.5" cy="491.5" r="2.1"/><circle cx="557.3" cy="492.9" r="2.1"/><circle cx="559.8" cy="491.6" r="2.1"/><circle cx="563.3" cy="491.7" r="2.1"/><circle cx="451" cy="508.3" r="2.1"/><circle cx="458.4" cy="508.6" r="2.1"/><circle cx="465.7" cy="508" r="2.1"/><circle cx="447.6" cy="510.2" r="2.1"/><circle cx="449.8" cy="509.8" r="2.1"/><circle cx="452.9" cy="510.2" r="2.1"/><circle cx="455.4" cy="510.3" r="2.1"/><circle cx="457.2" cy="509.7" r="2.1"/><circle cx="460.5" cy="511" r="2.1"/><circle cx="462.3" cy="509.5" r="2.1"/><circle cx="465.4" cy="511.2" r="2.1"/><circle cx="468.1" cy="510.3" r="2.1"/><circle cx="447.7" cy="512.5" r="2.1"/><circle cx="450.9" cy="513.3" r="2.1"/><circle cx="452.2" cy="512.4" r="2.1"/><circle cx="455.3" cy="512.5" r="2.1"/><circle cx="457.7" cy="511.9" r="2.1"/><circle cx="460.8" cy="512.2" r="2.1"/><circle cx="462.4" cy="512.2" r="2.1"/><circle cx="466.3" cy="513" r="2.1"/><circle cx="468.8" cy="512.6" r="2.1"/><circle cx="448.2" cy="515.4" r="2.1"/><circle cx="450.3" cy="515.2" r="2.1"/><circle cx="457.1" cy="514.5" r="2.1"/><circle cx="460.6" cy="516.1" r="2.1"/><circle cx="463.4" cy="516" r="2.1"/><circle cx="466.1" cy="515.4" r="2.1"/><circle cx="467.7" cy="514.7" r="2.1"/><circle cx="450.4" cy="517.4" r="2.1"/><circle cx="458" cy="516.8" r="2.1"/><circle cx="460.9" cy="516.9" r="2.1"/><circle cx="463.8" cy="517.5" r="2.1"/><circle cx="466.5" cy="517.8" r="2.1"/><circle cx="447.7" cy="520" r="2.1"/><circle cx="450.1" cy="520.2" r="2.1"/><circle cx="457.6" cy="519.6" r="2.1"/><circle cx="459.8" cy="521.1" r="2.1"/><circle cx="462.7" cy="519.5" r="2.1"/><circle cx="466.5" cy="520.7" r="2.1"/><circle cx="468" cy="520.7" r="2.1"/><circle cx="478.1" cy="507" r="2.1"/><circle cx="474.7" cy="509.7" r="2.1"/><circle cx="477.2" cy="509.9" r="2.1"/><circle cx="481.9" cy="510.1" r="2.1"/><circle cx="479.9" cy="511.1" r="2.1"/><circle cx="475.6" cy="515.1" r="2.1"/><circle cx="473.1" cy="516.6" r="2.1"/><circle cx="474" cy="519" r="2.1"/><circle cx="478.3" cy="519.1" r="2.1"/><circle cx="498.1" cy="504.1" r="2.1"/><circle cx="500.4" cy="506.4" r="2.1"/><circle cx="502.5" cy="506.3" r="2.1"/><circle cx="508.2" cy="505.9" r="2.1"/><circle cx="498.3" cy="508.2" r="2.1"/><circle cx="508.6" cy="511.2" r="2.1"/><circle cx="508" cy="513.5" r="2.1"/><circle cx="487" cy="516.8" r="2.1"/><circle cx="489.8" cy="515.9" r="2.1"/><circle cx="489.7" cy="519.4" r="2.1"/><circle cx="540.8" cy="506.8" r="2.1"/><circle cx="549" cy="506.3" r="2.1"/><circle cx="562.2" cy="506.1" r="2.1"/><circle cx="557.6" cy="512" r="2.1"/><circle cx="561.8" cy="512.1" r="2.1"/><circle cx="543.2" cy="513.1" r="2.1"/><circle cx="553.6" cy="518.9" r="2.1"/><circle cx="438.9" cy="467.1" r="2.1"/><circle cx="441.2" cy="466.8" r="2.1"/><circle cx="434.4" cy="467.9" r="2.1"/><circle cx="440.9" cy="468.6" r="2.1"/><circle cx="442.9" cy="469.8" r="2.1"/><circle cx="435.4" cy="470.4" r="2.1"/><circle cx="438.7" cy="471.2" r="2.1"/><circle cx="441.1" cy="472.3" r="2.1"/><circle cx="433.3" cy="474.6" r="2.1"/><circle cx="437.4" cy="473.4" r="2.1"/><circle cx="441.4" cy="473.3" r="2.1"/><circle cx="443.6" cy="474.8" r="2.1"/><circle cx="433.1" cy="477.2" r="2.1"/><circle cx="435.9" cy="477.1" r="2.1"/><circle cx="437.2" cy="476.3" r="2.1"/><circle cx="441.1" cy="475.4" r="2.1"/><circle cx="526.7" cy="465.3" r="2.1"/><circle cx="523" cy="467.5" r="2.1"/><circle cx="524.3" cy="467" r="2.1"/><circle cx="526.9" cy="467.4" r="2.1"/><circle cx="529.3" cy="467.3" r="2.1"/><circle cx="532.9" cy="466.3" r="2.1"/><circle cx="522.7" cy="468.6" r="2.1"/><circle cx="525.6" cy="468.8" r="2.1"/><circle cx="528.4" cy="469.4" r="2.1"/><circle cx="529.8" cy="469.5" r="2.1"/><circle cx="533.3" cy="469.7" r="2.1"/><circle cx="551.7" cy="425.7" r="2.1"/><circle cx="561" cy="425.2" r="2.1"/><circle cx="563.6" cy="425.3" r="2.1"/><circle cx="566" cy="425.1" r="2.1"/><circle cx="573.3" cy="425.5" r="2.1"/><circle cx="575.2" cy="425.8" r="2.1"/><circle cx="582.1" cy="425.3" r="2.1"/><circle cx="584.5" cy="425.3" r="2.1"/><circle cx="585.8" cy="425.8" r="2.1"/><circle cx="589.6" cy="425.2" r="2.1"/><circle cx="591.8" cy="425.9" r="2.1"/><circle cx="594.2" cy="425.4" r="2.1"/><circle cx="596.6" cy="425.9" r="2.1"/><circle cx="608.8" cy="425.3" r="2.1"/><circle cx="550.8" cy="427.7" r="2.1"/><circle cx="552.5" cy="427.1" r="2.1"/><circle cx="554.2" cy="426.6" r="2.1"/><circle cx="557.9" cy="427.3" r="2.1"/><circle cx="560.6" cy="426.6" r="2.1"/><circle cx="564" cy="427.6" r="2.1"/><circle cx="566.5" cy="427.6" r="2.1"/><circle cx="569.2" cy="427.7" r="2.1"/><circle cx="570.1" cy="426.5" r="2.1"/><circle cx="574.2" cy="427" r="2.1"/><circle cx="575.5" cy="426.6" r="2.1"/><circle cx="578.8" cy="426.9" r="2.1"/><circle cx="581.8" cy="427.2" r="2.1"/><circle cx="584.1" cy="427.3" r="2.1"/><circle cx="585.6" cy="427.7" r="2.1"/><circle cx="589.5" cy="428.4" r="2.1"/><circle cx="592.4" cy="427.2" r="2.1"/><circle cx="594.4" cy="426.9" r="2.1"/><circle cx="596.3" cy="427.3" r="2.1"/><circle cx="599.2" cy="427.4" r="2.1"/><circle cx="602.9" cy="426.9" r="2.1"/><circle cx="603.8" cy="426.6" r="2.1"/><circle cx="607.5" cy="428" r="2.1"/><circle cx="610" cy="428.3" r="2.1"/><circle cx="552.6" cy="429.1" r="2.1"/><circle cx="555" cy="430.8" r="2.1"/><circle cx="557" cy="429.2" r="2.1"/><circle cx="560.2" cy="429" r="2.1"/><circle cx="563.6" cy="430" r="2.1"/><circle cx="566" cy="429.8" r="2.1"/><circle cx="568" cy="430.1" r="2.1"/><circle cx="570.1" cy="430.3" r="2.1"/><circle cx="573.2" cy="430.4" r="2.1"/><circle cx="576.7" cy="429.1" r="2.1"/><circle cx="578.1" cy="429.1" r="2.1"/><circle cx="580.4" cy="431" r="2.1"/><circle cx="583" cy="430" r="2.1"/><circle cx="585.4" cy="429.7" r="2.1"/><circle cx="588.7" cy="430" r="2.1"/><circle cx="591.1" cy="429.5" r="2.1"/><circle cx="593.3" cy="430.1" r="2.1"/><circle cx="596.4" cy="430.4" r="2.1"/><circle cx="598.9" cy="430.7" r="2.1"/><circle cx="602.8" cy="430.5" r="2.1"/><circle cx="605.3" cy="430.5" r="2.1"/><circle cx="607.9" cy="429.6" r="2.1"/><circle cx="608.9" cy="430.1" r="2.1"/><circle cx="553.4" cy="432.5" r="2.1"/><circle cx="555" cy="432.7" r="2.1"/><circle cx="558.2" cy="432.3" r="2.1"/><circle cx="561.3" cy="431.5" r="2.1"/><circle cx="562" cy="432.2" r="2.1"/><circle cx="566.2" cy="432.8" r="2.1"/><circle cx="567.3" cy="432" r="2.1"/><circle cx="570.8" cy="432.6" r="2.1"/><circle cx="573.7" cy="432.9" r="2.1"/><circle cx="575.9" cy="431.8" r="2.1"/><circle cx="577.7" cy="433.3" r="2.1"/><circle cx="580.5" cy="432.2" r="2.1"/><circle cx="584" cy="433.2" r="2.1"/><circle cx="587" cy="433.1" r="2.1"/><circle cx="588.4" cy="433.2" r="2.1"/><circle cx="592" cy="433.2" r="2.1"/><circle cx="593.9" cy="432.8" r="2.1"/><circle cx="596.6" cy="433.2" r="2.1"/><circle cx="600.1" cy="431.6" r="2.1"/><circle cx="601.1" cy="432.3" r="2.1"/><circle cx="603.8" cy="433" r="2.1"/><circle cx="608.1" cy="431.7" r="2.1"/><circle cx="609.7" cy="431.9" r="2.1"/><circle cx="553.4" cy="435.5" r="2.1"/><circle cx="555.3" cy="435.6" r="2.1"/><circle cx="557.4" cy="435.5" r="2.1"/><circle cx="561.2" cy="434.7" r="2.1"/><circle cx="563.8" cy="434.5" r="2.1"/><circle cx="566.3" cy="435.9" r="2.1"/><circle cx="569.1" cy="435.8" r="2.1"/><circle cx="570.1" cy="436" r="2.1"/><circle cx="573.6" cy="435.3" r="2.1"/><circle cx="575.9" cy="434.6" r="2.1"/><circle cx="577.9" cy="434.1" r="2.1"/><circle cx="581.6" cy="434.1" r="2.1"/><circle cx="583.8" cy="434.6" r="2.1"/><circle cx="585.5" cy="434.8" r="2.1"/><circle cx="589.9" cy="434.1" r="2.1"/><circle cx="591.9" cy="435.5" r="2.1"/><circle cx="594.9" cy="435.7" r="2.1"/><circle cx="596.5" cy="435" r="2.1"/><circle cx="599" cy="434.7" r="2.1"/><circle cx="601.8" cy="434.7" r="2.1"/><circle cx="604.8" cy="434.6" r="2.1"/><circle cx="607.5" cy="434.3" r="2.1"/><circle cx="610.4" cy="435.5" r="2.1"/><circle cx="553.3" cy="437.1" r="2.1"/><circle cx="555.9" cy="437.2" r="2.1"/><circle cx="556.9" cy="437.4" r="2.1"/><circle cx="559.9" cy="436.7" r="2.1"/><circle cx="563.4" cy="437.5" r="2.1"/><circle cx="565.7" cy="436.5" r="2.1"/><circle cx="567.8" cy="436.8" r="2.1"/><circle cx="571.8" cy="437.6" r="2.1"/><circle cx="574.3" cy="437.4" r="2.1"/><circle cx="575.1" cy="438" r="2.1"/><circle cx="578.5" cy="437.3" r="2.1"/><circle cx="581.5" cy="437.9" r="2.1"/><circle cx="583.8" cy="436.9" r="2.1"/><circle cx="585.5" cy="437.6" r="2.1"/><circle cx="588.6" cy="438.2" r="2.1"/><circle cx="590.8" cy="437.7" r="2.1"/><circle cx="594.9" cy="437.2" r="2.1"/><circle cx="596.4" cy="436.9" r="2.1"/><circle cx="600.3" cy="438" r="2.1"/><circle cx="601.1" cy="436.6" r="2.1"/><circle cx="604.2" cy="437.3" r="2.1"/><circle cx="607.7" cy="438" r="2.1"/><circle cx="610.5" cy="436.6" r="2.1"/><circle cx="550.2" cy="440.5" r="2.1"/><circle cx="552.4" cy="440.9" r="2.1"/><circle cx="554.5" cy="440.7" r="2.1"/><circle cx="558.6" cy="440.1" r="2.1"/><circle cx="559.7" cy="441" r="2.1"/><circle cx="563.4" cy="439.5" r="2.1"/><circle cx="566" cy="439.8" r="2.1"/><circle cx="568.2" cy="439.4" r="2.1"/><circle cx="570.1" cy="440.3" r="2.1"/><circle cx="573.9" cy="440.2" r="2.1"/><circle cx="575.5" cy="439.2" r="2.1"/><circle cx="579.4" cy="439.7" r="2.1"/><circle cx="581" cy="439.1" r="2.1"/><circle cx="583.4" cy="439.6" r="2.1"/><circle cx="585.7" cy="439.8" r="2.1"/><circle cx="588.9" cy="439.2" r="2.1"/><circle cx="590.9" cy="439.8" r="2.1"/><circle cx="594.8" cy="439.8" r="2.1"/><circle cx="595.9" cy="439.1" r="2.1"/><circle cx="599.9" cy="440" r="2.1"/><circle cx="602.4" cy="439.7" r="2.1"/><circle cx="604.5" cy="440.3" r="2.1"/><circle cx="606.4" cy="439.9" r="2.1"/><circle cx="609.2" cy="439.2" r="2.1"/><circle cx="550.7" cy="443.5" r="2.1"/><circle cx="552.4" cy="443.3" r="2.1"/><circle cx="555.4" cy="442.4" r="2.1"/><circle cx="557.8" cy="441.5" r="2.1"/><circle cx="559.7" cy="442.5" r="2.1"/><circle cx="562.3" cy="442.4" r="2.1"/><circle cx="566" cy="443" r="2.1"/><circle cx="568.2" cy="442.1" r="2.1"/><circle cx="571.2" cy="442.5" r="2.1"/><circle cx="574.1" cy="442.2" r="2.1"/><circle cx="575.9" cy="443.1" r="2.1"/><circle cx="578.5" cy="443.4" r="2.1"/><circle cx="580.5" cy="443.3" r="2.1"/><circle cx="584.4" cy="442.4" r="2.1"/><circle cx="585.8" cy="441.9" r="2.1"/><circle cx="588.2" cy="443" r="2.1"/><circle cx="590.9" cy="441.6" r="2.1"/><circle cx="593.3" cy="442" r="2.1"/><circle cx="596.6" cy="443.2" r="2.1"/><circle cx="599" cy="441.5" r="2.1"/><circle cx="601.5" cy="442.3" r="2.1"/><circle cx="603.7" cy="442.8" r="2.1"/><circle cx="606.2" cy="442.4" r="2.1"/><circle cx="552.2" cy="444.1" r="2.1"/><circle cx="555.4" cy="445.5" r="2.1"/><circle cx="558.3" cy="445.4" r="2.1"/><circle cx="560.4" cy="444.8" r="2.1"/><circle cx="563.3" cy="444.8" r="2.1"/><circle cx="565.3" cy="444.3" r="2.1"/><circle cx="567.7" cy="444.9" r="2.1"/><circle cx="570.6" cy="444.5" r="2.1"/><circle cx="573.1" cy="445.8" r="2.1"/><circle cx="576" cy="445.1" r="2.1"/><circle cx="578.8" cy="445" r="2.1"/><circle cx="580.3" cy="444.8" r="2.1"/><circle cx="582.9" cy="444.1" r="2.1"/><circle cx="586.3" cy="445.3" r="2.1"/><circle cx="589.9" cy="445.4" r="2.1"/><circle cx="591.6" cy="445.6" r="2.1"/><circle cx="594.4" cy="445.5" r="2.1"/><circle cx="597.5" cy="445.3" r="2.1"/><circle cx="598.8" cy="444.7" r="2.1"/><circle cx="601.5" cy="444.6" r="2.1"/><circle cx="552.7" cy="447.6" r="2.1"/><circle cx="555.8" cy="447.4" r="2.1"/><circle cx="558.4" cy="447.4" r="2.1"/><circle cx="560.8" cy="448.4" r="2.1"/><circle cx="562.4" cy="448.1" r="2.1"/><circle cx="566" cy="447.9" r="2.1"/><circle cx="568.7" cy="448.5" r="2.1"/><circle cx="571.2" cy="448.3" r="2.1"/><circle cx="572.8" cy="446.9" r="2.1"/><circle cx="576.6" cy="446.9" r="2.1"/><circle cx="578.6" cy="447" r="2.1"/><circle cx="580.5" cy="447.5" r="2.1"/><circle cx="583.8" cy="448.3" r="2.1"/><circle cx="586.6" cy="446.6" r="2.1"/><circle cx="588.6" cy="448.5" r="2.1"/><circle cx="592.3" cy="448.1" r="2.1"/><circle cx="593.8" cy="446.8" r="2.1"/><circle cx="596" cy="448.3" r="2.1"/><circle cx="599.9" cy="448.2" r="2.1"/><circle cx="602.2" cy="447.7" r="2.1"/><circle cx="550.1" cy="450.7" r="2.1"/><circle cx="552.5" cy="450.2" r="2.1"/><circle cx="554.3" cy="451" r="2.1"/><circle cx="556.9" cy="450" r="2.1"/><circle cx="560.9" cy="450.9" r="2.1"/><circle cx="563.1" cy="449.4" r="2.1"/><circle cx="565.8" cy="450.6" r="2.1"/><circle cx="568" cy="449.5" r="2.1"/><circle cx="571.4" cy="449.4" r="2.1"/><circle cx="573.6" cy="450.5" r="2.1"/><circle cx="576.5" cy="450.9" r="2.1"/><circle cx="579.1" cy="449.1" r="2.1"/><circle cx="581.7" cy="450.3" r="2.1"/><circle cx="583.8" cy="449.8" r="2.1"/><circle cx="587.2" cy="450.6" r="2.1"/><circle cx="590" cy="450.5" r="2.1"/><circle cx="591.6" cy="449.7" r="2.1"/><circle cx="594.5" cy="449.8" r="2.1"/><circle cx="597" cy="450.3" r="2.1"/><circle cx="598.7" cy="449.4" r="2.1"/><circle cx="601.9" cy="449.3" r="2.1"/><circle cx="550.7" cy="451.9" r="2.1"/><circle cx="553.2" cy="453.4" r="2.1"/><circle cx="556" cy="453.1" r="2.1"/><circle cx="558.7" cy="453.2" r="2.1"/><circle cx="559.9" cy="452.7" r="2.1"/><circle cx="563.1" cy="451.5" r="2.1"/><circle cx="565.8" cy="452.5" r="2.1"/><circle cx="567.6" cy="453.2" r="2.1"/><circle cx="570.2" cy="451.5" r="2.1"/><circle cx="573.6" cy="452.3" r="2.1"/><circle cx="576.5" cy="452.5" r="2.1"/><circle cx="578.9" cy="453" r="2.1"/><circle cx="582" cy="452.3" r="2.1"/><circle cx="583.6" cy="453.1" r="2.1"/><circle cx="587" cy="452.2" r="2.1"/><circle cx="589.2" cy="453" r="2.1"/><circle cx="591.1" cy="452.1" r="2.1"/><circle cx="593.3" cy="452.5" r="2.1"/><circle cx="597.7" cy="451.9" r="2.1"/><circle cx="599.6" cy="453.3" r="2.1"/><circle cx="553.2" cy="454.1" r="2.1"/><circle cx="554.6" cy="455.6" r="2.1"/><circle cx="556.9" cy="456" r="2.1"/><circle cx="560.2" cy="455" r="2.1"/><circle cx="562" cy="454.9" r="2.1"/><circle cx="565.3" cy="455" r="2.1"/><circle cx="568.4" cy="454.7" r="2.1"/><circle cx="570.8" cy="454.3" r="2.1"/><circle cx="573.5" cy="454.1" r="2.1"/><circle cx="576.6" cy="456" r="2.1"/><circle cx="579.2" cy="454.1" r="2.1"/><circle cx="580.8" cy="455.1" r="2.1"/><circle cx="583.2" cy="454" r="2.1"/><circle cx="587.2" cy="455.5" r="2.1"/><circle cx="589.7" cy="455.3" r="2.1"/><circle cx="591.4" cy="454.5" r="2.1"/><circle cx="595" cy="454.4" r="2.1"/><circle cx="596.1" cy="454.2" r="2.1"/><circle cx="550.6" cy="457.4" r="2.1"/><circle cx="553.1" cy="457.4" r="2.1"/><circle cx="554.6" cy="456.5" r="2.1"/><circle cx="557.4" cy="457.4" r="2.1"/><circle cx="559.9" cy="458.1" r="2.1"/><circle cx="563.3" cy="457" r="2.1"/><circle cx="566" cy="457.7" r="2.1"/><circle cx="569.1" cy="457.8" r="2.1"/><circle cx="570.7" cy="457.4" r="2.1"/><circle cx="574.2" cy="457.5" r="2.1"/><circle cx="576.7" cy="457.1" r="2.1"/><circle cx="578.2" cy="457.5" r="2.1"/><circle cx="580.6" cy="457.6" r="2.1"/><circle cx="584.1" cy="458.4" r="2.1"/><circle cx="587.3" cy="457.8" r="2.1"/><circle cx="588.7" cy="457.1" r="2.1"/><circle cx="591.5" cy="457.3" r="2.1"/><circle cx="593.5" cy="457.6" r="2.1"/><circle cx="617.2" cy="425.1" r="2.1"/><circle cx="626.2" cy="425.7" r="2.1"/><circle cx="645.5" cy="425.3" r="2.1"/><circle cx="647.7" cy="425.6" r="2.1"/><circle cx="611.9" cy="427.4" r="2.1"/><circle cx="622.4" cy="428" r="2.1"/><circle cx="627.3" cy="428.1" r="2.1"/><circle cx="628.9" cy="426.7" r="2.1"/><circle cx="633.9" cy="427" r="2.1"/><circle cx="645.4" cy="426.5" r="2.1"/><circle cx="653.6" cy="428.2" r="2.1"/><circle cx="616.5" cy="430.9" r="2.1"/><circle cx="622.4" cy="430.5" r="2.1"/><circle cx="624.5" cy="430.1" r="2.1"/><circle cx="634.6" cy="430.7" r="2.1"/><circle cx="636.9" cy="431" r="2.1"/><circle cx="642.9" cy="429.3" r="2.1"/><circle cx="645.8" cy="430.1" r="2.1"/><circle cx="647.9" cy="429.4" r="2.1"/><circle cx="650.9" cy="429.7" r="2.1"/><circle cx="652.8" cy="429.6" r="2.1"/><circle cx="655.6" cy="429.8" r="2.1"/><circle cx="614" cy="433.2" r="2.1"/><circle cx="616.4" cy="431.7" r="2.1"/><circle cx="618.1" cy="431.8" r="2.1"/><circle cx="624.1" cy="431.7" r="2.1"/><circle cx="631.7" cy="432.9" r="2.1"/><circle cx="636.8" cy="432.3" r="2.1"/><circle cx="642.6" cy="432.5" r="2.1"/><circle cx="654.7" cy="433.3" r="2.1"/><circle cx="611.7" cy="434.9" r="2.1"/><circle cx="612.8" cy="434.1" r="2.1"/><circle cx="621.4" cy="434" r="2.1"/><circle cx="632.6" cy="435.2" r="2.1"/><circle cx="640.6" cy="435.8" r="2.1"/><circle cx="643.2" cy="435.5" r="2.1"/><circle cx="647.5" cy="435.7" r="2.1"/><circle cx="650.1" cy="435.7" r="2.1"/><circle cx="658" cy="434.5" r="2.1"/><circle cx="613.4" cy="437.8" r="2.1"/><circle cx="615.8" cy="436.8" r="2.1"/><circle cx="635.1" cy="437.6" r="2.1"/><circle cx="637.7" cy="437" r="2.1"/><circle cx="646.6" cy="436.7" r="2.1"/><circle cx="616.4" cy="439.6" r="2.1"/><circle cx="618" cy="440.4" r="2.1"/><circle cx="629.8" cy="439.5" r="2.1"/><circle cx="631.7" cy="440.4" r="2.1"/><circle cx="640.1" cy="439.6" r="2.1"/><circle cx="641.9" cy="439.8" r="2.1"/><circle cx="611.4" cy="442.2" r="2.1"/><circle cx="626.8" cy="443.2" r="2.1"/><circle cx="628.4" cy="442.7" r="2.1"/><circle cx="641.7" cy="442.8" r="2.1"/><circle cx="615.3" cy="444.7" r="2.1"/><circle cx="624.1" cy="444.2" r="2.1"/><circle cx="627.6" cy="444.4" r="2.1"/><circle cx="628.6" cy="445.1" r="2.1"/><circle cx="635.5" cy="444.4" r="2.1"/><circle cx="616" cy="446.8" r="2.1"/><circle cx="621.7" cy="447.2" r="2.1"/><circle cx="566.4" cy="464" r="2.1"/><circle cx="579.7" cy="464.3" r="2.1"/><circle cx="580.7" cy="463.6" r="2.1"/><circle cx="568.8" cy="465.3" r="2.1"/><circle cx="571.2" cy="466.8" r="2.1"/><circle cx="574.3" cy="466.9" r="2.1"/><circle cx="575.2" cy="466.3" r="2.1"/><circle cx="579" cy="465.6" r="2.1"/><circle cx="580.7" cy="465" r="2.1"/><circle cx="584.3" cy="466.5" r="2.1"/><circle cx="586.4" cy="466.9" r="2.1"/><circle cx="568.8" cy="467.6" r="2.1"/><circle cx="571" cy="467.7" r="2.1"/><circle cx="574.5" cy="467.7" r="2.1"/><circle cx="577" cy="467.7" r="2.1"/><circle cx="578.1" cy="468.5" r="2.1"/><circle cx="582.1" cy="467.9" r="2.1"/><circle cx="583.1" cy="468.9" r="2.1"/><circle cx="586.3" cy="469.3" r="2.1"/><circle cx="566.1" cy="471.1" r="2.1"/><circle cx="568.7" cy="471.3" r="2.1"/><circle cx="570.3" cy="470.1" r="2.1"/><circle cx="573.9" cy="470.6" r="2.1"/><circle cx="576" cy="471.9" r="2.1"/><circle cx="579" cy="470.9" r="2.1"/><circle cx="581.8" cy="470.9" r="2.1"/><circle cx="585" cy="470.6" r="2.1"/><circle cx="586.5" cy="471.5" r="2.1"/><circle cx="568.4" cy="474" r="2.1"/><circle cx="571.7" cy="474.1" r="2.1"/><circle cx="574.5" cy="473.5" r="2.1"/><circle cx="575.5" cy="474" r="2.1"/><circle cx="578.3" cy="473.5" r="2.1"/><circle cx="581.2" cy="473.7" r="2.1"/><circle cx="584" cy="473.4" r="2.1"/><circle cx="585.7" cy="474.4" r="2.1"/><circle cx="568.9" cy="475.6" r="2.1"/><circle cx="570.3" cy="476.9" r="2.1"/><circle cx="572.9" cy="476.5" r="2.1"/><circle cx="575.3" cy="476.1" r="2.1"/><circle cx="579.3" cy="476.7" r="2.1"/><circle cx="582" cy="476.1" r="2.1"/><circle cx="583.2" cy="475.8" r="2.1"/><circle cx="587.1" cy="475.6" r="2.1"/><circle cx="552.3" cy="463.1" r="2.1"/><circle cx="557" cy="463.1" r="2.1"/><circle cx="555.6" cy="464.5" r="2.1"/><circle cx="559.5" cy="464.2" r="2.1"/><circle cx="554.2" cy="466.6" r="2.1"/><circle cx="559.5" cy="468.1" r="2.1"/><circle cx="563.8" cy="466.7" r="2.1"/><circle cx="554.6" cy="470.6" r="2.1"/><circle cx="561" cy="469" r="2.1"/><circle cx="563.9" cy="469.8" r="2.1"/><circle cx="556" cy="472.9" r="2.1"/><circle cx="560.6" cy="472.6" r="2.1"/><circle cx="562.7" cy="472.3" r="2.1"/><circle cx="559.7" cy="474.1" r="2.1"/><circle cx="564" cy="475.3" r="2.1"/><circle cx="550.3" cy="478.1" r="2.1"/><circle cx="552.9" cy="477.2" r="2.1"/><circle cx="555.4" cy="480.7" r="2.1"/><circle cx="560.4" cy="479" r="2.1"/><circle cx="554.3" cy="481.9" r="2.1"/><circle cx="557.6" cy="481.5" r="2.1"/><circle cx="565.5" cy="483" r="2.1"/><circle cx="550.2" cy="485.6" r="2.1"/><circle cx="558.6" cy="485.7" r="2.1"/><circle cx="565.7" cy="485" r="2.1"/><circle cx="589.3" cy="464.8" r="2.1"/><circle cx="598" cy="464.9" r="2.1"/><circle cx="602.6" cy="464" r="2.1"/><circle cx="589.6" cy="466.7" r="2.1"/><circle cx="595.1" cy="467" r="2.1"/><circle cx="600.3" cy="467.3" r="2.1"/><circle cx="605.5" cy="468" r="2.1"/><circle cx="607.8" cy="466.6" r="2.1"/><circle cx="590.1" cy="470" r="2.1"/><circle cx="592.3" cy="470.6" r="2.1"/><circle cx="600.8" cy="469.9" r="2.1"/><circle cx="589.7" cy="471.9" r="2.1"/><circle cx="592.4" cy="471.9" r="2.1"/><circle cx="598" cy="472.5" r="2.1"/><circle cx="608.9" cy="471.9" r="2.1"/><circle cx="597.7" cy="475.9" r="2.1"/><circle cx="590.3" cy="476.9" r="2.1"/><circle cx="597.7" cy="476.7" r="2.1"/><circle cx="591" cy="480.2" r="2.1"/><circle cx="593.3" cy="480.1" r="2.1"/><circle cx="595.9" cy="479.9" r="2.1"/><circle cx="602.6" cy="480.5" r="2.1"/><circle cx="608.1" cy="479" r="2.1"/><circle cx="598.7" cy="482.7" r="2.1"/><circle cx="605.7" cy="483" r="2.1"/><circle cx="608.9" cy="483.1" r="2.1"/><circle cx="593.9" cy="494.5" r="2.1"/><circle cx="602.6" cy="494.4" r="2.1"/><circle cx="552.2" cy="496.5" r="2.1"/><circle cx="580.7" cy="497.3" r="2.1"/><circle cx="597.3" cy="496.3" r="2.1"/><circle cx="598.8" cy="495.6" r="2.1"/><circle cx="555.6" cy="499.8" r="2.1"/><circle cx="572.5" cy="499.4" r="2.1"/><circle cx="584" cy="498" r="2.1"/><circle cx="589.6" cy="499.3" r="2.1"/><circle cx="591" cy="499.2" r="2.1"/><circle cx="594.1" cy="499.2" r="2.1"/><circle cx="597.8" cy="498.7" r="2.1"/><circle cx="601.1" cy="498.4" r="2.1"/><circle cx="552.4" cy="502" r="2.1"/><circle cx="575.9" cy="500.7" r="2.1"/><circle cx="579.3" cy="502.3" r="2.1"/><circle cx="581.8" cy="502.3" r="2.1"/><circle cx="586.2" cy="501.7" r="2.1"/><circle cx="604.3" cy="502.3" r="2.1"/><circle cx="558.7" cy="504.4" r="2.1"/><circle cx="561.2" cy="504.3" r="2.1"/><circle cx="562.4" cy="504.7" r="2.1"/><circle cx="581.5" cy="504.6" r="2.1"/><circle cx="589" cy="504.4" r="2.1"/><circle cx="597.4" cy="504.2" r="2.1"/><circle cx="598.6" cy="504.8" r="2.1"/><circle cx="601.1" cy="503.9" r="2.1"/><circle cx="550.3" cy="506" r="2.1"/><circle cx="552" cy="506.7" r="2.1"/><circle cx="566.2" cy="505.9" r="2.1"/><circle cx="567.3" cy="506.6" r="2.1"/><circle cx="576.4" cy="505.9" r="2.1"/><circle cx="579" cy="506.8" r="2.1"/><circle cx="580.7" cy="506.3" r="2.1"/><circle cx="585.5" cy="507" r="2.1"/><circle cx="597" cy="506.5" r="2.1"/><circle cx="601.4" cy="506.4" r="2.1"/><circle cx="556" cy="508.2" r="2.1"/><circle cx="561.1" cy="508.4" r="2.1"/><circle cx="567.4" cy="507.9" r="2.1"/><circle cx="576.7" cy="508.4" r="2.1"/><circle cx="579.4" cy="508.4" r="2.1"/><circle cx="583.4" cy="508.6" r="2.1"/><circle cx="591.1" cy="509.6" r="2.1"/><circle cx="593.2" cy="507.8" r="2.1"/><circle cx="602.1" cy="509.3" r="2.1"/><circle cx="550.5" cy="510.9" r="2.1"/><circle cx="554.3" cy="512.1" r="2.1"/><circle cx="560.5" cy="512.2" r="2.1"/><circle cx="563.5" cy="511.9" r="2.1"/><circle cx="569.9" cy="511.8" r="2.1"/><circle cx="573.9" cy="511.7" r="2.1"/><circle cx="576.4" cy="510.6" r="2.1"/><circle cx="582.8" cy="511.7" r="2.1"/><circle cx="597.5" cy="510.7" r="2.1"/><circle cx="599.5" cy="510.9" r="2.1"/><circle cx="602.8" cy="510.8" r="2.1"/><circle cx="556.8" cy="513.8" r="2.1"/><circle cx="560.3" cy="514.3" r="2.1"/><circle cx="562.1" cy="513.1" r="2.1"/><circle cx="565.2" cy="513.3" r="2.1"/><circle cx="573.2" cy="512.8" r="2.1"/><circle cx="578.8" cy="513.2" r="2.1"/><circle cx="581.2" cy="513.3" r="2.1"/><circle cx="587" cy="512.8" r="2.1"/><circle cx="591.7" cy="514.3" r="2.1"/><circle cx="594.7" cy="514.3" r="2.1"/><circle cx="557.1" cy="517.2" r="2.1"/><circle cx="565.7" cy="517" r="2.1"/><circle cx="573.7" cy="516.2" r="2.1"/><circle cx="576" cy="516.4" r="2.1"/><circle cx="578.8" cy="515.4" r="2.1"/><circle cx="583.1" cy="515.9" r="2.1"/><circle cx="585.7" cy="516.1" r="2.1"/><circle cx="591.7" cy="517.1" r="2.1"/><circle cx="594.4" cy="515.4" r="2.1"/><circle cx="595.8" cy="516.7" r="2.1"/><circle cx="601.5" cy="516" r="2.1"/><circle cx="605.6" cy="516.3" r="2.1"/><path d="M654.4 342.2H667.2M432.8 490.5H443.6M502.7 490.5H508.6M515.5 490.5H521.5M432.8 501.4H479.1M502.7 501.4H521.5M566.7 490.5H591.4" stroke="#00ff00" stroke-width="4.2" stroke-linecap="round" fill="none"/><circle cx="586" cy="342.9" r="2.1"/><circle cx="590.4" cy="342.9" r="2.1"/><circle cx="600.4" cy="342.9" r="2.1"/><circle cx="614.3" cy="342.9" r="2.1"/><circle cx="632.3" cy="342.9" r="2.1"/><circle cx="634.2" cy="342.9" r="2.1"/><circle cx="646.6" cy="342.9" r="2.1"/><circle cx="657.4" cy="345.1" r="2.1"/><circle cx="596.3" cy="352.5" r="2.1"/><circle cx="643.1" cy="352.5" r="2.1"/><circle cx="647.5" cy="352.5" r="2.1"/><circle cx="653.5" cy="352.5" r="2.1"/><circle cx="657.4" cy="352.5" r="2.1"/><circle cx="661.8" cy="352.5" r="2.1"/><circle cx="669.2" cy="352.5" r="2.1"/><circle cx="573.2" cy="358.9" r="2.1"/><circle cx="615.5" cy="358.9" r="2.1"/><circle cx="621.9" cy="358.9" r="2.1"/><circle cx="629.3" cy="358.9" r="2.1"/><circle cx="657.4" cy="356.9" r="2.1"/><circle cx="657.4" cy="363.4" r="2.1"/><circle cx="669.2" cy="365.3" r="2.1"/><circle cx="620.4" cy="365.3" r="2.1"/><circle cx="626.8" cy="365.3" r="2.1"/><circle cx="628.8" cy="365.3" r="2.1"/><circle cx="634.7" cy="365.3" r="2.1"/><circle cx="636.7" cy="365.3" r="2.1"/><circle cx="642.6" cy="365.3" r="2.1"/><circle cx="647" cy="365.3" r="2.1"/><circle cx="573.2" cy="370.4" r="2.1"/><circle cx="579.6" cy="372.2" r="2.1"/><circle cx="592.9" cy="372.2" r="2.1"/><circle cx="604.2" cy="372.2" r="2.1"/><circle cx="657.4" cy="370.7" r="2.1"/><circle cx="669.2" cy="371.7" r="2.1"/><circle cx="560.8" cy="376.2" r="2.1"/><circle cx="573.2" cy="376.2" r="2.1"/><circle cx="600.2" cy="375.2" r="2.1"/><circle cx="600.2" cy="378.1" r="2.1"/><circle cx="686" cy="380.1" r="2.1"/><circle cx="673.2" cy="385" r="2.1"/><circle cx="677.1" cy="385" r="2.1"/><circle cx="673.2" cy="393.9" r="2.1"/><circle cx="682" cy="393.9" r="2.1"/><circle cx="686.5" cy="421" r="2.1"/><circle cx="501.7" cy="376.2" r="2.1"/><circle cx="514.1" cy="376.2" r="2.1"/><circle cx="517" cy="376.2" r="2.1"/><circle cx="560.7" cy="376.2" r="2.1"/><circle cx="534.8" cy="384.5" r="2.1"/><circle cx="541.6" cy="384.5" r="2.1"/><circle cx="545.1" cy="384.5" r="2.1"/><circle cx="548.1" cy="384.5" r="2.1"/><circle cx="501.7" cy="393.9" r="2.1"/><circle cx="511.1" cy="392.9" r="2.1"/><circle cx="514.1" cy="393.9" r="2.1"/><circle cx="517" cy="393.9" r="2.1"/><circle cx="560.7" cy="393.9" r="2.1"/><circle cx="501.7" cy="401.3" r="2.1"/><circle cx="513.6" cy="401.3" r="2.1"/><circle cx="517" cy="401.3" r="2.1"/><circle cx="534.8" cy="400.8" r="2.1"/><circle cx="544.1" cy="400.8" r="2.1"/><circle cx="547.1" cy="400.8" r="2.1"/><circle cx="441.2" cy="414.8" r="2.1"/><circle cx="439.2" cy="414.8" r="2.1"/><circle cx="521" cy="405.7" r="2.1"/><circle cx="455.4" cy="490.5" r="2.1"/><circle cx="461.4" cy="490.5" r="2.1"/><circle cx="470.2" cy="490.5" r="2.1"/><circle cx="473.2" cy="490.5" r="2.1"/><circle cx="493.9" cy="490.5" r="2.1"/><circle cx="544.1" cy="490.5" r="2.1"/><circle cx="550" cy="490.5" r="2.1"/><circle cx="559.9" cy="490.5" r="2.1"/><circle cx="488.9" cy="501.4" r="2.1"/><circle cx="493.9" cy="501.4" r="2.1"/><circle cx="527.4" cy="501.4" r="2.1"/><circle cx="534.3" cy="501.4" r="2.1"/><circle cx="544.1" cy="501.4" r="2.1"/><circle cx="562.8" cy="501.4" r="2.1"/><circle cx="534.8" cy="487.6" r="2.1"/><circle cx="512.6" cy="495.9" r="2.1"/><circle cx="512.6" cy="502.8" r="2.1"/><circle cx="549" cy="497.9" r="2.1"/><circle cx="521.5" cy="518.6" r="2.1"/><circle cx="527.4" cy="518.6" r="2.1"/><circle cx="440.7" cy="522.5" r="2.1"/><circle cx="455.4" cy="437.8" r="2.1"/><circle cx="463.3" cy="437.8" r="2.1"/><circle cx="596.3" cy="490.5" r="2.1"/><circle cx="603.2" cy="490.5" r="2.1"/><circle cx="559.9" cy="490.5" r="2.1"/><circle cx="639.7" cy="432.9" r="2.1"/><circle cx="639.7" cy="439.3" r="2.1"/><circle cx="647.5" cy="429.9" r="2.1"/><circle cx="653" cy="432.4" r="2.1"/><circle cx="655.4" cy="432.4" r="2.1"/><circle cx="666.3" cy="432.4" r="2.1"/><circle cx="686.5" cy="432.4" r="2.1"/><circle cx="624.9" cy="444.7" r="2.1"/><circle cx="626.8" cy="446.7" r="2.1"/><circle cx="633.3" cy="447.2" r="2.1"/><circle cx="615" cy="448.2" r="2.1"/><circle cx="609.1" cy="451.6" r="2.1"/><circle cx="601.2" cy="454.6" r="2.1"/><circle cx="605.2" cy="453.6" r="2.1"/><circle cx="613.1" cy="454.6" r="2.1"/><circle cx="616" cy="453.6" r="2.1"/><circle cx="612.1" cy="459.5" r="2.1"/><circle cx="629.3" cy="459.5" r="2.1"/><circle cx="629.3" cy="468.1" r="2.1"/><circle cx="682.5" cy="471.3" r="2.1"/><circle cx="682.5" cy="477.2" r="2.1"/><circle cx="617" cy="477.2" r="2.1"/><circle cx="621.9" cy="480.2" r="2.1"/><circle cx="645.1" cy="480.2" r="2.1"/><circle cx="642.1" cy="502.8" r="2.1"/><circle cx="626.4" cy="506.8" r="2.1"/><circle cx="611.1" cy="506.3" r="2.1"/><circle cx="561.8" cy="493" r="2.1"/><circle cx="586" cy="530.9" r="2.1"/><circle cx="590.4" cy="530.9" r="2.1"/><circle cx="600.4" cy="530.9" r="2.1"/><circle cx="614.5" cy="530.9" r="2.1"/><circle cx="621.9" cy="530.9" r="2.1"/><circle cx="625.4" cy="530.9" r="2.1"/><circle cx="634.2" cy="530.9" r="2.1"/><circle cx="658.9" cy="530.9" r="2.1"/><circle cx="589.9" cy="537.8" r="2.1"/><circle cx="598.8" cy="537.8" r="2.1"/><circle cx="626.4" cy="537.8" r="2.1"/></g>
<path d="M418.5 319.6V538.1H696.8" fill="none" stroke="#5a5a5a" stroke-width="1"/>
<line x1="418.5" y1="319.4" x2="418.5" y2="335.6" stroke="#111" stroke-width="1.4"/>
<path d="M418.5 506.9h2.5M458.3 538.1v-3M418.5 475.7h2.5M498 538.1v-3M418.5 444.5h2.5M537.8 538.1v-3M418.5 413.2h2.5M577.5 538.1v-3M418.5 382h2.5M617.3 538.1v-3M418.5 350.8h2.5M657 538.1v-3M418.5 319.6h2.5M696.8 538.1v-3" stroke="#b0b0b0" stroke-width="1"/>
<line x1="418.5" y1="538.1" x2="696.8" y2="319.6" stroke="#000" stroke-width="1.9"/>
<circle cx="583.3" cy="426.5" r="4.9" fill="#ff0000"/>
<g font-size="12" fill="#262626"><text x="418.5" y="555.6" text-anchor="middle">0</text><text x="412.2" y="542.1" text-anchor="end">0</text><text x="458.3" y="555.6" text-anchor="middle">10</text><text x="412.2" y="510.9" text-anchor="end">10</text><text x="498" y="555.6" text-anchor="middle">20</text><text x="412.2" y="479.7" text-anchor="end">20</text><text x="537.8" y="555.6" text-anchor="middle">30</text><text x="412.2" y="448.5" text-anchor="end">30</text><text x="577.5" y="555.6" text-anchor="middle">40</text><text x="412.2" y="417.2" text-anchor="end">40</text><text x="617.3" y="555.6" text-anchor="middle">50</text><text x="412.2" y="386" text-anchor="end">50</text><text x="657" y="555.6" text-anchor="middle">60</text><text x="412.2" y="354.8" text-anchor="end">60</text><text x="696.8" y="555.6" text-anchor="middle">70</text><text x="412.2" y="323.6" text-anchor="end">70</text></g>
<text x="468.6" y="578.6" font-size="17" textLength="178.2" lengthAdjust="spacingAndGlyphs">Iron grade (%) - Domain 3</text>
<text transform="translate(385.6 519.7) rotate(-90)" font-size="17" textLength="177.2" lengthAdjust="spacingAndGlyphs">Iron grade (%) - Domain 2</text>
<text x="699.2" y="523.8" font-size="17" text-anchor="end" textLength="57.2" lengthAdjust="spacingAndGlyphs">ρ = 0.55</text>
<g fill="#00ff00"><circle cx="833.8" cy="351.8" r="2.1"/><circle cx="833.8" cy="379.5" r="2.1"/><circle cx="833.8" cy="396.2" r="2.1"/><circle cx="833.8" cy="399.9" r="2.1"/><circle cx="833.8" cy="407.1" r="2.1"/><circle cx="826.5" cy="425.2" r="2.1"/><circle cx="826.5" cy="429.5" r="2.1"/><circle cx="860.3" cy="410.7" r="2.1"/><circle cx="860.3" cy="420.1" r="2.1"/><circle cx="860.3" cy="422.9" r="2.1"/><circle cx="860.3" cy="425.7" r="2.1"/><circle cx="860.3" cy="437.9" r="2.1"/><circle cx="905.5" cy="413.3" r="2.1"/><circle cx="905.5" cy="419.6" r="2.1"/><circle cx="905.5" cy="422.4" r="2.1"/><circle cx="905.5" cy="425.2" r="2.1"/><circle cx="905.5" cy="431.3" r="2.1"/><circle cx="905.5" cy="434.2" r="2.1"/><circle cx="905.5" cy="436.5" r="2.1"/><circle cx="926" cy="425.2" r="2.1"/><circle cx="926" cy="429" r="2.1"/><circle cx="860.3" cy="438.3" r="2.1"/><circle cx="826.5" cy="452.5" r="2.1"/><circle cx="826.5" cy="487.1" r="2.1"/><circle cx="860.3" cy="516.3" r="2.1"/><circle cx="905.5" cy="431.9" r="2.1"/><circle cx="905.5" cy="434.7" r="2.1"/><circle cx="905.5" cy="440.3" r="2.1"/><circle cx="905.5" cy="444.1" r="2.1"/><circle cx="905.5" cy="447.8" r="2.1"/><circle cx="905.5" cy="451.6" r="2.1"/><circle cx="905.5" cy="454.4" r="2.1"/><circle cx="905.5" cy="464.9" r="2.1"/><circle cx="905.5" cy="474.3" r="2.1"/><circle cx="926" cy="452.5" r="2.1"/><circle cx="946.6" cy="341.4" r="2.1"/><circle cx="985.1" cy="351.8" r="2.1"/><circle cx="998.9" cy="351.8" r="2.1"/><circle cx="994.4" cy="371.3" r="2.1"/><circle cx="985.1" cy="379.5" r="2.1"/><circle cx="994.4" cy="383.3" r="2.1"/><circle cx="994.4" cy="388.9" r="2.1"/><circle cx="985.1" cy="396.4" r="2.1"/><circle cx="946.6" cy="399.9" r="2.1"/><circle cx="946.6" cy="410.5" r="2.1"/><circle cx="956.9" cy="409.3" r="2.1"/><circle cx="946.6" cy="418.2" r="2.1"/><circle cx="994.4" cy="398.5" r="2.1"/><circle cx="994.4" cy="401.3" r="2.1"/><circle cx="994.4" cy="405.1" r="2.1"/><circle cx="994.4" cy="409.8" r="2.1"/><circle cx="994.4" cy="412.6" r="2.1"/><circle cx="994.4" cy="415.4" r="2.1"/><circle cx="994.4" cy="420.1" r="2.1"/><circle cx="994.4" cy="431.2" r="2.1"/><circle cx="947.5" cy="439.4" r="2.1"/><circle cx="947.5" cy="444.1" r="2.1"/><circle cx="994.4" cy="444.1" r="2.1"/><circle cx="995.8" cy="445.5" r="2.1"/><circle cx="994.4" cy="446.9" r="2.1"/><circle cx="994.4" cy="453" r="2.1"/><circle cx="1012.1" cy="438.9" r="2.1"/><circle cx="1020.9" cy="438.9" r="2.1"/><circle cx="1012.1" cy="448.8" r="2.1"/><circle cx="1020.9" cy="448.8" r="2.1"/><circle cx="1012.1" cy="452.5" r="2.1"/><circle cx="1012.1" cy="454.9" r="2.1"/><circle cx="1020.9" cy="452.5" r="2.1"/><circle cx="1020.9" cy="454.9" r="2.1"/><circle cx="1052.1" cy="444.1" r="2.1"/><circle cx="947.5" cy="489.3" r="2.1"/></g>
<path d="M792.5 318.8V537.4H1071.5" fill="none" stroke="#5a5a5a" stroke-width="1"/>
<line x1="792.5" y1="318.8" x2="792.5" y2="336" stroke="#111" stroke-width="1.4"/>
<path d="M792.5 506.2h2.5M832.4 537.4v-3M792.5 474.9h2.5M872.2 537.4v-3M792.5 443.7h2.5M912.1 537.4v-3M792.5 412.5h2.5M951.9 537.4v-3M792.5 381.3h2.5M991.8 537.4v-3M792.5 350h2.5M1031.6 537.4v-3M792.5 318.8h2.5M1071.5 537.4v-3" stroke="#b0b0b0" stroke-width="1"/>
<line x1="792.5" y1="537.4" x2="1071.5" y2="318.8" stroke="#000" stroke-width="1.9"/>
<circle cx="935.3" cy="425.2" r="4.9" fill="#ff0000"/>
<g font-size="12" fill="#262626"><text x="792.5" y="554.9" text-anchor="middle">0</text><text x="786.2" y="541.4" text-anchor="end">0</text><text x="832.4" y="554.9" text-anchor="middle">10</text><text x="786.2" y="510.2" text-anchor="end">10</text><text x="872.2" y="554.9" text-anchor="middle">20</text><text x="786.2" y="478.9" text-anchor="end">20</text><text x="912.1" y="554.9" text-anchor="middle">30</text><text x="786.2" y="447.7" text-anchor="end">30</text><text x="951.9" y="554.9" text-anchor="middle">40</text><text x="786.2" y="416.5" text-anchor="end">40</text><text x="991.8" y="554.9" text-anchor="middle">50</text><text x="786.2" y="385.3" text-anchor="end">50</text><text x="1031.6" y="554.9" text-anchor="middle">60</text><text x="786.2" y="354" text-anchor="end">60</text><text x="1071.5" y="554.9" text-anchor="middle">70</text><text x="786.2" y="322.8" text-anchor="end">70</text></g>
<text x="846.4" y="578.6" font-size="17" textLength="178.2" lengthAdjust="spacingAndGlyphs">Iron grade (%) - Domain 4</text>
<text transform="translate(760.6 515.7) rotate(-90)" font-size="17" textLength="177.2" lengthAdjust="spacingAndGlyphs">Iron grade (%) - Domain 2</text>
<text x="1073" y="525.1" font-size="17" text-anchor="end" textLength="57.2" lengthAdjust="spacingAndGlyphs">ρ = 0.12</text>
<g fill="#00ff00"><circle cx="1269.2" cy="407.9" r="2.1"/><circle cx="1274.4" cy="407.4" r="2.1"/><circle cx="1251.9" cy="410.2" r="2.1"/><circle cx="1255.1" cy="410.1" r="2.1"/><circle cx="1261.3" cy="409" r="2.1"/><circle cx="1267.6" cy="408.7" r="2.1"/><circle cx="1253.1" cy="411.2" r="2.1"/><circle cx="1255.6" cy="411.6" r="2.1"/><circle cx="1260.4" cy="412" r="2.1"/><circle cx="1266.4" cy="412.8" r="2.1"/><circle cx="1273.9" cy="411.3" r="2.1"/><circle cx="1248" cy="414" r="2.1"/><circle cx="1255.7" cy="415" r="2.1"/><circle cx="1258.3" cy="413.8" r="2.1"/><circle cx="1265.8" cy="415.3" r="2.1"/><circle cx="1270.2" cy="414.1" r="2.1"/><circle cx="1249.4" cy="416.5" r="2.1"/><circle cx="1253.2" cy="416.2" r="2.1"/><circle cx="1254.5" cy="418" r="2.1"/><circle cx="1262.8" cy="416.5" r="2.1"/><circle cx="1270.6" cy="416.8" r="2.1"/><circle cx="1255.4" cy="418.8" r="2.1"/><circle cx="1266" cy="420" r="2.1"/><circle cx="1274.2" cy="419.5" r="2.1"/><circle cx="1258.3" cy="422.8" r="2.1"/><circle cx="1261" cy="422.6" r="2.1"/><circle cx="1270.1" cy="421.5" r="2.1"/><circle cx="1252.7" cy="423.9" r="2.1"/><circle cx="1256" cy="423.7" r="2.1"/><circle cx="1270.3" cy="424.2" r="2.1"/><circle cx="1253.5" cy="426.9" r="2.1"/><circle cx="1263.6" cy="427.4" r="2.1"/><circle cx="1249.4" cy="430.2" r="2.1"/><circle cx="1266" cy="429.5" r="2.1"/><circle cx="1268" cy="429.9" r="2.1"/><circle cx="1252.9" cy="431.5" r="2.1"/><circle cx="1257.2" cy="431.7" r="2.1"/><circle cx="1262.6" cy="431.9" r="2.1"/><circle cx="1265.1" cy="432.4" r="2.1"/><circle cx="1249.9" cy="434.8" r="2.1"/><circle cx="1261.5" cy="434.5" r="2.1"/><circle cx="1263" cy="434.2" r="2.1"/><circle cx="1248.3" cy="436.8" r="2.1"/><circle cx="1250" cy="437.7" r="2.1"/><circle cx="1258.1" cy="437.7" r="2.1"/><circle cx="1265.7" cy="436.7" r="2.1"/><circle cx="1271.8" cy="436.2" r="2.1"/><circle cx="1273.7" cy="436.2" r="2.1"/><circle cx="1256.2" cy="438.9" r="2.1"/><circle cx="1258.4" cy="439.3" r="2.1"/><circle cx="1261.5" cy="439.8" r="2.1"/><circle cx="1262.7" cy="440" r="2.1"/><circle cx="1250.4" cy="441.2" r="2.1"/><circle cx="1258.1" cy="442.4" r="2.1"/><circle cx="1261.1" cy="441.2" r="2.1"/><circle cx="1273.9" cy="444.9" r="2.1"/><circle cx="1247.9" cy="447.6" r="2.1"/><circle cx="1250.3" cy="446.8" r="2.1"/><circle cx="1268.9" cy="447" r="2.1"/><circle cx="1271.9" cy="446.1" r="2.1"/><circle cx="1257.9" cy="449.8" r="2.1"/><circle cx="1261.3" cy="449.7" r="2.1"/><circle cx="1265.9" cy="450.5" r="2.1"/><circle cx="1268.4" cy="449.4" r="2.1"/><circle cx="1255.3" cy="452.7" r="2.1"/><circle cx="1263.9" cy="452.5" r="2.1"/><circle cx="1265.2" cy="452.9" r="2.1"/><circle cx="1249.4" cy="453.6" r="2.1"/><circle cx="1262.5" cy="455.1" r="2.1"/><circle cx="1269.2" cy="455.3" r="2.1"/><circle cx="1271.2" cy="455.4" r="2.1"/><circle cx="1274" cy="454.1" r="2.1"/><circle cx="1247.9" cy="457" r="2.1"/><circle cx="1249.7" cy="457.2" r="2.1"/><circle cx="1257" cy="457.2" r="2.1"/><circle cx="1260.2" cy="456.3" r="2.1"/><circle cx="1265.4" cy="456.4" r="2.1"/><circle cx="1267.7" cy="457.4" r="2.1"/><circle cx="1270.1" cy="458.1" r="2.1"/><circle cx="1273.8" cy="456.9" r="2.1"/><circle cx="1248.1" cy="460.1" r="2.1"/><circle cx="1250.8" cy="459.8" r="2.1"/><circle cx="1261.2" cy="458.7" r="2.1"/><circle cx="1263.4" cy="460.3" r="2.1"/><circle cx="1269.2" cy="459.2" r="2.1"/><circle cx="1253.6" cy="462.1" r="2.1"/><circle cx="1257.6" cy="462.7" r="2.1"/><circle cx="1259.7" cy="462.6" r="2.1"/><circle cx="1265" cy="462.4" r="2.1"/><circle cx="1258.7" cy="464.1" r="2.1"/><circle cx="1268.6" cy="464.8" r="2.1"/><circle cx="1271.8" cy="464.9" r="2.1"/><circle cx="1248" cy="466.6" r="2.1"/><circle cx="1254.7" cy="467.8" r="2.1"/><circle cx="1258.5" cy="466.4" r="2.1"/><circle cx="1261.4" cy="467.2" r="2.1"/><circle cx="1264.9" cy="466.9" r="2.1"/><circle cx="1273.2" cy="467.2" r="2.1"/><circle cx="1262.3" cy="469.2" r="2.1"/><circle cx="1252.8" cy="409.7" r="2.1"/><circle cx="1256.3" cy="409.9" r="2.1"/><circle cx="1259.6" cy="410" r="2.1"/><circle cx="1254.2" cy="411.8" r="2.1"/><circle cx="1259.1" cy="411.1" r="2.1"/><circle cx="1262.3" cy="412.7" r="2.1"/><circle cx="1264.1" cy="412.1" r="2.1"/><circle cx="1259.3" cy="414.6" r="2.1"/><circle cx="1263.1" cy="414.4" r="2.1"/><circle cx="1265.1" cy="414.2" r="2.1"/><circle cx="1267.4" cy="414.6" r="2.1"/><circle cx="1254.9" cy="417" r="2.1"/><circle cx="1262.7" cy="415.9" r="2.1"/><circle cx="1264.2" cy="417.5" r="2.1"/><circle cx="1268.2" cy="417.1" r="2.1"/><circle cx="1269.9" cy="416.6" r="2.1"/><circle cx="1272.5" cy="417.1" r="2.1"/><circle cx="1252.2" cy="418.9" r="2.1"/><circle cx="1254.1" cy="419.7" r="2.1"/><circle cx="1257.3" cy="419.1" r="2.1"/><circle cx="1259.6" cy="419.8" r="2.1"/><circle cx="1263.1" cy="418.4" r="2.1"/><circle cx="1266.8" cy="419.9" r="2.1"/><circle cx="1270.3" cy="418.8" r="2.1"/><circle cx="1271.8" cy="420.1" r="2.1"/><circle cx="1255.2" cy="422.1" r="2.1"/><circle cx="1256.4" cy="422.6" r="2.1"/><circle cx="1258.8" cy="422" r="2.1"/><circle cx="1261.6" cy="421.7" r="2.1"/><circle cx="1265.5" cy="421.2" r="2.1"/><circle cx="1267.1" cy="421.6" r="2.1"/><circle cx="1270.7" cy="421.9" r="2.1"/><circle cx="1273.3" cy="421.2" r="2.1"/><circle cx="1251.9" cy="424.6" r="2.1"/><circle cx="1254.2" cy="424" r="2.1"/><circle cx="1263.9" cy="423.7" r="2.1"/><circle cx="1267.1" cy="424.1" r="2.1"/><circle cx="1269.8" cy="424.5" r="2.1"/><circle cx="1272.1" cy="423.4" r="2.1"/><circle cx="1255.1" cy="425.8" r="2.1"/><circle cx="1256.8" cy="426.7" r="2.1"/><circle cx="1259" cy="427.4" r="2.1"/><circle cx="1262.7" cy="427.2" r="2.1"/><circle cx="1264" cy="425.8" r="2.1"/><circle cx="1270.8" cy="426.8" r="2.1"/><circle cx="1272.8" cy="427.7" r="2.1"/><circle cx="1253.8" cy="429.9" r="2.1"/><circle cx="1257.3" cy="429.7" r="2.1"/><circle cx="1259.3" cy="429.9" r="2.1"/><circle cx="1264.8" cy="429.9" r="2.1"/><circle cx="1266.6" cy="429.9" r="2.1"/><circle cx="1273.4" cy="428.9" r="2.1"/><circle cx="1254.3" cy="431.6" r="2.1"/><circle cx="1258" cy="432.3" r="2.1"/><circle cx="1261.4" cy="431.4" r="2.1"/><circle cx="1264.9" cy="432.5" r="2.1"/><circle cx="1267.4" cy="432.2" r="2.1"/><circle cx="1272.4" cy="432.6" r="2.1"/><circle cx="1256.2" cy="433.9" r="2.1"/><circle cx="1270" cy="433.6" r="2.1"/><circle cx="1255.1" cy="437.1" r="2.1"/><circle cx="1260.1" cy="437.3" r="2.1"/><circle cx="1262.7" cy="436" r="2.1"/><circle cx="1268" cy="437.5" r="2.1"/><circle cx="1270.5" cy="437.5" r="2.1"/><circle cx="1272.2" cy="436.2" r="2.1"/><circle cx="1252.3" cy="439.7" r="2.1"/><circle cx="1253.8" cy="438.5" r="2.1"/><circle cx="1257.9" cy="439.5" r="2.1"/><circle cx="1264.7" cy="439.2" r="2.1"/><circle cx="1270.9" cy="439.3" r="2.1"/><circle cx="1252.5" cy="441.4" r="2.1"/><circle cx="1256.3" cy="440.9" r="2.1"/><circle cx="1260.5" cy="442.5" r="2.1"/><circle cx="1262.9" cy="441" r="2.1"/><circle cx="1267" cy="442" r="2.1"/><circle cx="1270.2" cy="441.6" r="2.1"/><circle cx="1272.7" cy="441.8" r="2.1"/><circle cx="1252.5" cy="443.6" r="2.1"/><circle cx="1253.6" cy="444.8" r="2.1"/><circle cx="1256.9" cy="444.5" r="2.1"/><circle cx="1262.5" cy="445.2" r="2.1"/><circle cx="1264.6" cy="444.6" r="2.1"/><circle cx="1266.8" cy="444.6" r="2.1"/><circle cx="1269.1" cy="444.7" r="2.1"/><circle cx="1272" cy="444.5" r="2.1"/><circle cx="1254.9" cy="447.4" r="2.1"/><circle cx="1258.9" cy="446.4" r="2.1"/><circle cx="1262" cy="446.7" r="2.1"/><circle cx="1264.9" cy="446.9" r="2.1"/><circle cx="1268.2" cy="447.6" r="2.1"/><circle cx="1270.7" cy="447.7" r="2.1"/><circle cx="1272.9" cy="447.5" r="2.1"/><circle cx="1252.2" cy="448.9" r="2.1"/><circle cx="1254.4" cy="450.1" r="2.1"/><circle cx="1256.8" cy="449.6" r="2.1"/><circle cx="1260" cy="448.2" r="2.1"/><circle cx="1262.3" cy="448.6" r="2.1"/><circle cx="1267.8" cy="448.3" r="2.1"/><circle cx="1269.4" cy="449.4" r="2.1"/><circle cx="1272.7" cy="449.3" r="2.1"/><circle cx="1252.4" cy="452.6" r="2.1"/><circle cx="1256.8" cy="452.4" r="2.1"/><circle cx="1261.5" cy="452.1" r="2.1"/><circle cx="1265.7" cy="452.5" r="2.1"/><circle cx="1268" cy="451.5" r="2.1"/><circle cx="1270.3" cy="451.8" r="2.1"/><circle cx="1272.6" cy="452" r="2.1"/><circle cx="1256.5" cy="454.1" r="2.1"/><circle cx="1259.9" cy="454.6" r="2.1"/><circle cx="1262.1" cy="454.4" r="2.1"/><circle cx="1265.7" cy="455" r="2.1"/><circle cx="1273.4" cy="454.2" r="2.1"/><circle cx="1252.1" cy="457.3" r="2.1"/><circle cx="1255.4" cy="457.5" r="2.1"/><circle cx="1256.4" cy="456.3" r="2.1"/><circle cx="1260.5" cy="457.6" r="2.1"/><circle cx="1262.5" cy="455.7" r="2.1"/><circle cx="1265.7" cy="457.3" r="2.1"/><circle cx="1267.6" cy="457.5" r="2.1"/><circle cx="1273.5" cy="456.5" r="2.1"/><circle cx="1233.5" cy="437.3" r="2.1"/><circle cx="1240.2" cy="436.3" r="2.1"/><circle cx="1236.5" cy="439.8" r="2.1"/><circle cx="1230.8" cy="442" r="2.1"/><circle cx="1232.6" cy="442.2" r="2.1"/><circle cx="1235.9" cy="441.9" r="2.1"/><circle cx="1232.2" cy="445.6" r="2.1"/><circle cx="1240.2" cy="444.1" r="2.1"/><circle cx="1240.5" cy="446.4" r="2.1"/><circle cx="1233.9" cy="454.2" r="2.1"/><circle cx="1286.4" cy="409.2" r="2.1"/><circle cx="1288.4" cy="408.8" r="2.1"/><circle cx="1291.8" cy="408.4" r="2.1"/><circle cx="1293.4" cy="408.7" r="2.1"/><circle cx="1301.7" cy="407.3" r="2.1"/><circle cx="1269.7" cy="410.7" r="2.1"/><circle cx="1286.2" cy="411.5" r="2.1"/><circle cx="1289.4" cy="410.6" r="2.1"/><circle cx="1290.1" cy="410.4" r="2.1"/><circle cx="1293.5" cy="410.3" r="2.1"/><circle cx="1299.6" cy="411.2" r="2.1"/><circle cx="1302.2" cy="411" r="2.1"/><circle cx="1267.4" cy="413.8" r="2.1"/><circle cx="1275.2" cy="412.8" r="2.1"/><circle cx="1277.9" cy="413.7" r="2.1"/><circle cx="1282.7" cy="412.9" r="2.1"/><circle cx="1285" cy="412.3" r="2.1"/><circle cx="1288.4" cy="413.2" r="2.1"/><circle cx="1295.9" cy="413.7" r="2.1"/><circle cx="1273.7" cy="415.2" r="2.1"/><circle cx="1275.9" cy="415.5" r="2.1"/><circle cx="1277.5" cy="415.4" r="2.1"/><circle cx="1280.9" cy="414.8" r="2.1"/><circle cx="1282.9" cy="416" r="2.1"/><circle cx="1285.7" cy="416.2" r="2.1"/><circle cx="1288.7" cy="416.1" r="2.1"/><circle cx="1296.3" cy="415.6" r="2.1"/><circle cx="1298.1" cy="414.7" r="2.1"/><circle cx="1267.2" cy="418.2" r="2.1"/><circle cx="1270.2" cy="418.4" r="2.1"/><circle cx="1271.9" cy="418.4" r="2.1"/><circle cx="1277.6" cy="418.1" r="2.1"/><circle cx="1283.7" cy="418.1" r="2.1"/><circle cx="1290.5" cy="418.9" r="2.1"/><circle cx="1296.6" cy="418" r="2.1"/><circle cx="1298.3" cy="417.5" r="2.1"/><circle cx="1301.5" cy="417.6" r="2.1"/><circle cx="1267.8" cy="420.6" r="2.1"/><circle cx="1270.9" cy="420.4" r="2.1"/><circle cx="1272.7" cy="421" r="2.1"/><circle cx="1274.6" cy="420.9" r="2.1"/><circle cx="1277.4" cy="421.2" r="2.1"/><circle cx="1280" cy="421.3" r="2.1"/><circle cx="1284.9" cy="419.8" r="2.1"/><circle cx="1288" cy="420.8" r="2.1"/><circle cx="1290.5" cy="420.3" r="2.1"/><circle cx="1292.9" cy="420.6" r="2.1"/><circle cx="1298.5" cy="419.7" r="2.1"/><circle cx="1302.2" cy="419.9" r="2.1"/><circle cx="1268.1" cy="422.7" r="2.1"/><circle cx="1272" cy="423.9" r="2.1"/><circle cx="1275.7" cy="422.4" r="2.1"/><circle cx="1277.2" cy="422.4" r="2.1"/><circle cx="1280" cy="423.4" r="2.1"/><circle cx="1283.6" cy="423.7" r="2.1"/><circle cx="1285.1" cy="422.3" r="2.1"/><circle cx="1287.5" cy="424.1" r="2.1"/><circle cx="1290.8" cy="422.8" r="2.1"/><circle cx="1298.6" cy="423.9" r="2.1"/><circle cx="1266.9" cy="424.7" r="2.1"/><circle cx="1270.1" cy="426.4" r="2.1"/><circle cx="1271.9" cy="424.9" r="2.1"/><circle cx="1276.2" cy="425.5" r="2.1"/><circle cx="1277.8" cy="425.8" r="2.1"/><circle cx="1282.4" cy="425.8" r="2.1"/><circle cx="1291.4" cy="425.9" r="2.1"/><circle cx="1300.6" cy="426.1" r="2.1"/><circle cx="1267.8" cy="427.5" r="2.1"/><circle cx="1270.3" cy="427.6" r="2.1"/><circle cx="1275.7" cy="427.6" r="2.1"/><circle cx="1286.2" cy="427.4" r="2.1"/><circle cx="1288.8" cy="427.6" r="2.1"/><circle cx="1291.5" cy="427.9" r="2.1"/><circle cx="1277.1" cy="431.3" r="2.1"/><circle cx="1280.8" cy="430.8" r="2.1"/><circle cx="1283" cy="431.5" r="2.1"/><circle cx="1286.1" cy="430.3" r="2.1"/><circle cx="1287.8" cy="429.8" r="2.1"/><circle cx="1291.3" cy="430.7" r="2.1"/><circle cx="1294.3" cy="430.1" r="2.1"/><circle cx="1296.2" cy="431" r="2.1"/><circle cx="1299.1" cy="431.1" r="2.1"/><circle cx="1301.1" cy="430.4" r="2.1"/><circle cx="1267.5" cy="433.3" r="2.1"/><circle cx="1273" cy="432.6" r="2.1"/><circle cx="1274.9" cy="434" r="2.1"/><circle cx="1279.6" cy="434.2" r="2.1"/><circle cx="1283.2" cy="432.4" r="2.1"/><circle cx="1292" cy="433.7" r="2.1"/><circle cx="1293.2" cy="432.5" r="2.1"/><circle cx="1296.3" cy="433.9" r="2.1"/><circle cx="1302.3" cy="434" r="2.1"/><circle cx="1265.5" cy="436.4" r="2.1"/><circle cx="1268.5" cy="436.1" r="2.1"/><circle cx="1269.5" cy="435.3" r="2.1"/><circle cx="1272.8" cy="435.2" r="2.1"/><circle cx="1275.7" cy="434.7" r="2.1"/><circle cx="1277.1" cy="436.1" r="2.1"/><circle cx="1281.5" cy="435.9" r="2.1"/><circle cx="1285.2" cy="436.2" r="2.1"/><circle cx="1293" cy="436" r="2.1"/><circle cx="1267.3" cy="438.7" r="2.1"/><circle cx="1270.4" cy="438.8" r="2.1"/><circle cx="1272.9" cy="437.5" r="2.1"/><circle cx="1275.3" cy="437.6" r="2.1"/><circle cx="1278.6" cy="439" r="2.1"/><circle cx="1281.3" cy="438.3" r="2.1"/><circle cx="1283.1" cy="437.4" r="2.1"/><circle cx="1285.7" cy="438.7" r="2.1"/><circle cx="1288.3" cy="439" r="2.1"/><circle cx="1290.5" cy="438.3" r="2.1"/><circle cx="1299.7" cy="437.8" r="2.1"/><circle cx="1301.9" cy="437.6" r="2.1"/><circle cx="1268.1" cy="440.6" r="2.1"/><circle cx="1274.7" cy="441.6" r="2.1"/><circle cx="1283.7" cy="441" r="2.1"/><circle cx="1285" cy="441.2" r="2.1"/><circle cx="1287.6" cy="440.6" r="2.1"/><circle cx="1299.4" cy="440.1" r="2.1"/><circle cx="1267.9" cy="443.6" r="2.1"/><circle cx="1272.2" cy="442.4" r="2.1"/><circle cx="1275.9" cy="443.1" r="2.1"/><circle cx="1278.7" cy="444" r="2.1"/><circle cx="1280.1" cy="444" r="2.1"/><circle cx="1285.4" cy="443.1" r="2.1"/><circle cx="1288.4" cy="442.3" r="2.1"/><circle cx="1290.4" cy="444.1" r="2.1"/><circle cx="1293" cy="443" r="2.1"/><circle cx="1296.6" cy="442.4" r="2.1"/><circle cx="1298.1" cy="443.9" r="2.1"/><circle cx="1274.6" cy="444.7" r="2.1"/><circle cx="1278.3" cy="445.4" r="2.1"/><circle cx="1281.4" cy="445.4" r="2.1"/><circle cx="1288.2" cy="446.7" r="2.1"/><circle cx="1290.5" cy="445.5" r="2.1"/><circle cx="1294.5" cy="445" r="2.1"/><circle cx="1295.2" cy="446.1" r="2.1"/><circle cx="1300.5" cy="445.8" r="2.1"/><circle cx="1273.3" cy="449.1" r="2.1"/><circle cx="1278.7" cy="447.2" r="2.1"/><circle cx="1280.5" cy="447.5" r="2.1"/><circle cx="1282.8" cy="447.2" r="2.1"/><circle cx="1286.5" cy="447.9" r="2.1"/><circle cx="1300.8" cy="447.7" r="2.1"/><circle cx="1270.2" cy="450.4" r="2.1"/><circle cx="1274.9" cy="451.4" r="2.1"/><circle cx="1277.2" cy="450.6" r="2.1"/><circle cx="1280.2" cy="449.9" r="2.1"/><circle cx="1282.9" cy="450.4" r="2.1"/><circle cx="1286.5" cy="450.9" r="2.1"/><circle cx="1288.9" cy="450.6" r="2.1"/><circle cx="1291.4" cy="451.1" r="2.1"/><circle cx="1296.3" cy="451.2" r="2.1"/><circle cx="1299.2" cy="449.8" r="2.1"/><circle cx="1301.3" cy="451.5" r="2.1"/><circle cx="1267.1" cy="452.8" r="2.1"/><circle cx="1271.1" cy="452.2" r="2.1"/><circle cx="1275.5" cy="453.7" r="2.1"/><circle cx="1280.3" cy="452.9" r="2.1"/><circle cx="1283.5" cy="454" r="2.1"/><circle cx="1291.7" cy="452.9" r="2.1"/><circle cx="1292.8" cy="454" r="2.1"/><circle cx="1296.3" cy="452.7" r="2.1"/><circle cx="1301.3" cy="453.9" r="2.1"/><circle cx="1267.4" cy="456" r="2.1"/><circle cx="1269.6" cy="454.8" r="2.1"/><circle cx="1273.2" cy="456.5" r="2.1"/><circle cx="1275.2" cy="454.8" r="2.1"/><circle cx="1278.3" cy="454.8" r="2.1"/><circle cx="1279.8" cy="455.4" r="2.1"/><circle cx="1283.5" cy="455.4" r="2.1"/><circle cx="1285.3" cy="455.4" r="2.1"/><circle cx="1288.8" cy="455.6" r="2.1"/><circle cx="1290.5" cy="456.6" r="2.1"/><circle cx="1295.8" cy="456.5" r="2.1"/><circle cx="1298.5" cy="454.7" r="2.1"/><circle cx="1265.3" cy="457.6" r="2.1"/><circle cx="1269.7" cy="457.4" r="2.1"/><circle cx="1274.8" cy="457.8" r="2.1"/><circle cx="1277.2" cy="458.4" r="2.1"/><circle cx="1279.7" cy="457.3" r="2.1"/><circle cx="1285" cy="457.6" r="2.1"/><circle cx="1287.6" cy="458.1" r="2.1"/><circle cx="1290.4" cy="458.7" r="2.1"/><circle cx="1293.9" cy="458.7" r="2.1"/><circle cx="1298.9" cy="458.2" r="2.1"/><circle cx="1266.9" cy="460.6" r="2.1"/><circle cx="1270.7" cy="461" r="2.1"/><circle cx="1272.6" cy="459.9" r="2.1"/><circle cx="1276.2" cy="459.9" r="2.1"/><circle cx="1277.3" cy="461.3" r="2.1"/><circle cx="1280" cy="459.7" r="2.1"/><circle cx="1283.5" cy="460.3" r="2.1"/><circle cx="1285" cy="460.9" r="2.1"/><circle cx="1288.7" cy="461.4" r="2.1"/><circle cx="1292.7" cy="460.3" r="2.1"/><circle cx="1295.9" cy="460.5" r="2.1"/><circle cx="1297.9" cy="460.9" r="2.1"/><circle cx="1265.1" cy="464.1" r="2.1"/><circle cx="1270" cy="463.3" r="2.1"/><circle cx="1273.2" cy="462.8" r="2.1"/><circle cx="1274.7" cy="462.6" r="2.1"/><circle cx="1277.1" cy="464" r="2.1"/><circle cx="1280.2" cy="462.3" r="2.1"/><circle cx="1290.6" cy="463.8" r="2.1"/><circle cx="1294.3" cy="463.2" r="2.1"/><circle cx="1270.6" cy="465.4" r="2.1"/><circle cx="1275.3" cy="465.2" r="2.1"/><circle cx="1278.3" cy="465.1" r="2.1"/><circle cx="1280.5" cy="464.8" r="2.1"/><circle cx="1286.5" cy="465.1" r="2.1"/><circle cx="1291.9" cy="465.8" r="2.1"/><circle cx="1293.7" cy="465.6" r="2.1"/><circle cx="1302.2" cy="465.7" r="2.1"/><circle cx="1272.3" cy="467.4" r="2.1"/><circle cx="1275.4" cy="467.9" r="2.1"/><circle cx="1277.3" cy="467.3" r="2.1"/><circle cx="1283.1" cy="469.1" r="2.1"/><circle cx="1285.3" cy="467.6" r="2.1"/><circle cx="1288.4" cy="468.3" r="2.1"/><circle cx="1290.7" cy="468.3" r="2.1"/><circle cx="1293.9" cy="467.3" r="2.1"/><circle cx="1296.3" cy="469" r="2.1"/><circle cx="1298.5" cy="468.9" r="2.1"/><circle cx="1300.7" cy="467.9" r="2.1"/><circle cx="1278.3" cy="470.3" r="2.1"/><circle cx="1279.9" cy="470.8" r="2.1"/><circle cx="1283" cy="470.4" r="2.1"/><circle cx="1285.1" cy="471.4" r="2.1"/><circle cx="1288.3" cy="471.1" r="2.1"/><circle cx="1290.8" cy="471.5" r="2.1"/><circle cx="1292.9" cy="469.9" r="2.1"/><circle cx="1295.9" cy="471.1" r="2.1"/><circle cx="1299.6" cy="470.4" r="2.1"/><circle cx="1285.9" cy="474.1" r="2.1"/><circle cx="1288.4" cy="473.3" r="2.1"/><circle cx="1291.1" cy="473.7" r="2.1"/><circle cx="1293.9" cy="472.2" r="2.1"/><circle cx="1296.4" cy="472.8" r="2.1"/><circle cx="1299.1" cy="473.8" r="2.1"/><circle cx="1300.7" cy="473.6" r="2.1"/><circle cx="1283" cy="474.9" r="2.1"/><circle cx="1286.7" cy="476.5" r="2.1"/><circle cx="1288.1" cy="475.1" r="2.1"/><circle cx="1292.7" cy="475.4" r="2.1"/><circle cx="1296.3" cy="476.2" r="2.1"/><circle cx="1299.7" cy="475.9" r="2.1"/><circle cx="1301.9" cy="474.9" r="2.1"/><circle cx="1286.4" cy="478.4" r="2.1"/><circle cx="1293.3" cy="477.3" r="2.1"/><circle cx="1300.7" cy="478.5" r="2.1"/><polygon points="1303.5,405.7 1310.5,406.4 1321.2,400.7 1336.1,400 1336.1,480 1303.5,480" stroke="#00ff00" stroke-width="4.2" stroke-linejoin="round"/><circle cx="1338.2" cy="402.6" r="2.1"/><circle cx="1339.2" cy="407.8" r="2.1"/><circle cx="1341" cy="406.7" r="2.1"/><circle cx="1336.7" cy="409.3" r="2.1"/><circle cx="1338.6" cy="410.2" r="2.1"/><circle cx="1340.5" cy="410" r="2.1"/><circle cx="1343" cy="410.6" r="2.1"/><circle cx="1340.4" cy="413.3" r="2.1"/><circle cx="1343.5" cy="414" r="2.1"/><circle cx="1338.4" cy="416.5" r="2.1"/><circle cx="1340.8" cy="416.6" r="2.1"/><circle cx="1343.9" cy="417.1" r="2.1"/><circle cx="1336.6" cy="419.8" r="2.1"/><circle cx="1338.4" cy="419.5" r="2.1"/><circle cx="1344.1" cy="419.9" r="2.1"/><circle cx="1340.8" cy="422.5" r="2.1"/><circle cx="1336.3" cy="427.1" r="2.1"/><circle cx="1339.6" cy="433.1" r="2.1"/><circle cx="1343.8" cy="432.8" r="2.1"/><circle cx="1340.8" cy="435.1" r="2.1"/><circle cx="1337.7" cy="437.2" r="2.1"/><circle cx="1336.3" cy="443.4" r="2.1"/><circle cx="1336.3" cy="444.2" r="2.1"/><circle cx="1338.2" cy="445.5" r="2.1"/><circle cx="1341.6" cy="450.5" r="2.1"/><circle cx="1342.9" cy="449.3" r="2.1"/><circle cx="1338.1" cy="455.4" r="2.1"/><circle cx="1338.4" cy="460.9" r="2.1"/><circle cx="1341.9" cy="460.6" r="2.1"/><circle cx="1344" cy="459.5" r="2.1"/><circle cx="1338" cy="462.9" r="2.1"/><circle cx="1341.7" cy="461.8" r="2.1"/><circle cx="1336.8" cy="464" r="2.1"/><circle cx="1343" cy="465" r="2.1"/><circle cx="1343.2" cy="469.7" r="2.1"/><circle cx="1336.4" cy="471.5" r="2.1"/><circle cx="1341" cy="471.5" r="2.1"/><circle cx="1336.6" cy="477.3" r="2.1"/><circle cx="1339" cy="478.2" r="2.1"/><circle cx="1336.8" cy="479.1" r="2.1"/><polygon points="1305.8,470 1327.4,470 1327.4,480.3 1305.8,480.3" stroke="#00ff00" stroke-width="4.2" stroke-linejoin="round"/><circle cx="1284.9" cy="470.6" r="2.1"/><circle cx="1299.8" cy="470.2" r="2.1"/><circle cx="1303.4" cy="470.7" r="2.1"/><circle cx="1310.6" cy="470.1" r="2.1"/><circle cx="1317.6" cy="471" r="2.1"/><circle cx="1329.3" cy="470.4" r="2.1"/><circle cx="1284.7" cy="471.9" r="2.1"/><circle cx="1286.9" cy="471.9" r="2.1"/><circle cx="1290.5" cy="473.3" r="2.1"/><circle cx="1292.1" cy="472.7" r="2.1"/><circle cx="1294.7" cy="471.6" r="2.1"/><circle cx="1300.9" cy="472.8" r="2.1"/><circle cx="1303.2" cy="473" r="2.1"/><circle cx="1305" cy="472" r="2.1"/><circle cx="1309.7" cy="472" r="2.1"/><circle cx="1312.1" cy="473.4" r="2.1"/><circle cx="1321.5" cy="472.9" r="2.1"/><circle cx="1323.1" cy="472.1" r="2.1"/><circle cx="1330.3" cy="472.6" r="2.1"/><circle cx="1334.2" cy="471.7" r="2.1"/><circle cx="1336.8" cy="473.1" r="2.1"/><circle cx="1343.5" cy="473.5" r="2.1"/><circle cx="1287.1" cy="475.8" r="2.1"/><circle cx="1288.9" cy="474.6" r="2.1"/><circle cx="1292.3" cy="474.6" r="2.1"/><circle cx="1294.3" cy="474.3" r="2.1"/><circle cx="1297" cy="474.6" r="2.1"/><circle cx="1303.1" cy="475.4" r="2.1"/><circle cx="1306.2" cy="474.1" r="2.1"/><circle cx="1310.1" cy="474.7" r="2.1"/><circle cx="1316.2" cy="474.3" r="2.1"/><circle cx="1318.7" cy="475.5" r="2.1"/><circle cx="1323.3" cy="474.5" r="2.1"/><circle cx="1326.8" cy="475.9" r="2.1"/><circle cx="1329.5" cy="474.1" r="2.1"/><circle cx="1331.9" cy="475.3" r="2.1"/><circle cx="1336.9" cy="474.2" r="2.1"/><circle cx="1338.8" cy="475.8" r="2.1"/><circle cx="1342" cy="474.6" r="2.1"/><circle cx="1282.2" cy="478.3" r="2.1"/><circle cx="1284.1" cy="477.2" r="2.1"/><circle cx="1289.2" cy="476.5" r="2.1"/><circle cx="1294.9" cy="477.8" r="2.1"/><circle cx="1297.2" cy="478.3" r="2.1"/><circle cx="1300" cy="477.5" r="2.1"/><circle cx="1312.4" cy="478.1" r="2.1"/><circle cx="1315.3" cy="477.4" r="2.1"/><circle cx="1318.5" cy="478.1" r="2.1"/><circle cx="1332.1" cy="476.6" r="2.1"/><circle cx="1334.6" cy="478.5" r="2.1"/><circle cx="1338.6" cy="478.3" r="2.1"/><path d="M1249 465.4H1263.2M1301.2 487.1H1327.4M1316 509.3H1332.6" stroke="#00ff00" stroke-width="4.2" stroke-linecap="round" fill="none"/><circle cx="1191.4" cy="422" r="2.1"/><circle cx="1191.4" cy="426.5" r="2.1"/><circle cx="1191.4" cy="431" r="2.1"/><circle cx="1191.4" cy="435.5" r="2.1"/><circle cx="1191.4" cy="441.9" r="2.1"/><circle cx="1191.4" cy="449.7" r="2.1"/><circle cx="1191.4" cy="454.7" r="2.1"/><circle cx="1191.4" cy="459.7" r="2.1"/><circle cx="1199.9" cy="425.6" r="2.1"/><circle cx="1199.9" cy="435.9" r="2.1"/><circle cx="1201.7" cy="422" r="2.1"/><circle cx="1201.7" cy="425.7" r="2.1"/><circle cx="1201.7" cy="429.5" r="2.1"/><circle cx="1201.7" cy="433.2" r="2.1"/><circle cx="1201.7" cy="436.9" r="2.1"/><circle cx="1201.7" cy="440.5" r="2.1"/><circle cx="1201.7" cy="444.8" r="2.1"/><circle cx="1201.7" cy="449" r="2.1"/><circle cx="1201.7" cy="453.3" r="2.1"/><circle cx="1201.7" cy="457.6" r="2.1"/><circle cx="1201.7" cy="461.8" r="2.1"/><circle cx="1201.7" cy="466.1" r="2.1"/><circle cx="1206.3" cy="419.2" r="2.1"/><circle cx="1206.3" cy="423.2" r="2.1"/><circle cx="1206.3" cy="427.2" r="2.1"/><circle cx="1206.3" cy="431.3" r="2.1"/><circle cx="1206.3" cy="435.3" r="2.1"/><circle cx="1206.3" cy="439.3" r="2.1"/><circle cx="1206.3" cy="443.3" r="2.1"/><circle cx="1209.9" cy="408.5" r="2.1"/><circle cx="1209.9" cy="412.7" r="2.1"/><circle cx="1209.9" cy="416.8" r="2.1"/><circle cx="1209.9" cy="420.9" r="2.1"/><circle cx="1209.9" cy="425.1" r="2.1"/><circle cx="1209.9" cy="429.2" r="2.1"/><circle cx="1209.9" cy="433.4" r="2.1"/><circle cx="1216.3" cy="416.3" r="2.1"/><circle cx="1216.3" cy="420.5" r="2.1"/><circle cx="1216.3" cy="424.6" r="2.1"/><circle cx="1216.3" cy="428.8" r="2.1"/><circle cx="1216.3" cy="432.9" r="2.1"/><circle cx="1216.3" cy="437.1" r="2.1"/><circle cx="1216.3" cy="441.2" r="2.1"/><circle cx="1222" cy="418.5" r="2.1"/><circle cx="1222" cy="422.4" r="2.1"/><circle cx="1222" cy="426.4" r="2.1"/><circle cx="1222" cy="430.4" r="2.1"/><circle cx="1222" cy="434.3" r="2.1"/><circle cx="1222" cy="438.3" r="2.1"/><circle cx="1222" cy="442.3" r="2.1"/><circle cx="1222" cy="446.2" r="2.1"/><circle cx="1222" cy="450.2" r="2.1"/><circle cx="1222" cy="454.2" r="2.1"/><circle cx="1222" cy="458.2" r="2.1"/><circle cx="1222" cy="462.1" r="2.1"/><circle cx="1222" cy="466.1" r="2.1"/><circle cx="1224.8" cy="425.6" r="2.1"/><circle cx="1224.8" cy="432" r="2.1"/><circle cx="1224.8" cy="438.4" r="2.1"/><circle cx="1224.8" cy="444.8" r="2.1"/><circle cx="1224.8" cy="450.5" r="2.1"/><circle cx="1227.7" cy="418.5" r="2.1"/><circle cx="1227.7" cy="422.4" r="2.1"/><circle cx="1227.7" cy="426.4" r="2.1"/><circle cx="1227.7" cy="430.3" r="2.1"/><circle cx="1227.7" cy="434.3" r="2.1"/><circle cx="1227.7" cy="438.2" r="2.1"/><circle cx="1227.7" cy="442.2" r="2.1"/><circle cx="1227.7" cy="446.1" r="2.1"/><circle cx="1227.7" cy="450.1" r="2.1"/><circle cx="1227.7" cy="454" r="2.1"/><circle cx="1227.7" cy="459" r="2.1"/><circle cx="1227.7" cy="462.2" r="2.1"/><circle cx="1227.7" cy="465.4" r="2.1"/><circle cx="1233.3" cy="419.2" r="2.1"/><circle cx="1233.3" cy="423.2" r="2.1"/><circle cx="1233.3" cy="427.2" r="2.1"/><circle cx="1233.3" cy="431.3" r="2.1"/><circle cx="1233.3" cy="435.3" r="2.1"/><circle cx="1233.3" cy="439.3" r="2.1"/><circle cx="1233.3" cy="443.3" r="2.1"/><circle cx="1233.3" cy="447.4" r="2.1"/><circle cx="1233.3" cy="451.4" r="2.1"/><circle cx="1233.3" cy="455.4" r="2.1"/><circle cx="1233.3" cy="459" r="2.1"/><circle cx="1233.3" cy="462.2" r="2.1"/><circle cx="1233.3" cy="465.4" r="2.1"/><circle cx="1239" cy="419.2" r="2.1"/><circle cx="1239" cy="423.2" r="2.1"/><circle cx="1239" cy="427.2" r="2.1"/><circle cx="1239" cy="431.3" r="2.1"/><circle cx="1239" cy="435.3" r="2.1"/><circle cx="1239" cy="439.3" r="2.1"/><circle cx="1239" cy="443.3" r="2.1"/><circle cx="1239" cy="447.4" r="2.1"/><circle cx="1239" cy="451.4" r="2.1"/><circle cx="1239" cy="455.4" r="2.1"/><circle cx="1239" cy="459" r="2.1"/><circle cx="1239" cy="462.2" r="2.1"/><circle cx="1239" cy="465.4" r="2.1"/><circle cx="1243.3" cy="434.8" r="2.1"/><circle cx="1243.3" cy="439.1" r="2.1"/><circle cx="1243.3" cy="444.1" r="2.1"/><circle cx="1243.3" cy="455.1" r="2.1"/><circle cx="1234.8" cy="411.7" r="2.1"/><circle cx="1239" cy="411.7" r="2.1"/><circle cx="1222.7" cy="414.2" r="2.1"/><circle cx="1207.7" cy="459.3" r="2.1"/><circle cx="1209.9" cy="459.3" r="2.1"/><circle cx="1201.4" cy="466.1" r="2.1"/><circle cx="1203.8" cy="466.1" r="2.1"/><circle cx="1206.3" cy="466.1" r="2.1"/><circle cx="1209.9" cy="466.1" r="2.1"/><circle cx="1207" cy="470.4" r="2.1"/><circle cx="1214.9" cy="470.4" r="2.1"/><circle cx="1217.7" cy="470.4" r="2.1"/><circle cx="1222" cy="465.7" r="2.1"/><circle cx="1224.8" cy="461.1" r="2.1"/><circle cx="1229.1" cy="465.4" r="2.1"/><circle cx="1227.7" cy="470.4" r="2.1"/><circle cx="1233.3" cy="472.1" r="2.1"/><circle cx="1239" cy="472.1" r="2.1"/><circle cx="1226.2" cy="477.5" r="2.1"/><circle cx="1239" cy="477.5" r="2.1"/><circle cx="1249" cy="459.3" r="2.1"/><circle cx="1257.5" cy="459.3" r="2.1"/><circle cx="1249" cy="470" r="2.1"/><circle cx="1256.1" cy="469.6" r="2.1"/><circle cx="1204.9" cy="451.9" r="2.1"/><circle cx="1206.3" cy="449" r="2.1"/><circle cx="1209.9" cy="444.8" r="2.1"/><circle cx="1210.6" cy="449" r="2.1"/><circle cx="1215.6" cy="451.9" r="2.1"/><circle cx="1217.7" cy="451.9" r="2.1"/><circle cx="1314.4" cy="400.7" r="2.1"/><circle cx="1276.4" cy="473.9" r="2.1"/><circle cx="1206.6" cy="470.6" r="2.1"/><circle cx="1215.8" cy="470.6" r="2.1"/><circle cx="1228.3" cy="470.6" r="2.1"/><circle cx="1232.9" cy="472.3" r="2.1"/><circle cx="1239.1" cy="472.3" r="2.1"/><circle cx="1248.8" cy="470.6" r="2.1"/><circle cx="1257.9" cy="472.3" r="2.1"/><circle cx="1226" cy="478" r="2.1"/><circle cx="1239.1" cy="478" r="2.1"/><circle cx="1276.2" cy="474.6" r="2.1"/><circle cx="1287.5" cy="479.1" r="2.1"/><circle cx="1293.2" cy="476.8" r="2.1"/><circle cx="1298.9" cy="476.8" r="2.1"/><circle cx="1332" cy="478" r="2.1"/><circle cx="1338.8" cy="477.4" r="2.1"/><circle cx="1343.4" cy="471.7" r="2.1"/><circle cx="1235.7" cy="487.1" r="2.1"/><circle cx="1239.7" cy="488.2" r="2.1"/><circle cx="1243.1" cy="489.4" r="2.1"/><circle cx="1250.5" cy="487.1" r="2.1"/><circle cx="1254.5" cy="487.1" r="2.1"/><circle cx="1262.5" cy="487.1" r="2.1"/><circle cx="1267" cy="487.1" r="2.1"/><circle cx="1271" cy="488.2" r="2.1"/><circle cx="1287.5" cy="487.7" r="2.1"/><circle cx="1293.2" cy="487.7" r="2.1"/><circle cx="1295.5" cy="487.1" r="2.1"/><circle cx="1333.1" cy="487.1" r="2.1"/><circle cx="1340" cy="487.7" r="2.1"/><circle cx="1320.6" cy="490.5" r="2.1"/><circle cx="1326.3" cy="490.5" r="2.1"/><circle cx="1312.6" cy="489.4" r="2.1"/><circle cx="1215.2" cy="498.3" r="2.1"/><circle cx="1239.1" cy="497.3" r="2.1"/><circle cx="1239.1" cy="501.9" r="2.1"/><circle cx="1270.5" cy="501.7" r="2.1"/><circle cx="1330.3" cy="497.3" r="2.1"/><circle cx="1302.4" cy="501.3" r="2.1"/><circle cx="1306.9" cy="501.3" r="2.1"/><circle cx="1202.1" cy="506.5" r="2.1"/><circle cx="1210.6" cy="509.3" r="2.1"/><circle cx="1244.2" cy="506.7" r="2.1"/><circle cx="1264.8" cy="506.7" r="2.1"/><circle cx="1284.7" cy="506.7" r="2.1"/><circle cx="1298.9" cy="506.5" r="2.1"/><circle cx="1301.2" cy="509.3" r="2.1"/><circle cx="1308.1" cy="509.3" r="2.1"/><circle cx="1326.3" cy="512.2" r="2.1"/><circle cx="1239.5" cy="518.4" r="2.1"/><circle cx="1252.8" cy="516.5" r="2.1"/><circle cx="1285.8" cy="516.5" r="2.1"/><circle cx="1295.5" cy="516.5" r="2.1"/><circle cx="1305.8" cy="516.5" r="2.1"/><circle cx="1310.3" cy="516.5" r="2.1"/><circle cx="1313.8" cy="516.5" r="2.1"/><circle cx="1321.7" cy="516.5" r="2.1"/><circle cx="1325.7" cy="516.5" r="2.1"/><circle cx="1334.8" cy="516.5" r="2.1"/></g>
<path d="M1174.3 318.6V537.2H1452.7" fill="none" stroke="#5a5a5a" stroke-width="1"/>
<path d="M1174.3 506h2.5M1214.1 537.2v-3M1174.3 474.7h2.5M1253.8 537.2v-3M1174.3 443.5h2.5M1293.6 537.2v-3M1174.3 412.3h2.5M1333.4 537.2v-3M1174.3 381.1h2.5M1373.2 537.2v-3M1174.3 349.8h2.5M1412.9 537.2v-3M1174.3 318.6h2.5M1452.7 537.2v-3" stroke="#b0b0b0" stroke-width="1"/>
<line x1="1174.3" y1="537.2" x2="1452.7" y2="318.6" stroke="#000" stroke-width="1.9"/>
<circle cx="1309.6" cy="432.8" r="4.9" fill="#ff0000"/>
<g font-size="12" fill="#262626"><text x="1174.3" y="554.7" text-anchor="middle">0</text><text x="1168" y="541.2" text-anchor="end">0</text><text x="1214.1" y="554.7" text-anchor="middle">10</text><text x="1168" y="510" text-anchor="end">10</text><text x="1253.8" y="554.7" text-anchor="middle">20</text><text x="1168" y="478.7" text-anchor="end">20</text><text x="1293.6" y="554.7" text-anchor="middle">30</text><text x="1168" y="447.5" text-anchor="end">30</text><text x="1333.4" y="554.7" text-anchor="middle">40</text><text x="1168" y="416.3" text-anchor="end">40</text><text x="1373.2" y="554.7" text-anchor="middle">50</text><text x="1168" y="385.1" text-anchor="end">50</text><text x="1412.9" y="554.7" text-anchor="middle">60</text><text x="1168" y="353.8" text-anchor="end">60</text><text x="1452.7" y="554.7" text-anchor="middle">70</text><text x="1168" y="322.6" text-anchor="end">70</text></g>
<text x="1229.2" y="580.6" font-size="17" textLength="178.2" lengthAdjust="spacingAndGlyphs">Iron grade (%) - Domain 5</text>
<text transform="translate(1141.4 515.4) rotate(-90)" font-size="17" textLength="177.2" lengthAdjust="spacingAndGlyphs">Iron grade (%) - Domain 2</text>
<text x="1454.6" y="526.4" font-size="17" text-anchor="end" textLength="57.2" lengthAdjust="spacingAndGlyphs">ρ = 0.22</text>
<g fill="#00ff00"><circle cx="840.6" cy="640.6" r="2.1"/><circle cx="840.6" cy="646.6" r="2.1"/><circle cx="840.6" cy="652.6" r="2.1"/><circle cx="840.6" cy="657.2" r="2.1"/><circle cx="840.6" cy="661.3" r="2.1"/><circle cx="840.6" cy="684.8" r="2.1"/><circle cx="840.6" cy="694" r="2.1"/><circle cx="840.6" cy="698.6" r="2.1"/><circle cx="840.6" cy="703.2" r="2.1"/><circle cx="840.6" cy="707.8" r="2.1"/><circle cx="840.6" cy="718.8" r="2.1"/><circle cx="840.6" cy="731.7" r="2.1"/><circle cx="847.9" cy="653.5" r="2.1"/><circle cx="847.9" cy="660.4" r="2.1"/><circle cx="847.9" cy="674.7" r="2.1"/><circle cx="847.9" cy="677.4" r="2.1"/><circle cx="847.9" cy="702.2" r="2.1"/><circle cx="847.9" cy="708" r="2.1"/><circle cx="847.9" cy="713.7" r="2.1"/><circle cx="855.7" cy="653.5" r="2.1"/><circle cx="855.7" cy="660.4" r="2.1"/><circle cx="855.7" cy="674.7" r="2.1"/><circle cx="855.7" cy="677.4" r="2.1"/><circle cx="855.7" cy="706.4" r="2.1"/><circle cx="855.7" cy="710.1" r="2.1"/><circle cx="855.7" cy="713.7" r="2.1"/><circle cx="904" cy="653.5" r="2.1"/><circle cx="904" cy="660.4" r="2.1"/><circle cx="904" cy="674.7" r="2.1"/><circle cx="904" cy="677.4" r="2.1"/><circle cx="904" cy="702.2" r="2.1"/><circle cx="904" cy="708" r="2.1"/><circle cx="904" cy="713.7" r="2.1"/><circle cx="913.7" cy="653.5" r="2.1"/><circle cx="913.7" cy="660.4" r="2.1"/><circle cx="913.7" cy="676.5" r="2.1"/><circle cx="913.7" cy="705.9" r="2.1"/><circle cx="913.7" cy="709.8" r="2.1"/><circle cx="913.7" cy="713.7" r="2.1"/><circle cx="915.5" cy="692.1" r="2.1"/><circle cx="915.5" cy="696.4" r="2.1"/><circle cx="915.5" cy="700.7" r="2.1"/><circle cx="915.5" cy="705" r="2.1"/><circle cx="915.5" cy="734.4" r="2.1"/><circle cx="918.3" cy="687.5" r="2.1"/><circle cx="918.3" cy="695.8" r="2.1"/><circle cx="918.3" cy="716" r="2.1"/><circle cx="918.3" cy="718.8" r="2.1"/><circle cx="918.3" cy="722.5" r="2.1"/><circle cx="922.9" cy="643.4" r="2.1"/><circle cx="922.9" cy="648.9" r="2.1"/><circle cx="922.9" cy="653.5" r="2.1"/><circle cx="922.9" cy="659" r="2.1"/><circle cx="922.9" cy="663.2" r="2.1"/><circle cx="922.9" cy="667.3" r="2.1"/><circle cx="922.9" cy="675.1" r="2.1"/><circle cx="922.9" cy="679.3" r="2.1"/><circle cx="922.9" cy="683.9" r="2.1"/><circle cx="922.9" cy="687.5" r="2.1"/><circle cx="922.9" cy="695.8" r="2.1"/><circle cx="922.9" cy="705" r="2.1"/><circle cx="922.9" cy="709.9" r="2.1"/><circle cx="922.9" cy="714.8" r="2.1"/><circle cx="922.9" cy="719.7" r="2.1"/><circle cx="922.9" cy="724.3" r="2.1"/><circle cx="936.2" cy="652.6" r="2.1"/><circle cx="936.2" cy="669.1" r="2.1"/><circle cx="936.2" cy="674" r="2.1"/><circle cx="936.2" cy="678.9" r="2.1"/><circle cx="936.2" cy="683.9" r="2.1"/><circle cx="936.2" cy="688.4" r="2.1"/><circle cx="936.2" cy="695.8" r="2.1"/><circle cx="936.2" cy="699.5" r="2.1"/><circle cx="936.2" cy="713.3" r="2.1"/><circle cx="936.2" cy="717.9" r="2.1"/><circle cx="953.7" cy="638.3" r="2.1"/><circle cx="953.7" cy="643.6" r="2.1"/><circle cx="953.7" cy="648.8" r="2.1"/><circle cx="953.7" cy="654.1" r="2.1"/><circle cx="953.7" cy="659.4" r="2.1"/><circle cx="953.7" cy="664.7" r="2.1"/><circle cx="953.7" cy="670" r="2.1"/><circle cx="962.3" cy="653.2" r="2.1"/><circle cx="962.3" cy="660.4" r="2.1"/><circle cx="962.3" cy="674.8" r="2.1"/><circle cx="962.3" cy="689.2" r="2.1"/><circle cx="962.3" cy="694.4" r="2.1"/><circle cx="962.3" cy="699.5" r="2.1"/><circle cx="962.3" cy="704.6" r="2.1"/><circle cx="962.3" cy="712.3" r="2.1"/><circle cx="962.3" cy="715.2" r="2.1"/><circle cx="962.3" cy="722.9" r="2.1"/><circle cx="962.3" cy="728.7" r="2.1"/><circle cx="964.2" cy="715.2" r="2.1"/><circle cx="978.2" cy="650.8" r="2.1"/><circle cx="978.2" cy="660.4" r="2.1"/><circle cx="978.2" cy="666.2" r="2.1"/><circle cx="978.2" cy="670" r="2.1"/><circle cx="978.2" cy="675.3" r="2.1"/><circle cx="978.2" cy="680.6" r="2.1"/><circle cx="978.2" cy="692.1" r="2.1"/><circle cx="978.2" cy="698.4" r="2.1"/><circle cx="978.2" cy="704.6" r="2.1"/><circle cx="978.2" cy="709.4" r="2.1"/><circle cx="978.2" cy="722.4" r="2.1"/><circle cx="985.4" cy="660.4" r="2.1"/><circle cx="985.4" cy="666.2" r="2.1"/><circle cx="985.4" cy="687.3" r="2.1"/><circle cx="985.4" cy="692.4" r="2.1"/><circle cx="985.4" cy="697.6" r="2.1"/><circle cx="985.4" cy="702.7" r="2.1"/><circle cx="985.4" cy="718.1" r="2.1"/><circle cx="983.5" cy="718.1" r="2.1"/><circle cx="991.6" cy="640.2" r="2.1"/><circle cx="991.6" cy="645.3" r="2.1"/><circle cx="991.6" cy="650.3" r="2.1"/><circle cx="991.6" cy="655.4" r="2.1"/><circle cx="991.6" cy="660.5" r="2.1"/><circle cx="991.6" cy="665.6" r="2.1"/><circle cx="991.6" cy="670.6" r="2.1"/><circle cx="991.6" cy="675.7" r="2.1"/><circle cx="991.6" cy="680.8" r="2.1"/><circle cx="991.6" cy="685.9" r="2.1"/><circle cx="991.6" cy="690.9" r="2.1"/><circle cx="991.6" cy="696" r="2.1"/><circle cx="991.6" cy="701.1" r="2.1"/><circle cx="991.6" cy="706.2" r="2.1"/><circle cx="991.6" cy="711.2" r="2.1"/><circle cx="991.6" cy="716.3" r="2.1"/><circle cx="991.6" cy="721.4" r="2.1"/><circle cx="991.6" cy="726.5" r="2.1"/><circle cx="991.6" cy="731.5" r="2.1"/><circle cx="1002.7" cy="625.8" r="2.1"/><circle cx="1002.7" cy="631.1" r="2.1"/><circle cx="1002.7" cy="636.3" r="2.1"/><circle cx="1002.7" cy="641.6" r="2.1"/><circle cx="1002.7" cy="646.9" r="2.1"/><circle cx="1002.7" cy="648.8" r="2.1"/><circle cx="1002.7" cy="654" r="2.1"/><circle cx="1002.7" cy="659.2" r="2.1"/><circle cx="1002.7" cy="664.4" r="2.1"/><circle cx="1002.7" cy="669.6" r="2.1"/><circle cx="1002.7" cy="674.7" r="2.1"/><circle cx="1002.7" cy="679.9" r="2.1"/><circle cx="1002.7" cy="685.1" r="2.1"/><circle cx="1002.7" cy="690.3" r="2.1"/><circle cx="1002.7" cy="695.4" r="2.1"/><circle cx="1002.7" cy="700.6" r="2.1"/><circle cx="1002.7" cy="705.8" r="2.1"/><circle cx="1002.7" cy="711" r="2.1"/><circle cx="1002.7" cy="716.2" r="2.1"/><circle cx="1002.7" cy="720" r="2.1"/><circle cx="1002.7" cy="731.5" r="2.1"/><circle cx="1006.5" cy="639.2" r="2.1"/><circle cx="1006.5" cy="642.1" r="2.1"/><circle cx="1006.5" cy="648.8" r="2.1"/><circle cx="1006.5" cy="652.7" r="2.1"/><circle cx="1006.5" cy="660.4" r="2.1"/><circle cx="1006.5" cy="664.9" r="2.1"/><circle cx="1006.5" cy="669.4" r="2.1"/><circle cx="1006.5" cy="673.8" r="2.1"/><circle cx="1006.5" cy="679.6" r="2.1"/><circle cx="1006.5" cy="685" r="2.1"/><circle cx="1006.5" cy="690.4" r="2.1"/><circle cx="1006.5" cy="695.8" r="2.1"/><circle cx="1006.5" cy="701.2" r="2.1"/><circle cx="1006.5" cy="706.5" r="2.1"/><circle cx="1006.5" cy="709.4" r="2.1"/><circle cx="1012.8" cy="643.6" r="2.1"/><circle cx="1012.8" cy="650.8" r="2.1"/><circle cx="1012.8" cy="659.4" r="2.1"/><circle cx="1012.8" cy="667.1" r="2.1"/><circle cx="1012.8" cy="673.8" r="2.1"/><circle cx="1012.8" cy="679.6" r="2.1"/><circle cx="1012.8" cy="712.8" r="2.1"/><circle cx="1018.1" cy="659.4" r="2.1"/><circle cx="1018.1" cy="667.1" r="2.1"/><circle cx="1018.1" cy="671.9" r="2.1"/><circle cx="1018.1" cy="680.6" r="2.1"/><circle cx="1018.1" cy="689.2" r="2.1"/><circle cx="1018.1" cy="694" r="2.1"/><circle cx="1018.1" cy="698.8" r="2.1"/><circle cx="1018.1" cy="703.7" r="2.1"/><circle cx="1018.1" cy="708.5" r="2.1"/><circle cx="1018.1" cy="713.3" r="2.1"/><circle cx="1018.1" cy="718.1" r="2.1"/><circle cx="1021.9" cy="659.4" r="2.1"/><circle cx="1021.9" cy="666.2" r="2.1"/><circle cx="1027.2" cy="643.6" r="2.1"/><circle cx="1027.2" cy="648.5" r="2.1"/><circle cx="1027.2" cy="653.4" r="2.1"/><circle cx="1027.2" cy="658.3" r="2.1"/><circle cx="1027.2" cy="663.2" r="2.1"/><circle cx="1027.2" cy="668.1" r="2.1"/><circle cx="1027.2" cy="675.8" r="2.1"/><circle cx="1027.2" cy="679.6" r="2.1"/><circle cx="1027.2" cy="687.3" r="2.1"/><circle cx="1027.2" cy="695" r="2.1"/><circle cx="1027.2" cy="700.8" r="2.1"/><circle cx="1027.2" cy="706.5" r="2.1"/><circle cx="1027.2" cy="712.3" r="2.1"/><circle cx="1027.2" cy="718.1" r="2.1"/><circle cx="1033" cy="643.6" r="2.1"/><circle cx="1033" cy="650.8" r="2.1"/><circle cx="1033" cy="655.3" r="2.1"/><circle cx="1033" cy="659.7" r="2.1"/><circle cx="1033" cy="664.2" r="2.1"/><circle cx="1033" cy="675.8" r="2.1"/><circle cx="1033" cy="679.6" r="2.1"/><circle cx="1033" cy="712.8" r="2.1"/><circle cx="1038.3" cy="659.4" r="2.1"/><circle cx="1038.3" cy="667.1" r="2.1"/><circle cx="1038.3" cy="671.9" r="2.1"/><circle cx="1038.3" cy="676.7" r="2.1"/><circle cx="1038.3" cy="681.5" r="2.1"/><circle cx="1038.3" cy="685.4" r="2.1"/><circle cx="1038.3" cy="690.2" r="2.1"/><circle cx="1038.3" cy="696.9" r="2.1"/><circle cx="1038.3" cy="709.4" r="2.1"/><circle cx="1038.3" cy="722.4" r="2.1"/><circle cx="1042.1" cy="643.6" r="2.1"/><circle cx="1042.1" cy="650.8" r="2.1"/><circle cx="1042.1" cy="659.4" r="2.1"/><circle cx="1042.1" cy="675.8" r="2.1"/><circle cx="1042.1" cy="713.3" r="2.1"/><circle cx="1058.9" cy="625.8" r="2.1"/><circle cx="1058.9" cy="630.3" r="2.1"/><circle cx="1058.9" cy="634.9" r="2.1"/><circle cx="1058.9" cy="639.5" r="2.1"/><circle cx="1058.9" cy="644" r="2.1"/><circle cx="1058.9" cy="651.7" r="2.1"/><circle cx="1058.9" cy="668.1" r="2.1"/><circle cx="1012.3" cy="643.6" r="2.1"/><circle cx="1017.3" cy="643.6" r="2.1"/><circle cx="1022.2" cy="643.6" r="2.1"/><circle cx="1027.2" cy="643.6" r="2.1"/><circle cx="1032.2" cy="643.6" r="2.1"/><circle cx="1037.1" cy="643.6" r="2.1"/><circle cx="1042.1" cy="643.6" r="2.1"/><circle cx="1012.3" cy="650.8" r="2.1"/><circle cx="1017.3" cy="650.8" r="2.1"/><circle cx="1022.2" cy="650.8" r="2.1"/><circle cx="1027.2" cy="650.8" r="2.1"/><circle cx="1032.2" cy="650.8" r="2.1"/><circle cx="1037.1" cy="650.8" r="2.1"/><circle cx="1042.1" cy="650.8" r="2.1"/><circle cx="840.6" cy="732.1" r="2.1"/><circle cx="915.5" cy="736.4" r="2.1"/><circle cx="918.3" cy="725" r="2.1"/><circle cx="923.4" cy="725" r="2.1"/><circle cx="856.2" cy="753.7" r="2.1"/><circle cx="848" cy="768.1" r="2.1"/><circle cx="856.2" cy="777.6" r="2.1"/><circle cx="856.2" cy="788.2" r="2.1"/><circle cx="904.1" cy="768.1" r="2.1"/><circle cx="923.7" cy="768.1" r="2.1"/><circle cx="918.3" cy="809.1" r="2.1"/><circle cx="923.7" cy="809.1" r="2.1"/><circle cx="848" cy="823.9" r="2.1"/><circle cx="855.6" cy="823.9" r="2.1"/><circle cx="904.1" cy="823.9" r="2.1"/><circle cx="913.7" cy="823.9" r="2.1"/><circle cx="923.7" cy="823.9" r="2.1"/><circle cx="964.5" cy="727.8" r="2.1"/><circle cx="964.5" cy="740.7" r="2.1"/><circle cx="964.5" cy="751.2" r="2.1"/><circle cx="991.6" cy="732.1" r="2.1"/><circle cx="991.6" cy="736.4" r="2.1"/><circle cx="985.9" cy="753.7" r="2.1"/><circle cx="978.1" cy="767.4" r="2.1"/><circle cx="991.6" cy="767.4" r="2.1"/><circle cx="974.1" cy="788.2" r="2.1"/><circle cx="985.9" cy="788.2" r="2.1"/><circle cx="1018.5" cy="745.2" r="2.1"/><circle cx="1027.3" cy="745.2" r="2.1"/><circle cx="1004.9" cy="767.6" r="2.1"/><circle cx="1007.8" cy="767.6" r="2.1"/><circle cx="1038" cy="767.6" r="2.1"/><circle cx="1005.9" cy="731.6" r="2.1"/><circle cx="991.3" cy="736.5" r="2.1"/><circle cx="1038" cy="721.9" r="2.1"/></g>
<path d="M799.6 619.3V837.5H1078.6" fill="none" stroke="#5a5a5a" stroke-width="1"/>
<path d="M799.6 806.3h2.5M839.5 837.5v-3M799.6 775.2h2.5M879.3 837.5v-3M799.6 744h2.5M919.2 837.5v-3M799.6 712.8h2.5M959 837.5v-3M799.6 681.6h2.5M998.9 837.5v-3M799.6 650.5h2.5M1038.7 837.5v-3M799.6 619.3h2.5M1078.6 837.5v-3" stroke="#b0b0b0" stroke-width="1"/>
<line x1="799.6" y1="837.5" x2="1078.6" y2="619.3" stroke="#000" stroke-width="1.9"/>
<circle cx="976.7" cy="686.9" r="4.9" fill="#ff0000"/>
<g font-size="12" fill="#262626"><text x="799.6" y="855" text-anchor="middle">0</text><text x="793.3" y="841.5" text-anchor="end">0</text><text x="839.5" y="855" text-anchor="middle">10</text><text x="793.3" y="810.3" text-anchor="end">10</text><text x="879.3" y="855" text-anchor="middle">20</text><text x="793.3" y="779.2" text-anchor="end">20</text><text x="919.2" y="855" text-anchor="middle">30</text><text x="793.3" y="748" text-anchor="end">30</text><text x="959" y="855" text-anchor="middle">40</text><text x="793.3" y="716.8" text-anchor="end">40</text><text x="998.9" y="855" text-anchor="middle">50</text><text x="793.3" y="685.6" text-anchor="end">50</text><text x="1038.7" y="855" text-anchor="middle">60</text><text x="793.3" y="654.5" text-anchor="end">60</text><text x="1078.6" y="855" text-anchor="middle">70</text><text x="793.3" y="623.3" text-anchor="end">70</text></g>
<text x="854.1" y="881.7" font-size="17" textLength="178.2" lengthAdjust="spacingAndGlyphs">Iron grade (%) - Domain 4</text>
<text transform="translate(766.6 818.7) rotate(-90)" font-size="17" textLength="177.2" lengthAdjust="spacingAndGlyphs">Iron grade (%) - Domain 3</text>
<text x="1080.1" y="826.7" font-size="17" text-anchor="end" textLength="57.2" lengthAdjust="spacingAndGlyphs">ρ = 0.30</text>
<g fill="#00ff00"><circle cx="1246.5" cy="717.6" r="2.1"/><circle cx="1241.1" cy="719.5" r="2.1"/><circle cx="1242.5" cy="720.3" r="2.1"/><circle cx="1245" cy="720.6" r="2.1"/><circle cx="1245" cy="723" r="2.1"/><circle cx="1241.1" cy="725" r="2.1"/><circle cx="1243" cy="724.7" r="2.1"/><circle cx="1245.5" cy="725.9" r="2.1"/><circle cx="1242.5" cy="728.3" r="2.1"/><circle cx="1245.8" cy="728" r="2.1"/><circle cx="1333.4" cy="663.5" r="2.1"/><circle cx="1329.6" cy="665.7" r="2.1"/><circle cx="1335" cy="664.8" r="2.1"/><circle cx="1324.3" cy="666.9" r="2.1"/><circle cx="1332.6" cy="666.9" r="2.1"/><circle cx="1336" cy="668.5" r="2.1"/><circle cx="1323.4" cy="670.6" r="2.1"/><circle cx="1325.4" cy="670.3" r="2.1"/><circle cx="1331" cy="670.3" r="2.1"/><circle cx="1323.4" cy="672" r="2.1"/><circle cx="1324.6" cy="673.1" r="2.1"/><circle cx="1333.1" cy="671.8" r="2.1"/><circle cx="1327.3" cy="674.4" r="2.1"/><circle cx="1329.9" cy="675.3" r="2.1"/><circle cx="1332.8" cy="674.9" r="2.1"/><circle cx="1327.6" cy="677.5" r="2.1"/><circle cx="1333.1" cy="678" r="2.1"/><circle cx="1336.2" cy="678.4" r="2.1"/><circle cx="1324.5" cy="680.8" r="2.1"/><circle cx="1329.4" cy="680.6" r="2.1"/><circle cx="1334.8" cy="681" r="2.1"/><circle cx="1325.5" cy="681.9" r="2.1"/><circle cx="1330.3" cy="683.7" r="2.1"/><circle cx="1336" cy="683.7" r="2.1"/><circle cx="1331" cy="685.5" r="2.1"/><circle cx="1326.1" cy="687.4" r="2.1"/><circle cx="1327.2" cy="688.3" r="2.1"/><circle cx="1330.3" cy="688.7" r="2.1"/><circle cx="1335.3" cy="687.9" r="2.1"/><circle cx="1327.5" cy="690.2" r="2.1"/><circle cx="1322.6" cy="692.7" r="2.1"/><circle cx="1331.1" cy="692.8" r="2.1"/><circle cx="1332.6" cy="693.2" r="2.1"/><circle cx="1325.2" cy="696.2" r="2.1"/><circle cx="1327.7" cy="695.9" r="2.1"/><circle cx="1332.6" cy="694.4" r="2.1"/><circle cx="1335.6" cy="696.2" r="2.1"/><circle cx="1324.6" cy="698" r="2.1"/><circle cx="1331.3" cy="698.4" r="2.1"/><circle cx="1332.5" cy="697.4" r="2.1"/><circle cx="1323.2" cy="700.2" r="2.1"/><circle cx="1326.8" cy="699.9" r="2.1"/><circle cx="1325.5" cy="702.6" r="2.1"/><circle cx="1336.4" cy="703" r="2.1"/><circle cx="1322.9" cy="705.1" r="2.1"/><circle cx="1328.7" cy="704.7" r="2.1"/><circle cx="1332.2" cy="705.9" r="2.1"/><circle cx="1329.6" cy="708.5" r="2.1"/><circle cx="1335.2" cy="707.3" r="2.1"/><circle cx="1336.5" cy="709.7" r="2.1"/><circle cx="1324.2" cy="713.5" r="2.1"/><circle cx="1333.4" cy="713.3" r="2.1"/><circle cx="1323.1" cy="715.6" r="2.1"/><circle cx="1324.6" cy="714.4" r="2.1"/><circle cx="1328.6" cy="715.5" r="2.1"/><circle cx="1331.2" cy="715.7" r="2.1"/><circle cx="1332" cy="715.3" r="2.1"/><circle cx="1322.8" cy="717.5" r="2.1"/><circle cx="1327.5" cy="717.3" r="2.1"/><circle cx="1330.7" cy="717.7" r="2.1"/><circle cx="1333.5" cy="718.7" r="2.1"/><circle cx="1327.8" cy="720.3" r="2.1"/><circle cx="1330" cy="720.8" r="2.1"/><circle cx="1332.6" cy="719.7" r="2.1"/><circle cx="1325.6" cy="721.9" r="2.1"/><circle cx="1330.1" cy="722.2" r="2.1"/><circle cx="1332.8" cy="722.2" r="2.1"/><circle cx="1335.2" cy="723.6" r="2.1"/><circle cx="1323.4" cy="725.6" r="2.1"/><circle cx="1324.6" cy="728.6" r="2.1"/><circle cx="1331.3" cy="728.7" r="2.1"/><circle cx="1324.3" cy="702.6" r="2.1"/><circle cx="1310.2" cy="705.1" r="2.1"/><circle cx="1317.7" cy="705.2" r="2.1"/><circle cx="1324.1" cy="704.7" r="2.1"/><circle cx="1313.6" cy="707.9" r="2.1"/><circle cx="1320.4" cy="706.7" r="2.1"/><circle cx="1311.2" cy="710.2" r="2.1"/><circle cx="1319.3" cy="710.3" r="2.1"/><circle cx="1312.6" cy="712.8" r="2.1"/><circle cx="1321.5" cy="712.6" r="2.1"/><circle cx="1324.2" cy="713.1" r="2.1"/><circle cx="1316.6" cy="715" r="2.1"/><circle cx="1323.2" cy="715.8" r="2.1"/><circle cx="1323.3" cy="717.6" r="2.1"/><circle cx="1311.6" cy="720.8" r="2.1"/><circle cx="1315.7" cy="719.4" r="2.1"/><circle cx="1321.4" cy="720.6" r="2.1"/><circle cx="1323.8" cy="721" r="2.1"/><circle cx="1311.1" cy="723.4" r="2.1"/><circle cx="1321.4" cy="723.5" r="2.1"/><circle cx="1323.2" cy="722.1" r="2.1"/><circle cx="1308.5" cy="725" r="2.1"/><circle cx="1310.6" cy="724.5" r="2.1"/><circle cx="1311.1" cy="727.1" r="2.1"/><circle cx="1310.4" cy="682.9" r="2.1"/><circle cx="1318.2" cy="683.4" r="2.1"/><circle cx="1326.6" cy="683.7" r="2.1"/><circle cx="1329.1" cy="683.4" r="2.1"/><circle cx="1324.1" cy="684.7" r="2.1"/><circle cx="1334.3" cy="684.6" r="2.1"/><circle cx="1318.9" cy="688.3" r="2.1"/><circle cx="1321.8" cy="688.5" r="2.1"/><circle cx="1323.6" cy="686.9" r="2.1"/><circle cx="1327.4" cy="688.3" r="2.1"/><circle cx="1332.2" cy="688.1" r="2.1"/><circle cx="1333.6" cy="687.6" r="2.1"/><circle cx="1314.3" cy="693.6" r="2.1"/><circle cx="1319.5" cy="693.6" r="2.1"/><circle cx="1323.9" cy="692.1" r="2.1"/><circle cx="1326.8" cy="692" r="2.1"/><circle cx="1329.7" cy="692.2" r="2.1"/><circle cx="1333.7" cy="692.3" r="2.1"/><circle cx="1310.5" cy="695.9" r="2.1"/><circle cx="1317.9" cy="694.6" r="2.1"/><circle cx="1335.2" cy="695" r="2.1"/><circle cx="1317.3" cy="696.7" r="2.1"/><circle cx="1321.5" cy="698.4" r="2.1"/><circle cx="1314.1" cy="700.1" r="2.1"/><circle cx="1315.4" cy="699.9" r="2.1"/><circle cx="1319" cy="700.1" r="2.1"/><circle cx="1321.5" cy="700.3" r="2.1"/><circle cx="1326.9" cy="699.5" r="2.1"/><circle cx="1329.5" cy="700.7" r="2.1"/><circle cx="1308.9" cy="703.5" r="2.1"/><circle cx="1310.3" cy="702.2" r="2.1"/><circle cx="1314.2" cy="702.6" r="2.1"/><circle cx="1318.2" cy="702.6" r="2.1"/><circle cx="1316.4" cy="704.6" r="2.1"/><circle cx="1333.5" cy="705.2" r="2.1"/><circle cx="1317.1" cy="707" r="2.1"/><circle cx="1321.5" cy="708" r="2.1"/><circle cx="1328.3" cy="708.1" r="2.1"/><circle cx="1316.7" cy="710.6" r="2.1"/><circle cx="1318.5" cy="710.4" r="2.1"/><circle cx="1323.5" cy="710.2" r="2.1"/><circle cx="1334.9" cy="710.3" r="2.1"/><circle cx="1323.9" cy="712.4" r="2.1"/><circle cx="1326.7" cy="713.1" r="2.1"/><circle cx="1320.8" cy="714.5" r="2.1"/><circle cx="1307.8" cy="718.1" r="2.1"/><circle cx="1310.1" cy="717.9" r="2.1"/><circle cx="1323.3" cy="717.3" r="2.1"/><circle cx="1326.9" cy="717.6" r="2.1"/><circle cx="1308.7" cy="719.2" r="2.1"/><circle cx="1310.5" cy="719.5" r="2.1"/><circle cx="1313.9" cy="719.2" r="2.1"/><circle cx="1324.8" cy="720.3" r="2.1"/><circle cx="1327.4" cy="719.3" r="2.1"/><circle cx="1311.7" cy="723.6" r="2.1"/><circle cx="1316.6" cy="722.2" r="2.1"/><circle cx="1323.5" cy="723.3" r="2.1"/><circle cx="1328.8" cy="722" r="2.1"/><circle cx="1331.9" cy="722.1" r="2.1"/><circle cx="1335" cy="723.2" r="2.1"/><circle cx="1311.2" cy="725.6" r="2.1"/><circle cx="1319.5" cy="727" r="2.1"/><circle cx="1321.8" cy="728.4" r="2.1"/><circle cx="1324.3" cy="727.7" r="2.1"/><circle cx="1303.5" cy="698.5" r="2.1"/><circle cx="1298.4" cy="708.2" r="2.1"/><circle cx="1301.2" cy="708.1" r="2.1"/><circle cx="1305.5" cy="710.8" r="2.1"/><circle cx="1298.5" cy="714" r="2.1"/><circle cx="1298.5" cy="716.1" r="2.1"/><circle cx="1300.1" cy="717" r="2.1"/><circle cx="1303.2" cy="720.5" r="2.1"/><circle cx="1305.1" cy="722" r="2.1"/><circle cx="1301.2" cy="724.2" r="2.1"/><circle cx="1305.6" cy="725.8" r="2.1"/><circle cx="1298.3" cy="727.9" r="2.1"/><circle cx="1311.9" cy="684.3" r="2.1"/><circle cx="1300.8" cy="664.3" r="2.1"/><circle cx="1298.1" cy="666.3" r="2.1"/><circle cx="1300.7" cy="669.4" r="2.1"/><circle cx="1305.3" cy="671.3" r="2.1"/><circle cx="1303.1" cy="674.5" r="2.1"/><circle cx="1301.6" cy="677.2" r="2.1"/><circle cx="1296.4" cy="678.1" r="2.1"/><circle cx="1301.8" cy="678.9" r="2.1"/><circle cx="1296.6" cy="686.4" r="2.1"/><circle cx="1299.8" cy="685.6" r="2.1"/><circle cx="1304.7" cy="687.1" r="2.1"/><circle cx="1303.5" cy="689.5" r="2.1"/><circle cx="1305.9" cy="690.8" r="2.1"/><circle cx="1306.1" cy="694.6" r="2.1"/><circle cx="1247.5" cy="727.3" r="2.1"/><circle cx="1309.2" cy="725.2" r="2.1"/><circle cx="1312.4" cy="725.4" r="2.1"/><circle cx="1322" cy="725.5" r="2.1"/><circle cx="1306.2" cy="727.7" r="2.1"/><circle cx="1319" cy="727.6" r="2.1"/><circle cx="1320.3" cy="727.3" r="2.1"/><circle cx="1322.9" cy="727.7" r="2.1"/><circle cx="1326.4" cy="728.2" r="2.1"/><circle cx="1328.2" cy="729.5" r="2.1"/><circle cx="1330.9" cy="729.7" r="2.1"/><circle cx="1218.3" cy="642.1" r="2.1"/><circle cx="1222.2" cy="642.1" r="2.1"/><circle cx="1226.2" cy="642.1" r="2.1"/><circle cx="1230.2" cy="642.1" r="2.1"/><circle cx="1218.3" cy="646.1" r="2.1"/><circle cx="1222.2" cy="646.1" r="2.1"/><circle cx="1226.2" cy="646.1" r="2.1"/><circle cx="1230.2" cy="646.1" r="2.1"/><circle cx="1218.3" cy="650.5" r="2.1"/><circle cx="1222.2" cy="650.5" r="2.1"/><circle cx="1226.2" cy="650.5" r="2.1"/><circle cx="1230.2" cy="650.5" r="2.1"/><circle cx="1206" cy="641.4" r="2.1"/><circle cx="1206" cy="645.7" r="2.1"/><circle cx="1206" cy="650.1" r="2.1"/><circle cx="1206" cy="673.9" r="2.1"/><circle cx="1206" cy="692.2" r="2.1"/><circle cx="1206" cy="714.4" r="2.1"/><circle cx="1206" cy="717.6" r="2.1"/><circle cx="1218.3" cy="673.9" r="2.1"/><circle cx="1218.3" cy="692.2" r="2.1"/><circle cx="1218.3" cy="714.4" r="2.1"/><circle cx="1218.3" cy="717.6" r="2.1"/><circle cx="1218.3" cy="722.4" r="2.1"/><circle cx="1218.3" cy="726.3" r="2.1"/><circle cx="1222.6" cy="661.2" r="2.1"/><circle cx="1222.6" cy="666" r="2.1"/><circle cx="1222.6" cy="669.9" r="2.1"/><circle cx="1222.6" cy="674.3" r="2.1"/><circle cx="1222.6" cy="678.7" r="2.1"/><circle cx="1222.6" cy="686.2" r="2.1"/><circle cx="1222.6" cy="692.2" r="2.1"/><circle cx="1222.6" cy="696.6" r="2.1"/><circle cx="1222.6" cy="703.3" r="2.1"/><circle cx="1222.6" cy="710.1" r="2.1"/><circle cx="1222.6" cy="714.4" r="2.1"/><circle cx="1222.6" cy="718.3" r="2.1"/><circle cx="1222.6" cy="722.2" r="2.1"/><circle cx="1222.6" cy="726.1" r="2.1"/><circle cx="1222.6" cy="730" r="2.1"/><circle cx="1237.3" cy="696.2" r="2.1"/><circle cx="1237.3" cy="702.5" r="2.1"/><circle cx="1237.3" cy="707" r="2.1"/><circle cx="1237.3" cy="711.5" r="2.1"/><circle cx="1237.3" cy="716" r="2.1"/><circle cx="1237.3" cy="720.8" r="2.1"/><circle cx="1237.3" cy="725.4" r="2.1"/><circle cx="1237.3" cy="730" r="2.1"/><circle cx="1230.2" cy="721.6" r="2.1"/><circle cx="1230.2" cy="725.8" r="2.1"/><circle cx="1230.2" cy="730" r="2.1"/><circle cx="1254" cy="700.9" r="2.1"/><circle cx="1254" cy="709.7" r="2.1"/><circle cx="1254" cy="717.6" r="2.1"/><circle cx="1254" cy="721.7" r="2.1"/><circle cx="1254" cy="725.9" r="2.1"/><circle cx="1254" cy="730" r="2.1"/><circle cx="1257.2" cy="661.2" r="2.1"/><circle cx="1257.2" cy="666" r="2.1"/><circle cx="1257.2" cy="670.7" r="2.1"/><circle cx="1257.2" cy="677.1" r="2.1"/><circle cx="1257.2" cy="682.7" r="2.1"/><circle cx="1257.2" cy="686.2" r="2.1"/><circle cx="1257.2" cy="691.4" r="2.1"/><circle cx="1257.2" cy="696.6" r="2.1"/><circle cx="1257.2" cy="699.3" r="2.1"/><circle cx="1257.2" cy="704.1" r="2.1"/><circle cx="1257.2" cy="708.1" r="2.1"/><circle cx="1257.2" cy="711.3" r="2.1"/><circle cx="1257.2" cy="714.4" r="2.1"/><circle cx="1257.2" cy="718.3" r="2.1"/><circle cx="1257.2" cy="722.2" r="2.1"/><circle cx="1257.2" cy="726.1" r="2.1"/><circle cx="1257.2" cy="730" r="2.1"/><circle cx="1258.8" cy="670.7" r="2.1"/><circle cx="1258.8" cy="677.9" r="2.1"/><circle cx="1258.8" cy="681.9" r="2.1"/><circle cx="1265.9" cy="687.8" r="2.1"/><circle cx="1265.9" cy="704.1" r="2.1"/><circle cx="1265.9" cy="707.8" r="2.1"/><circle cx="1265.9" cy="711.5" r="2.1"/><circle cx="1265.9" cy="715.2" r="2.1"/><circle cx="1265.9" cy="720" r="2.1"/><circle cx="1265.9" cy="727.1" r="2.1"/><circle cx="1273.1" cy="687.8" r="2.1"/><circle cx="1273.1" cy="700.9" r="2.1"/><circle cx="1273.1" cy="709.7" r="2.1"/><circle cx="1273.1" cy="723.2" r="2.1"/><circle cx="1275.5" cy="687.8" r="2.1"/><circle cx="1279.8" cy="681.1" r="2.1"/><circle cx="1279.8" cy="691.4" r="2.1"/><circle cx="1279.8" cy="696.2" r="2.1"/><circle cx="1279.8" cy="700.4" r="2.1"/><circle cx="1279.8" cy="704.6" r="2.1"/><circle cx="1279.8" cy="708.9" r="2.1"/><circle cx="1279.8" cy="713.1" r="2.1"/><circle cx="1279.8" cy="717.3" r="2.1"/><circle cx="1279.8" cy="721.5" r="2.1"/><circle cx="1279.8" cy="725.8" r="2.1"/><circle cx="1279.8" cy="730" r="2.1"/><circle cx="1285.4" cy="701.3" r="2.1"/><circle cx="1285.4" cy="709.7" r="2.1"/><circle cx="1285.4" cy="723.6" r="2.1"/><circle cx="1291.7" cy="661.2" r="2.1"/><circle cx="1291.7" cy="665.2" r="2.1"/><circle cx="1291.7" cy="669.9" r="2.1"/><circle cx="1291.7" cy="677.9" r="2.1"/><circle cx="1291.7" cy="686.6" r="2.1"/><circle cx="1291.7" cy="696.6" r="2.1"/><circle cx="1291.7" cy="703.3" r="2.1"/><circle cx="1291.7" cy="706.5" r="2.1"/><circle cx="1291.7" cy="709.7" r="2.1"/><circle cx="1291.7" cy="712.8" r="2.1"/><circle cx="1218.3" cy="673.9" r="2.1"/><circle cx="1222.5" cy="673.9" r="2.1"/><circle cx="1226.7" cy="673.9" r="2.1"/><circle cx="1231" cy="673.9" r="2.1"/><circle cx="1218.3" cy="692.2" r="2.1"/><circle cx="1222.5" cy="692.2" r="2.1"/><circle cx="1226.7" cy="692.2" r="2.1"/><circle cx="1231" cy="692.2" r="2.1"/><circle cx="1217.5" cy="715.2" r="2.1"/><circle cx="1222" cy="715.2" r="2.1"/><circle cx="1226.5" cy="715.2" r="2.1"/><circle cx="1231" cy="715.2" r="2.1"/><circle cx="1240.5" cy="702.9" r="2.1"/><circle cx="1246.1" cy="702.9" r="2.1"/><circle cx="1297.9" cy="671.5" r="2.1"/><circle cx="1297.9" cy="676.3" r="2.1"/><circle cx="1297.9" cy="679.5" r="2.1"/><circle cx="1297.9" cy="682.7" r="2.1"/><circle cx="1297.9" cy="691.4" r="2.1"/><circle cx="1297.9" cy="697" r="2.1"/><circle cx="1303.9" cy="662.8" r="2.1"/><circle cx="1303.9" cy="665.2" r="2.1"/><circle cx="1303.9" cy="670.7" r="2.1"/><circle cx="1303.9" cy="677.9" r="2.1"/><circle cx="1303.9" cy="685.8" r="2.1"/><circle cx="1315.4" cy="662" r="2.1"/><circle cx="1315.4" cy="665.2" r="2.1"/><circle cx="1315.4" cy="669.9" r="2.1"/><circle cx="1315.4" cy="677.9" r="2.1"/><circle cx="1315.4" cy="685" r="2.1"/><circle cx="1324.2" cy="642.1" r="2.1"/><circle cx="1324.2" cy="650.1" r="2.1"/><circle cx="1326.5" cy="654.9" r="2.1"/><circle cx="1326.5" cy="658.8" r="2.1"/><circle cx="1333.7" cy="642.1" r="2.1"/><circle cx="1333.7" cy="645.3" r="2.1"/><circle cx="1333.7" cy="650.1" r="2.1"/><circle cx="1333.7" cy="663.2" r="2.1"/><circle cx="1340.4" cy="645.3" r="2.1"/><circle cx="1340.4" cy="654.1" r="2.1"/><circle cx="1340.4" cy="662" r="2.1"/><circle cx="1340.4" cy="666" r="2.1"/><circle cx="1340.4" cy="670.1" r="2.1"/><circle cx="1340.4" cy="674.1" r="2.1"/><circle cx="1340.4" cy="678.1" r="2.1"/><circle cx="1340.4" cy="682.2" r="2.1"/><circle cx="1340.4" cy="686.2" r="2.1"/><circle cx="1340.4" cy="690.2" r="2.1"/><circle cx="1340.4" cy="694.3" r="2.1"/><circle cx="1340.4" cy="698.3" r="2.1"/><circle cx="1340.4" cy="702.3" r="2.1"/><circle cx="1340.4" cy="706.4" r="2.1"/><circle cx="1340.4" cy="710.4" r="2.1"/><circle cx="1340.4" cy="714.4" r="2.1"/><circle cx="1340.4" cy="723.2" r="2.1"/><circle cx="1372.6" cy="645.3" r="2.1"/><circle cx="1372.6" cy="663.6" r="2.1"/><circle cx="1372.6" cy="673.9" r="2.1"/><circle cx="1372.6" cy="680.3" r="2.1"/><circle cx="1372.6" cy="687.8" r="2.1"/><circle cx="1228.6" cy="734.5" r="2.1"/><circle cx="1232.6" cy="734.5" r="2.1"/><circle cx="1236.5" cy="734.5" r="2.1"/><circle cx="1240.5" cy="734.5" r="2.1"/><circle cx="1244.5" cy="734.5" r="2.1"/><circle cx="1248.5" cy="734.5" r="2.1"/><circle cx="1228.6" cy="736.5" r="2.1"/><circle cx="1232.6" cy="736.5" r="2.1"/><circle cx="1236.5" cy="736.5" r="2.1"/><circle cx="1240.5" cy="736.5" r="2.1"/><circle cx="1244.5" cy="736.5" r="2.1"/><circle cx="1248.5" cy="736.5" r="2.1"/><circle cx="1228.6" cy="738.5" r="2.1"/><circle cx="1232.6" cy="738.5" r="2.1"/><circle cx="1236.5" cy="738.5" r="2.1"/><circle cx="1240.5" cy="738.5" r="2.1"/><circle cx="1244.5" cy="738.5" r="2.1"/><circle cx="1248.5" cy="738.5" r="2.1"/><circle cx="1228.6" cy="760.7" r="2.1"/><circle cx="1232.6" cy="760.7" r="2.1"/><circle cx="1236.5" cy="760.7" r="2.1"/><circle cx="1240.5" cy="760.7" r="2.1"/><circle cx="1244.5" cy="760.7" r="2.1"/><circle cx="1248.5" cy="760.7" r="2.1"/><circle cx="1228.6" cy="763.1" r="2.1"/><circle cx="1232.6" cy="763.1" r="2.1"/><circle cx="1236.5" cy="763.1" r="2.1"/><circle cx="1240.5" cy="763.1" r="2.1"/><circle cx="1244.5" cy="763.1" r="2.1"/><circle cx="1248.5" cy="763.1" r="2.1"/><circle cx="1228.6" cy="765.5" r="2.1"/><circle cx="1232.6" cy="765.5" r="2.1"/><circle cx="1236.5" cy="765.5" r="2.1"/><circle cx="1240.5" cy="765.5" r="2.1"/><circle cx="1244.5" cy="765.5" r="2.1"/><circle cx="1248.5" cy="765.5" r="2.1"/><circle cx="1229.4" cy="730.6" r="2.1"/><circle cx="1233" cy="730.6" r="2.1"/><circle cx="1236.7" cy="730.6" r="2.1"/><circle cx="1240.4" cy="730.6" r="2.1"/><circle cx="1244" cy="730.6" r="2.1"/><circle cx="1247.7" cy="730.6" r="2.1"/><circle cx="1220.7" cy="730.6" r="2.1"/><circle cx="1254" cy="730.6" r="2.1"/><circle cx="1259.2" cy="730.6" r="2.1"/><circle cx="1220.7" cy="736.1" r="2.1"/><circle cx="1254" cy="736.1" r="2.1"/><circle cx="1265.1" cy="736.1" r="2.1"/><circle cx="1269.1" cy="736.1" r="2.1"/><circle cx="1273.1" cy="736.1" r="2.1"/><circle cx="1277" cy="736.1" r="2.1"/><circle cx="1279.4" cy="736.1" r="2.1"/><circle cx="1228.6" cy="744.5" r="2.1"/><circle cx="1232.6" cy="744.5" r="2.1"/><circle cx="1236.5" cy="744.5" r="2.1"/><circle cx="1240.5" cy="744.5" r="2.1"/><circle cx="1244.5" cy="744.5" r="2.1"/><circle cx="1248.5" cy="744.5" r="2.1"/><circle cx="1220.7" cy="744.5" r="2.1"/><circle cx="1273.5" cy="744.5" r="2.1"/><circle cx="1207.1" cy="754" r="2.1"/><circle cx="1215.9" cy="754" r="2.1"/><circle cx="1218.3" cy="754" r="2.1"/><circle cx="1228.2" cy="754" r="2.1"/><circle cx="1265.1" cy="754" r="2.1"/><circle cx="1268.8" cy="754" r="2.1"/><circle cx="1272.5" cy="754" r="2.1"/><circle cx="1276.3" cy="754" r="2.1"/><circle cx="1221" cy="761.5" r="2.1"/><circle cx="1265.1" cy="761.5" r="2.1"/><circle cx="1273.5" cy="761.5" r="2.1"/><circle cx="1279.4" cy="761.5" r="2.1"/><circle cx="1285.4" cy="761.5" r="2.1"/><circle cx="1207.1" cy="767.9" r="2.1"/><circle cx="1215.9" cy="767.9" r="2.1"/><circle cx="1218.3" cy="767.9" r="2.1"/><circle cx="1227.8" cy="767.9" r="2.1"/><circle cx="1265.1" cy="770.7" r="2.1"/><circle cx="1268.8" cy="770.7" r="2.1"/><circle cx="1272.5" cy="770.7" r="2.1"/><circle cx="1276.3" cy="770.7" r="2.1"/><circle cx="1279.4" cy="770.7" r="2.1"/><circle cx="1285.4" cy="770.7" r="2.1"/><circle cx="1265.1" cy="775.8" r="2.1"/><circle cx="1268.8" cy="775.8" r="2.1"/><circle cx="1272.5" cy="775.8" r="2.1"/><circle cx="1276.3" cy="775.8" r="2.1"/><circle cx="1279.4" cy="775.8" r="2.1"/><circle cx="1285.4" cy="775.8" r="2.1"/><circle cx="1289.8" cy="775.8" r="2.1"/><circle cx="1207.1" cy="777.4" r="2.1"/><circle cx="1215.9" cy="777.4" r="2.1"/><circle cx="1218.3" cy="777.4" r="2.1"/><circle cx="1227.8" cy="777.4" r="2.1"/><circle cx="1229.4" cy="781.8" r="2.1"/><circle cx="1233.2" cy="781.8" r="2.1"/><circle cx="1237" cy="781.8" r="2.1"/><circle cx="1240.8" cy="781.8" r="2.1"/><circle cx="1244.6" cy="781.8" r="2.1"/><circle cx="1248.5" cy="781.8" r="2.1"/><circle cx="1221" cy="781.8" r="2.1"/><circle cx="1254" cy="781.8" r="2.1"/><circle cx="1273.5" cy="781.8" r="2.1"/><circle cx="1279.8" cy="781.8" r="2.1"/><circle cx="1285.4" cy="781.8" r="2.1"/><circle cx="1229.4" cy="787" r="2.1"/><circle cx="1233.2" cy="787" r="2.1"/><circle cx="1237" cy="787" r="2.1"/><circle cx="1240.8" cy="787" r="2.1"/><circle cx="1244.6" cy="787" r="2.1"/><circle cx="1248.5" cy="787" r="2.1"/><circle cx="1221" cy="787" r="2.1"/><circle cx="1254" cy="787" r="2.1"/><circle cx="1279.8" cy="787" r="2.1"/><circle cx="1265.1" cy="793.3" r="2.1"/><circle cx="1269" cy="793.3" r="2.1"/><circle cx="1272.8" cy="793.3" r="2.1"/><circle cx="1276.7" cy="793.3" r="2.1"/><circle cx="1222.6" cy="793.3" r="2.1"/><circle cx="1220.7" cy="799.3" r="2.1"/><circle cx="1224.6" cy="799.3" r="2.1"/><circle cx="1228.6" cy="799.3" r="2.1"/><circle cx="1232.6" cy="799.3" r="2.1"/><circle cx="1236.5" cy="799.3" r="2.1"/><circle cx="1240.5" cy="799.3" r="2.1"/><circle cx="1244.5" cy="799.3" r="2.1"/><circle cx="1248.5" cy="799.3" r="2.1"/><circle cx="1254" cy="799.3" r="2.1"/><circle cx="1253.6" cy="814.8" r="2.1"/><circle cx="1273.5" cy="814.8" r="2.1"/><circle cx="1285" cy="814.8" r="2.1"/><circle cx="1254" cy="725" r="2.1"/><circle cx="1254" cy="728.2" r="2.1"/><circle cx="1254" cy="734.5" r="2.1"/><circle cx="1254" cy="738.5" r="2.1"/><circle cx="1254" cy="741.7" r="2.1"/><circle cx="1254" cy="744.9" r="2.1"/><circle cx="1254" cy="749.6" r="2.1"/><circle cx="1254" cy="753.2" r="2.1"/><circle cx="1254" cy="756.8" r="2.1"/><circle cx="1254" cy="761.5" r="2.1"/><circle cx="1254" cy="766.3" r="2.1"/><circle cx="1254" cy="770.3" r="2.1"/><circle cx="1254" cy="772.7" r="2.1"/><circle cx="1220.7" cy="725" r="2.1"/><circle cx="1220.7" cy="728.2" r="2.1"/><circle cx="1220.7" cy="740.1" r="2.1"/><circle cx="1220.7" cy="764.7" r="2.1"/><circle cx="1289.8" cy="731.8" r="2.1"/><circle cx="1289.8" cy="740.5" r="2.1"/><circle cx="1289.8" cy="761.1" r="2.1"/><circle cx="1289.8" cy="775.4" r="2.1"/><circle cx="1285.4" cy="743.3" r="2.1"/><circle cx="1285.4" cy="755.2" r="2.1"/><circle cx="1258.8" cy="741.7" r="2.1"/><circle cx="1258.8" cy="744.5" r="2.1"/><circle cx="1290.8" cy="731.8" r="2.1"/><circle cx="1297.9" cy="729.4" r="2.1"/><circle cx="1301.9" cy="727.4" r="2.1"/><circle cx="1301.9" cy="731.8" r="2.1"/><circle cx="1311.4" cy="732.1" r="2.1"/><circle cx="1317.4" cy="734.9" r="2.1"/><circle cx="1331.7" cy="734.9" r="2.1"/><circle cx="1340" cy="725" r="2.1"/><circle cx="1291.6" cy="740.5" r="2.1"/><circle cx="1303.9" cy="740.5" r="2.1"/><circle cx="1300.7" cy="744.1" r="2.1"/><circle cx="1313.8" cy="740.5" r="2.1"/><circle cx="1317" cy="740.9" r="2.1"/><circle cx="1322.6" cy="742.9" r="2.1"/><circle cx="1319.8" cy="746.4" r="2.1"/><circle cx="1326.5" cy="746" r="2.1"/><circle cx="1331.3" cy="740.5" r="2.1"/><circle cx="1331.7" cy="744.1" r="2.1"/><circle cx="1340.4" cy="740.5" r="2.1"/><circle cx="1340.4" cy="743.3" r="2.1"/><circle cx="1315.4" cy="752" r="2.1"/><circle cx="1317.8" cy="750.4" r="2.1"/><circle cx="1321" cy="750.4" r="2.1"/><circle cx="1323" cy="752" r="2.1"/><circle cx="1322.6" cy="756.4" r="2.1"/><circle cx="1331.3" cy="750.4" r="2.1"/><circle cx="1331.3" cy="756" r="2.1"/><circle cx="1340.4" cy="750.8" r="2.1"/><circle cx="1340.4" cy="756" r="2.1"/><circle cx="1301.9" cy="754.4" r="2.1"/><circle cx="1290.8" cy="761.4" r="2.1"/><circle cx="1301.9" cy="761.4" r="2.1"/><circle cx="1309.5" cy="761.4" r="2.1"/><circle cx="1312.2" cy="761.4" r="2.1"/><circle cx="1317" cy="760.3" r="2.1"/><circle cx="1316.6" cy="764.7" r="2.1"/><circle cx="1322.6" cy="763.1" r="2.1"/><circle cx="1322.6" cy="766.3" r="2.1"/><circle cx="1331.3" cy="761.5" r="2.1"/><circle cx="1331.3" cy="765.5" r="2.1"/><circle cx="1340.4" cy="763.1" r="2.1"/><circle cx="1340.4" cy="766.3" r="2.1"/><circle cx="1317" cy="771.9" r="2.1"/><circle cx="1322.6" cy="771.1" r="2.1"/><circle cx="1331.3" cy="771.1" r="2.1"/><circle cx="1340.4" cy="771.1" r="2.1"/><circle cx="1290.8" cy="775.7" r="2.1"/><circle cx="1301.9" cy="775.7" r="2.1"/><circle cx="1309.5" cy="775.7" r="2.1"/><circle cx="1312.2" cy="775.7" r="2.1"/><circle cx="1322.6" cy="777.4" r="2.1"/><circle cx="1316.6" cy="781.8" r="2.1"/><circle cx="1322.6" cy="782.6" r="2.1"/><circle cx="1331.3" cy="781.8" r="2.1"/><circle cx="1331.3" cy="787" r="2.1"/><circle cx="1340.4" cy="782.6" r="2.1"/><circle cx="1316.6" cy="786.2" r="2.1"/><circle cx="1317.8" cy="790.9" r="2.1"/><circle cx="1303.9" cy="793.3" r="2.1"/><circle cx="1317.8" cy="798.1" r="2.1"/><circle cx="1326.5" cy="802.4" r="2.1"/><circle cx="1322.6" cy="814.8" r="2.1"/><circle cx="1330.9" cy="814.8" r="2.1"/><circle cx="1340.4" cy="814.8" r="2.1"/></g>
<path d="M1174.5 618.9V837.5H1452.7" fill="none" stroke="#5a5a5a" stroke-width="1"/>
<line x1="1174.5" y1="619.1" x2="1174.5" y2="633.1" stroke="#111" stroke-width="1.4"/>
<line x1="1174.5" y1="810.9" x2="1174.5" y2="837.5" stroke="#111" stroke-width="1.4"/>
<path d="M1174.5 806.3h2.5M1214.2 837.5v-3M1174.5 775h2.5M1254 837.5v-3M1174.5 743.8h2.5M1293.7 837.5v-3M1174.5 712.6h2.5M1333.5 837.5v-3M1174.5 681.4h2.5M1373.2 837.5v-3M1174.5 650.1h2.5M1413 837.5v-3M1174.5 618.9h2.5M1452.7 837.5v-3" stroke="#b0b0b0" stroke-width="1"/>
<line x1="1174.5" y1="837.5" x2="1452.7" y2="618.9" stroke="#000" stroke-width="1.9"/>
<circle cx="1290.5" cy="719.4" r="4.9" fill="#ff0000"/>
<g font-size="12" fill="#262626"><text x="1174.5" y="855" text-anchor="middle">0</text><text x="1168.2" y="841.5" text-anchor="end">0</text><text x="1214.2" y="855" text-anchor="middle">10</text><text x="1168.2" y="810.3" text-anchor="end">10</text><text x="1254" y="855" text-anchor="middle">20</text><text x="1168.2" y="779" text-anchor="end">20</text><text x="1293.7" y="855" text-anchor="middle">30</text><text x="1168.2" y="747.8" text-anchor="end">30</text><text x="1333.5" y="855" text-anchor="middle">40</text><text x="1168.2" y="716.6" text-anchor="end">40</text><text x="1373.2" y="855" text-anchor="middle">50</text><text x="1168.2" y="685.4" text-anchor="end">50</text><text x="1413" y="855" text-anchor="middle">60</text><text x="1168.2" y="654.1" text-anchor="end">60</text><text x="1452.7" y="855" text-anchor="middle">70</text><text x="1168.2" y="622.9" text-anchor="end">70</text></g>
<text x="1231.2" y="880.6" font-size="17" textLength="178.2" lengthAdjust="spacingAndGlyphs">Iron grade (%) - Domain 5</text>
<text transform="translate(1142.7 818.7) rotate(-90)" font-size="17" textLength="177.2" lengthAdjust="spacingAndGlyphs">Iron grade (%) - Domain 3</text>
<text x="1454.3" y="826.7" font-size="17" text-anchor="end" textLength="57.2" lengthAdjust="spacingAndGlyphs">ρ = 0.20</text>
<g fill="#00ff00"><circle cx="1243.4" cy="1013.9" r="2.1"/><circle cx="1312.4" cy="1013.9" r="2.1"/><circle cx="1314.6" cy="1013.9" r="2.1"/><circle cx="1327.1" cy="1006.3" r="2.1"/><circle cx="1250.4" cy="1031" r="2.1"/><circle cx="1255.3" cy="1031" r="2.1"/><circle cx="1262.4" cy="1031" r="2.1"/><circle cx="1278.5" cy="1031" r="2.1"/><circle cx="1287.4" cy="1031" r="2.1"/><circle cx="1303.7" cy="1031" r="2.1"/><circle cx="1305.9" cy="1031" r="2.1"/><circle cx="1310.2" cy="1031" r="2.1"/><circle cx="1312.4" cy="1031" r="2.1"/><circle cx="1315.7" cy="1031" r="2.1"/><circle cx="1318.9" cy="1031" r="2.1"/><circle cx="1324.3" cy="1031" r="2.1"/><circle cx="1276.5" cy="1047.1" r="2.1"/><circle cx="1285.8" cy="1047.1" r="2.1"/><circle cx="1295" cy="1047.1" r="2.1"/><circle cx="1297.7" cy="1047.1" r="2.1"/><circle cx="1307" cy="1047.1" r="2.1"/><circle cx="1309.7" cy="1047.1" r="2.1"/><circle cx="1312.4" cy="1047.1" r="2.1"/><circle cx="1320" cy="1047.1" r="2.1"/><circle cx="1322.7" cy="1047.1" r="2.1"/><circle cx="1326" cy="1047.1" r="2.1"/><circle cx="1253.2" cy="1082.4" r="2.1"/><circle cx="1286.5" cy="1082.4" r="2.1"/><circle cx="1296.4" cy="1082.4" r="2.1"/><circle cx="1307" cy="1082.4" r="2.1"/><circle cx="1309.1" cy="1082.4" r="2.1"/><circle cx="1322.7" cy="1082.4" r="2.1"/><circle cx="1324.9" cy="1082.4" r="2.1"/><circle cx="1327.1" cy="1082.4" r="2.1"/><circle cx="1236.3" cy="1109" r="2.1"/><circle cx="1250.4" cy="1109" r="2.1"/><circle cx="1252.6" cy="1109" r="2.1"/><circle cx="1255.3" cy="1109" r="2.1"/><circle cx="1262.4" cy="1109" r="2.1"/><circle cx="1267.3" cy="1109" r="2.1"/><circle cx="1296.4" cy="1109" r="2.1"/><circle cx="1304.2" cy="1109" r="2.1"/><circle cx="1307" cy="1109" r="2.1"/><circle cx="1310.2" cy="1109" r="2.1"/><circle cx="1314.6" cy="1109" r="2.1"/><circle cx="1317.8" cy="1109" r="2.1"/></g>
<path d="M1174.5 916.9V1135.3H1453.1" fill="none" stroke="#3a3a3a" stroke-width="1"/>
<path d="M1174.5 1104.1h2.5M1214.3 1135.3v-3M1174.5 1072.9h2.5M1254.1 1135.3v-3M1174.5 1041.7h2.5M1293.9 1135.3v-3M1174.5 1010.5h2.5M1333.7 1135.3v-3M1174.5 979.3h2.5M1373.5 1135.3v-3M1174.5 948.1h2.5M1413.3 1135.3v-3M1174.5 916.9h2.5M1453.1 1135.3v-3" stroke="#b0b0b0" stroke-width="1"/>
<line x1="1174.5" y1="1135.3" x2="1453.1" y2="916.9" stroke="#000" stroke-width="1.9"/>
<circle cx="1297.4" cy="1062.8" r="4.9" fill="#ff0000"/>
<g font-size="12" fill="#262626"><text x="1174.5" y="1152.8" text-anchor="middle">0</text><text x="1168.2" y="1139.3" text-anchor="end">0</text><text x="1214.3" y="1152.8" text-anchor="middle">10</text><text x="1168.2" y="1108.1" text-anchor="end">10</text><text x="1254.1" y="1152.8" text-anchor="middle">20</text><text x="1168.2" y="1076.9" text-anchor="end">20</text><text x="1293.9" y="1152.8" text-anchor="middle">30</text><text x="1168.2" y="1045.7" text-anchor="end">30</text><text x="1333.7" y="1152.8" text-anchor="middle">40</text><text x="1168.2" y="1014.5" text-anchor="end">40</text><text x="1373.5" y="1152.8" text-anchor="middle">50</text><text x="1168.2" y="983.3" text-anchor="end">50</text><text x="1413.3" y="1152.8" text-anchor="middle">60</text><text x="1168.2" y="952.1" text-anchor="end">60</text><text x="1453.1" y="1152.8" text-anchor="middle">70</text><text x="1168.2" y="920.9" text-anchor="end">70</text></g>
<text x="1230.7" y="1176.9" font-size="17" textLength="178.2" lengthAdjust="spacingAndGlyphs">Iron grade (%) - Domain 5</text>
<text transform="translate(1140.7 1114.4) rotate(-90)" font-size="17" textLength="177.2" lengthAdjust="spacingAndGlyphs">Iron grade (%) - Domain 4</text>
<text x="1453.2" y="1125.3" font-size="17" text-anchor="end" textLength="57.2" lengthAdjust="spacingAndGlyphs">ρ = 0.18</text>
</svg></body></html>
